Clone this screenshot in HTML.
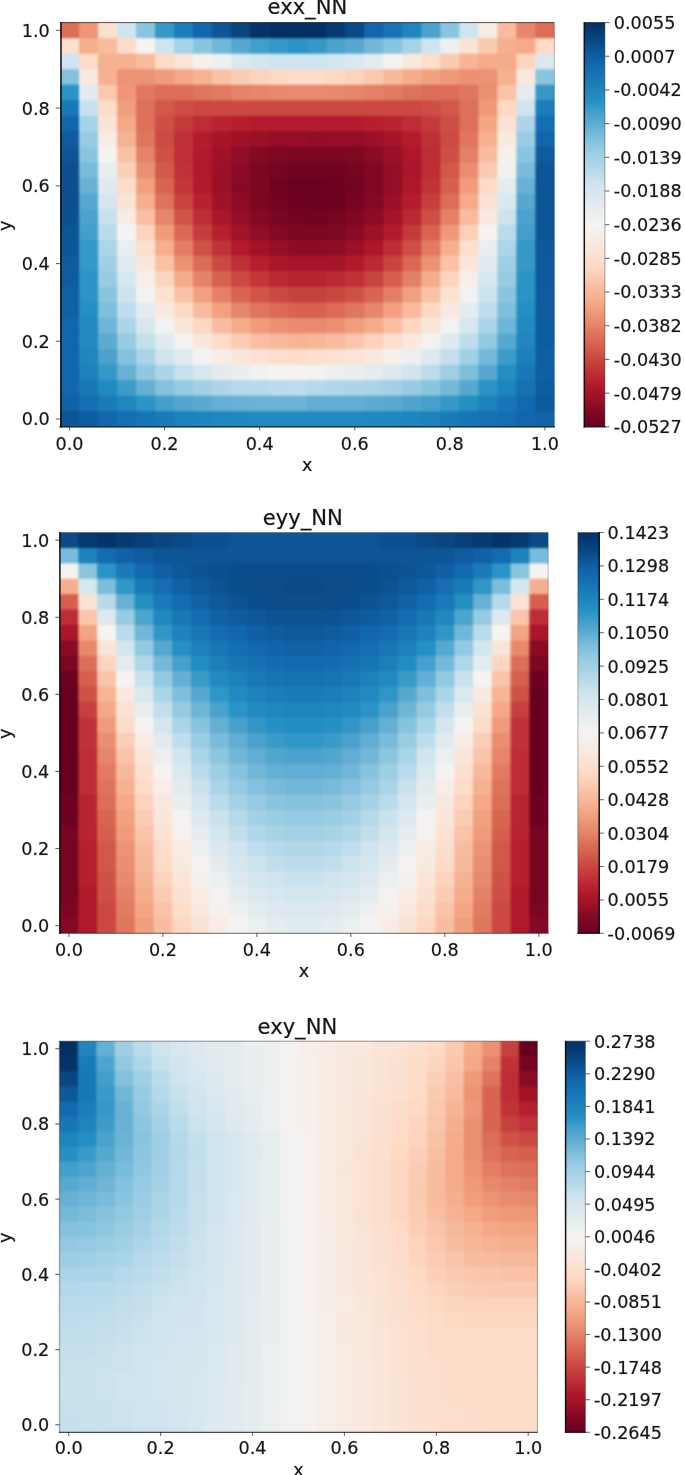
<!DOCTYPE html>
<html><head><meta charset="utf-8"><title>strain fields</title>
<style>html,body{margin:0;padding:0;background:#fff}svg{display:block}text{font-family:"DejaVu Sans","Liberation Sans",sans-serif;fill:#151515;stroke:#151515;stroke-width:0.7;stroke-opacity:0.3}line{stroke:#111}</style></head>
<body>
<svg width="685" height="1475" viewBox="0 0 685 1475">
<defs><linearGradient id="rdbu" x1="0" y1="0" x2="0" y2="1"><stop offset="0.000" stop-color="#033063"/><stop offset="0.025" stop-color="#063d74"/><stop offset="0.050" stop-color="#0a4a86"/><stop offset="0.075" stop-color="#0e599b"/><stop offset="0.100" stop-color="#1266ad"/><stop offset="0.125" stop-color="#1671b3"/><stop offset="0.150" stop-color="#1b7dba"/><stop offset="0.175" stop-color="#2088bf"/><stop offset="0.200" stop-color="#2994c5"/><stop offset="0.225" stop-color="#47a0cb"/><stop offset="0.250" stop-color="#5dabd1"/><stop offset="0.275" stop-color="#75b9d9"/><stop offset="0.300" stop-color="#8ac5df"/><stop offset="0.325" stop-color="#9dcee4"/><stop offset="0.350" stop-color="#add5e8"/><stop offset="0.375" stop-color="#bddceb"/><stop offset="0.400" stop-color="#cfe4ee"/><stop offset="0.425" stop-color="#d8e7ef"/><stop offset="0.450" stop-color="#e3ebef"/><stop offset="0.475" stop-color="#ebefef"/><stop offset="0.500" stop-color="#f5f3f2"/><stop offset="0.525" stop-color="#f7ede7"/><stop offset="0.550" stop-color="#f9e8dd"/><stop offset="0.575" stop-color="#fbe1d1"/><stop offset="0.600" stop-color="#fddbc7"/><stop offset="0.625" stop-color="#fbceb7"/><stop offset="0.650" stop-color="#f8bfa4"/><stop offset="0.675" stop-color="#f6b394"/><stop offset="0.700" stop-color="#f3a481"/><stop offset="0.725" stop-color="#ec9374"/><stop offset="0.750" stop-color="#e58368"/><stop offset="0.775" stop-color="#dd7059"/><stop offset="0.800" stop-color="#d6604d"/><stop offset="0.825" stop-color="#cc4c44"/><stop offset="0.850" stop-color="#c43b3c"/><stop offset="0.875" stop-color="#bb2a34"/><stop offset="0.900" stop-color="#b1182b"/><stop offset="0.925" stop-color="#9f1228"/><stop offset="0.950" stop-color="#8a0b25"/><stop offset="0.975" stop-color="#790622"/><stop offset="1.000" stop-color="#67001f"/></linearGradient><filter id="hb" color-interpolation-filters="sRGB" x="-2%" y="-2%" width="104%" height="104%"><feGaussianBlur stdDeviation="0.8"/></filter><clipPath id="cp0"><rect x="60.00" y="22.60" width="494.40" height="404.20"/></clipPath><clipPath id="cp1"><rect x="59.50" y="532.50" width="488.70" height="400.80"/></clipPath><clipPath id="cp2"><rect x="59.50" y="1041.20" width="477.90" height="391.10"/></clipPath></defs>
<rect width="685" height="1475" fill="#fff"/>
<g clip-path="url(#cp0)"><g filter="url(#hb)">
<rect x="57.00" y="19.60" width="23.02" height="19.55" fill="#dc6e57"/><rect x="79.02" y="19.60" width="20.02" height="19.55" fill="#ee9677"/><rect x="98.03" y="19.60" width="20.02" height="19.55" fill="#fbe0cf"/><rect x="117.05" y="19.60" width="20.02" height="19.55" fill="#cfe4ee"/><rect x="136.06" y="19.60" width="20.02" height="19.55" fill="#8ac5df"/><rect x="155.08" y="19.60" width="20.02" height="19.55" fill="#3598c7"/><rect x="174.09" y="19.60" width="20.02" height="19.55" fill="#1b7dba"/><rect x="193.11" y="19.60" width="20.02" height="19.55" fill="#1266ad"/><rect x="212.12" y="19.60" width="20.02" height="19.55" fill="#0d5595"/><rect x="231.14" y="19.60" width="20.02" height="19.55" fill="#094680"/><rect x="250.15" y="19.60" width="20.02" height="19.55" fill="#043569"/><rect x="269.17" y="19.60" width="20.02" height="19.55" fill="#033063"/><rect x="288.18" y="19.60" width="20.02" height="19.55" fill="#033063"/><rect x="307.20" y="19.60" width="20.02" height="19.55" fill="#033063"/><rect x="326.22" y="19.60" width="20.02" height="19.55" fill="#063b71"/><rect x="345.23" y="19.60" width="20.02" height="19.55" fill="#0a4a86"/><rect x="364.25" y="19.60" width="20.02" height="19.55" fill="#1266ad"/><rect x="383.26" y="19.60" width="20.02" height="19.55" fill="#1874b5"/><rect x="402.28" y="19.60" width="20.02" height="19.55" fill="#1f86be"/><rect x="421.29" y="19.60" width="20.02" height="19.55" fill="#4ba2cc"/><rect x="440.31" y="19.60" width="20.02" height="19.55" fill="#8ac5df"/><rect x="459.32" y="19.60" width="20.02" height="19.55" fill="#cfe4ee"/><rect x="478.34" y="19.60" width="20.02" height="19.55" fill="#f8ece5"/><rect x="497.35" y="19.60" width="20.02" height="19.55" fill="#f8bb9e"/><rect x="516.37" y="19.60" width="20.02" height="19.55" fill="#e6866a"/><rect x="535.38" y="19.60" width="23.02" height="19.55" fill="#dc6e57"/>
<rect x="57.00" y="38.15" width="23.02" height="16.55" fill="#fbe0cf"/><rect x="79.02" y="38.15" width="20.02" height="16.55" fill="#f6af8e"/><rect x="98.03" y="38.15" width="20.02" height="16.55" fill="#f8bb9e"/><rect x="117.05" y="38.15" width="20.02" height="16.55" fill="#fcddca"/><rect x="136.06" y="38.15" width="20.02" height="16.55" fill="#f5f3f2"/><rect x="155.08" y="38.15" width="20.02" height="16.55" fill="#cfe4ee"/><rect x="174.09" y="38.15" width="20.02" height="16.55" fill="#a7d3e6"/><rect x="193.11" y="38.15" width="20.02" height="16.55" fill="#8ac5df"/><rect x="212.12" y="38.15" width="20.02" height="16.55" fill="#72b7d8"/><rect x="231.14" y="38.15" width="20.02" height="16.55" fill="#56a8cf"/><rect x="250.15" y="38.15" width="20.02" height="16.55" fill="#439eca"/><rect x="269.17" y="38.15" width="20.02" height="16.55" fill="#3598c7"/><rect x="288.18" y="38.15" width="20.02" height="16.55" fill="#2994c5"/><rect x="307.20" y="38.15" width="20.02" height="16.55" fill="#3598c7"/><rect x="326.22" y="38.15" width="20.02" height="16.55" fill="#4ba2cc"/><rect x="345.23" y="38.15" width="20.02" height="16.55" fill="#56a8cf"/><rect x="364.25" y="38.15" width="20.02" height="16.55" fill="#72b7d8"/><rect x="383.26" y="38.15" width="20.02" height="16.55" fill="#8ac5df"/><rect x="402.28" y="38.15" width="20.02" height="16.55" fill="#a7d3e6"/><rect x="421.29" y="38.15" width="20.02" height="16.55" fill="#cfe4ee"/><rect x="440.31" y="38.15" width="20.02" height="16.55" fill="#edeff0"/><rect x="459.32" y="38.15" width="20.02" height="16.55" fill="#fbe3d5"/><rect x="478.34" y="38.15" width="20.02" height="16.55" fill="#facab1"/><rect x="497.35" y="38.15" width="20.02" height="16.55" fill="#f6af8e"/><rect x="516.37" y="38.15" width="20.02" height="16.55" fill="#f5aa89"/><rect x="535.38" y="38.15" width="23.02" height="16.55" fill="#fddbc7"/>
<rect x="57.00" y="53.69" width="23.02" height="16.55" fill="#cfe4ee"/><rect x="79.02" y="53.69" width="20.02" height="16.55" fill="#fddbc7"/><rect x="98.03" y="53.69" width="20.02" height="16.55" fill="#f6b191"/><rect x="117.05" y="53.69" width="20.02" height="16.55" fill="#f6b191"/><rect x="136.06" y="53.69" width="20.02" height="16.55" fill="#f8bb9e"/><rect x="155.08" y="53.69" width="20.02" height="16.55" fill="#fddbc7"/><rect x="174.09" y="53.69" width="20.02" height="16.55" fill="#fae5d8"/><rect x="193.11" y="53.69" width="20.02" height="16.55" fill="#f7efea"/><rect x="212.12" y="53.69" width="20.02" height="16.55" fill="#edeff0"/><rect x="231.14" y="53.69" width="20.02" height="16.55" fill="#dbe8ef"/><rect x="250.15" y="53.69" width="20.02" height="16.55" fill="#d3e6ef"/><rect x="269.17" y="53.69" width="20.02" height="16.55" fill="#cfe4ee"/><rect x="288.18" y="53.69" width="20.02" height="16.55" fill="#cfe4ee"/><rect x="307.20" y="53.69" width="20.02" height="16.55" fill="#cfe4ee"/><rect x="326.22" y="53.69" width="20.02" height="16.55" fill="#d3e6ef"/><rect x="345.23" y="53.69" width="20.02" height="16.55" fill="#dbe8ef"/><rect x="364.25" y="53.69" width="20.02" height="16.55" fill="#e5ecef"/><rect x="383.26" y="53.69" width="20.02" height="16.55" fill="#f5f3f2"/><rect x="402.28" y="53.69" width="20.02" height="16.55" fill="#f9e8dd"/><rect x="421.29" y="53.69" width="20.02" height="16.55" fill="#fcdecc"/><rect x="440.31" y="53.69" width="20.02" height="16.55" fill="#facab1"/><rect x="459.32" y="53.69" width="20.02" height="16.55" fill="#f7b596"/><rect x="478.34" y="53.69" width="20.02" height="16.55" fill="#f5aa89"/><rect x="497.35" y="53.69" width="20.02" height="16.55" fill="#f5aa89"/><rect x="516.37" y="53.69" width="20.02" height="16.55" fill="#fcd5bf"/><rect x="535.38" y="53.69" width="23.02" height="16.55" fill="#dbe8ef"/>
<rect x="57.00" y="69.24" width="23.02" height="16.55" fill="#83c1dd"/><rect x="79.02" y="69.24" width="20.02" height="16.55" fill="#f8e9e0"/><rect x="98.03" y="69.24" width="20.02" height="16.55" fill="#f6b191"/><rect x="117.05" y="69.24" width="20.02" height="16.55" fill="#ec9374"/><rect x="136.06" y="69.24" width="20.02" height="16.55" fill="#ec9374"/><rect x="155.08" y="69.24" width="20.02" height="16.55" fill="#f09c7b"/><rect x="174.09" y="69.24" width="20.02" height="16.55" fill="#f5a886"/><rect x="193.11" y="69.24" width="20.02" height="16.55" fill="#f6b394"/><rect x="212.12" y="69.24" width="20.02" height="16.55" fill="#f9c2a7"/><rect x="231.14" y="69.24" width="20.02" height="16.55" fill="#fbccb4"/><rect x="250.15" y="69.24" width="20.02" height="16.55" fill="#fcd3bc"/><rect x="269.17" y="69.24" width="20.02" height="16.55" fill="#fdd9c4"/><rect x="288.18" y="69.24" width="20.02" height="16.55" fill="#fddcc9"/><rect x="307.20" y="69.24" width="20.02" height="16.55" fill="#fddcc9"/><rect x="326.22" y="69.24" width="20.02" height="16.55" fill="#fdd9c4"/><rect x="345.23" y="69.24" width="20.02" height="16.55" fill="#fcd3bc"/><rect x="364.25" y="69.24" width="20.02" height="16.55" fill="#fac8af"/><rect x="383.26" y="69.24" width="20.02" height="16.55" fill="#f7b99c"/><rect x="402.28" y="69.24" width="20.02" height="16.55" fill="#f5ac8b"/><rect x="421.29" y="69.24" width="20.02" height="16.55" fill="#f2a17f"/><rect x="440.31" y="69.24" width="20.02" height="16.55" fill="#ef9979"/><rect x="459.32" y="69.24" width="20.02" height="16.55" fill="#eb9172"/><rect x="478.34" y="69.24" width="20.02" height="16.55" fill="#ec9374"/><rect x="497.35" y="69.24" width="20.02" height="16.55" fill="#f6b191"/><rect x="516.37" y="69.24" width="20.02" height="16.55" fill="#f8e9e0"/><rect x="535.38" y="69.24" width="23.02" height="16.55" fill="#8ac5df"/>
<rect x="57.00" y="84.78" width="23.02" height="16.55" fill="#2994c5"/><rect x="79.02" y="84.78" width="20.02" height="16.55" fill="#e3ebef"/><rect x="98.03" y="84.78" width="20.02" height="16.55" fill="#fac8af"/><rect x="117.05" y="84.78" width="20.02" height="16.55" fill="#ee9677"/><rect x="136.06" y="84.78" width="20.02" height="16.55" fill="#e17860"/><rect x="155.08" y="84.78" width="20.02" height="16.55" fill="#dc6e57"/><rect x="174.09" y="84.78" width="20.02" height="16.55" fill="#dc6e57"/><rect x="193.11" y="84.78" width="20.02" height="16.55" fill="#df765e"/><rect x="212.12" y="84.78" width="20.02" height="16.55" fill="#e27b62"/><rect x="231.14" y="84.78" width="20.02" height="16.55" fill="#e58368"/><rect x="250.15" y="84.78" width="20.02" height="16.55" fill="#e6866a"/><rect x="269.17" y="84.78" width="20.02" height="16.55" fill="#e8896c"/><rect x="288.18" y="84.78" width="20.02" height="16.55" fill="#e98b6e"/><rect x="307.20" y="84.78" width="20.02" height="16.55" fill="#e98b6e"/><rect x="326.22" y="84.78" width="20.02" height="16.55" fill="#e8896c"/><rect x="345.23" y="84.78" width="20.02" height="16.55" fill="#e6866a"/><rect x="364.25" y="84.78" width="20.02" height="16.55" fill="#e48066"/><rect x="383.26" y="84.78" width="20.02" height="16.55" fill="#e27b62"/><rect x="402.28" y="84.78" width="20.02" height="16.55" fill="#de735c"/><rect x="421.29" y="84.78" width="20.02" height="16.55" fill="#dc6e57"/><rect x="440.31" y="84.78" width="20.02" height="16.55" fill="#dc6e57"/><rect x="459.32" y="84.78" width="20.02" height="16.55" fill="#df765e"/><rect x="478.34" y="84.78" width="20.02" height="16.55" fill="#eb9172"/><rect x="497.35" y="84.78" width="20.02" height="16.55" fill="#f9c4a9"/><rect x="516.37" y="84.78" width="20.02" height="16.55" fill="#e5ecef"/><rect x="535.38" y="84.78" width="23.02" height="16.55" fill="#3598c7"/>
<rect x="57.00" y="100.33" width="23.02" height="16.55" fill="#1978b7"/><rect x="79.02" y="100.33" width="20.02" height="16.55" fill="#c7e1ed"/><rect x="98.03" y="100.33" width="20.02" height="16.55" fill="#fcddca"/><rect x="117.05" y="100.33" width="20.02" height="16.55" fill="#f19e7d"/><rect x="136.06" y="100.33" width="20.02" height="16.55" fill="#dd7059"/><rect x="155.08" y="100.33" width="20.02" height="16.55" fill="#d25849"/><rect x="174.09" y="100.33" width="20.02" height="16.55" fill="#ce4f45"/><rect x="193.11" y="100.33" width="20.02" height="16.55" fill="#cb4942"/><rect x="212.12" y="100.33" width="20.02" height="16.55" fill="#cb4942"/><rect x="231.14" y="100.33" width="20.02" height="16.55" fill="#cb4942"/><rect x="250.15" y="100.33" width="20.02" height="16.55" fill="#cb4942"/><rect x="269.17" y="100.33" width="20.02" height="16.55" fill="#cb4942"/><rect x="288.18" y="100.33" width="20.02" height="16.55" fill="#cb4942"/><rect x="307.20" y="100.33" width="20.02" height="16.55" fill="#cb4942"/><rect x="326.22" y="100.33" width="20.02" height="16.55" fill="#cb4942"/><rect x="345.23" y="100.33" width="20.02" height="16.55" fill="#cb4942"/><rect x="364.25" y="100.33" width="20.02" height="16.55" fill="#cb4942"/><rect x="383.26" y="100.33" width="20.02" height="16.55" fill="#cb4942"/><rect x="402.28" y="100.33" width="20.02" height="16.55" fill="#cb4942"/><rect x="421.29" y="100.33" width="20.02" height="16.55" fill="#ce4f45"/><rect x="440.31" y="100.33" width="20.02" height="16.55" fill="#d25849"/><rect x="459.32" y="100.33" width="20.02" height="16.55" fill="#dd7059"/><rect x="478.34" y="100.33" width="20.02" height="16.55" fill="#ef9979"/><rect x="497.35" y="100.33" width="20.02" height="16.55" fill="#fdd9c4"/><rect x="516.37" y="100.33" width="20.02" height="16.55" fill="#cfe4ee"/><rect x="535.38" y="100.33" width="23.02" height="16.55" fill="#1b7dba"/>
<rect x="57.00" y="115.88" width="23.02" height="16.55" fill="#1266ad"/><rect x="79.02" y="115.88" width="20.02" height="16.55" fill="#a7d3e6"/><rect x="98.03" y="115.88" width="20.02" height="16.55" fill="#fae4d6"/><rect x="117.05" y="115.88" width="20.02" height="16.55" fill="#f5a886"/><rect x="136.06" y="115.88" width="20.02" height="16.55" fill="#dd7059"/><rect x="155.08" y="115.88" width="20.02" height="16.55" fill="#ce4f45"/><rect x="174.09" y="115.88" width="20.02" height="16.55" fill="#c43b3c"/><rect x="193.11" y="115.88" width="20.02" height="16.55" fill="#bd2d35"/><rect x="212.12" y="115.88" width="20.02" height="16.55" fill="#b82531"/><rect x="231.14" y="115.88" width="20.02" height="16.55" fill="#b61f2e"/><rect x="250.15" y="115.88" width="20.02" height="16.55" fill="#b41c2d"/><rect x="269.17" y="115.88" width="20.02" height="16.55" fill="#b41c2d"/><rect x="288.18" y="115.88" width="20.02" height="16.55" fill="#b41c2d"/><rect x="307.20" y="115.88" width="20.02" height="16.55" fill="#b41c2d"/><rect x="326.22" y="115.88" width="20.02" height="16.55" fill="#b41c2d"/><rect x="345.23" y="115.88" width="20.02" height="16.55" fill="#b41c2d"/><rect x="364.25" y="115.88" width="20.02" height="16.55" fill="#b61f2e"/><rect x="383.26" y="115.88" width="20.02" height="16.55" fill="#b82531"/><rect x="402.28" y="115.88" width="20.02" height="16.55" fill="#bd2d35"/><rect x="421.29" y="115.88" width="20.02" height="16.55" fill="#c43b3c"/><rect x="440.31" y="115.88" width="20.02" height="16.55" fill="#ce4f45"/><rect x="459.32" y="115.88" width="20.02" height="16.55" fill="#dd7059"/><rect x="478.34" y="115.88" width="20.02" height="16.55" fill="#f4a683"/><rect x="497.35" y="115.88" width="20.02" height="16.55" fill="#fbe2d3"/><rect x="516.37" y="115.88" width="20.02" height="16.55" fill="#add5e8"/><rect x="535.38" y="115.88" width="23.02" height="16.55" fill="#156fb2"/>
<rect x="57.00" y="131.42" width="23.02" height="16.55" fill="#0f5b9e"/><rect x="79.02" y="131.42" width="20.02" height="16.55" fill="#97cbe2"/><rect x="98.03" y="131.42" width="20.02" height="16.55" fill="#f8ebe4"/><rect x="117.05" y="131.42" width="20.02" height="16.55" fill="#f6b394"/><rect x="136.06" y="131.42" width="20.02" height="16.55" fill="#df765e"/><rect x="155.08" y="131.42" width="20.02" height="16.55" fill="#cc4c44"/><rect x="174.09" y="131.42" width="20.02" height="16.55" fill="#be3036"/><rect x="193.11" y="131.42" width="20.02" height="16.55" fill="#b41c2d"/><rect x="212.12" y="131.42" width="20.02" height="16.55" fill="#a81529"/><rect x="231.14" y="131.42" width="20.02" height="16.55" fill="#9f1228"/><rect x="250.15" y="131.42" width="20.02" height="16.55" fill="#991027"/><rect x="269.17" y="131.42" width="20.02" height="16.55" fill="#930e26"/><rect x="288.18" y="131.42" width="20.02" height="16.55" fill="#930e26"/><rect x="307.20" y="131.42" width="20.02" height="16.55" fill="#900d26"/><rect x="326.22" y="131.42" width="20.02" height="16.55" fill="#930e26"/><rect x="345.23" y="131.42" width="20.02" height="16.55" fill="#930e26"/><rect x="364.25" y="131.42" width="20.02" height="16.55" fill="#9c1127"/><rect x="383.26" y="131.42" width="20.02" height="16.55" fill="#a51429"/><rect x="402.28" y="131.42" width="20.02" height="16.55" fill="#b41c2d"/><rect x="421.29" y="131.42" width="20.02" height="16.55" fill="#be3036"/><rect x="440.31" y="131.42" width="20.02" height="16.55" fill="#cc4c44"/><rect x="459.32" y="131.42" width="20.02" height="16.55" fill="#df765e"/><rect x="478.34" y="131.42" width="20.02" height="16.55" fill="#f6b191"/><rect x="497.35" y="131.42" width="20.02" height="16.55" fill="#f9eae0"/><rect x="516.37" y="131.42" width="20.02" height="16.55" fill="#9acde3"/><rect x="535.38" y="131.42" width="23.02" height="16.55" fill="#1266ad"/>
<rect x="57.00" y="146.97" width="23.02" height="16.55" fill="#0d5595"/><rect x="79.02" y="146.97" width="20.02" height="16.55" fill="#8ac5df"/><rect x="98.03" y="146.97" width="20.02" height="16.55" fill="#f6f2ef"/><rect x="117.05" y="146.97" width="20.02" height="16.55" fill="#f9c2a7"/><rect x="136.06" y="146.97" width="20.02" height="16.55" fill="#e58368"/><rect x="155.08" y="146.97" width="20.02" height="16.55" fill="#cf5246"/><rect x="174.09" y="146.97" width="20.02" height="16.55" fill="#be3036"/><rect x="193.11" y="146.97" width="20.02" height="16.55" fill="#b3192c"/><rect x="212.12" y="146.97" width="20.02" height="16.55" fill="#9f1228"/><rect x="231.14" y="146.97" width="20.02" height="16.55" fill="#900d26"/><rect x="250.15" y="146.97" width="20.02" height="16.55" fill="#840924"/><rect x="269.17" y="146.97" width="20.02" height="16.55" fill="#7f0823"/><rect x="288.18" y="146.97" width="20.02" height="16.55" fill="#7c0722"/><rect x="307.20" y="146.97" width="20.02" height="16.55" fill="#7c0722"/><rect x="326.22" y="146.97" width="20.02" height="16.55" fill="#7c0722"/><rect x="345.23" y="146.97" width="20.02" height="16.55" fill="#7f0823"/><rect x="364.25" y="146.97" width="20.02" height="16.55" fill="#8a0b25"/><rect x="383.26" y="146.97" width="20.02" height="16.55" fill="#991027"/><rect x="402.28" y="146.97" width="20.02" height="16.55" fill="#ae172a"/><rect x="421.29" y="146.97" width="20.02" height="16.55" fill="#bd2d35"/><rect x="440.31" y="146.97" width="20.02" height="16.55" fill="#ce4f45"/><rect x="459.32" y="146.97" width="20.02" height="16.55" fill="#e48066"/><rect x="478.34" y="146.97" width="20.02" height="16.55" fill="#f8bda1"/><rect x="497.35" y="146.97" width="20.02" height="16.55" fill="#f6f0ec"/><rect x="516.37" y="146.97" width="20.02" height="16.55" fill="#8ac5df"/><rect x="535.38" y="146.97" width="23.02" height="16.55" fill="#0f5b9e"/>
<rect x="57.00" y="162.52" width="23.02" height="16.55" fill="#0c508f"/><rect x="79.02" y="162.52" width="20.02" height="16.55" fill="#79bbda"/><rect x="98.03" y="162.52" width="20.02" height="16.55" fill="#e8edef"/><rect x="117.05" y="162.52" width="20.02" height="16.55" fill="#fbd0b9"/><rect x="136.06" y="162.52" width="20.02" height="16.55" fill="#eb9172"/><rect x="155.08" y="162.52" width="20.02" height="16.55" fill="#d35a4a"/><rect x="174.09" y="162.52" width="20.02" height="16.55" fill="#bf3338"/><rect x="193.11" y="162.52" width="20.02" height="16.55" fill="#b1182b"/><rect x="212.12" y="162.52" width="20.02" height="16.55" fill="#9c1127"/><rect x="231.14" y="162.52" width="20.02" height="16.55" fill="#8a0b25"/><rect x="250.15" y="162.52" width="20.02" height="16.55" fill="#7c0722"/><rect x="269.17" y="162.52" width="20.02" height="16.55" fill="#760521"/><rect x="288.18" y="162.52" width="20.02" height="16.55" fill="#700320"/><rect x="307.20" y="162.52" width="20.02" height="16.55" fill="#700320"/><rect x="326.22" y="162.52" width="20.02" height="16.55" fill="#700320"/><rect x="345.23" y="162.52" width="20.02" height="16.55" fill="#760521"/><rect x="364.25" y="162.52" width="20.02" height="16.55" fill="#810823"/><rect x="383.26" y="162.52" width="20.02" height="16.55" fill="#930e26"/><rect x="402.28" y="162.52" width="20.02" height="16.55" fill="#ab162a"/><rect x="421.29" y="162.52" width="20.02" height="16.55" fill="#bd2d35"/><rect x="440.31" y="162.52" width="20.02" height="16.55" fill="#d25849"/><rect x="459.32" y="162.52" width="20.02" height="16.55" fill="#ea8e70"/><rect x="478.34" y="162.52" width="20.02" height="16.55" fill="#facab1"/><rect x="497.35" y="162.52" width="20.02" height="16.55" fill="#f0f1f0"/><rect x="516.37" y="162.52" width="20.02" height="16.55" fill="#79bbda"/><rect x="535.38" y="162.52" width="23.02" height="16.55" fill="#0d5595"/>
<rect x="57.00" y="178.06" width="23.02" height="16.55" fill="#0c508f"/><rect x="79.02" y="178.06" width="20.02" height="16.55" fill="#68b1d5"/><rect x="98.03" y="178.06" width="20.02" height="16.55" fill="#deeaef"/><rect x="117.05" y="178.06" width="20.02" height="16.55" fill="#fcddca"/><rect x="136.06" y="178.06" width="20.02" height="16.55" fill="#f2a17f"/><rect x="155.08" y="178.06" width="20.02" height="16.55" fill="#d86551"/><rect x="174.09" y="178.06" width="20.02" height="16.55" fill="#c2383a"/><rect x="193.11" y="178.06" width="20.02" height="16.55" fill="#b3192c"/><rect x="212.12" y="178.06" width="20.02" height="16.55" fill="#9c1127"/><rect x="231.14" y="178.06" width="20.02" height="16.55" fill="#870a24"/><rect x="250.15" y="178.06" width="20.02" height="16.55" fill="#7c0722"/><rect x="269.17" y="178.06" width="20.02" height="16.55" fill="#700320"/><rect x="288.18" y="178.06" width="20.02" height="16.55" fill="#6a011f"/><rect x="307.20" y="178.06" width="20.02" height="16.55" fill="#6a011f"/><rect x="326.22" y="178.06" width="20.02" height="16.55" fill="#6d0220"/><rect x="345.23" y="178.06" width="20.02" height="16.55" fill="#730421"/><rect x="364.25" y="178.06" width="20.02" height="16.55" fill="#7f0823"/><rect x="383.26" y="178.06" width="20.02" height="16.55" fill="#930e26"/><rect x="402.28" y="178.06" width="20.02" height="16.55" fill="#ae172a"/><rect x="421.29" y="178.06" width="20.02" height="16.55" fill="#bf3338"/><rect x="440.31" y="178.06" width="20.02" height="16.55" fill="#d6604d"/><rect x="459.32" y="178.06" width="20.02" height="16.55" fill="#f09c7b"/><rect x="478.34" y="178.06" width="20.02" height="16.55" fill="#fddbc7"/><rect x="497.35" y="178.06" width="20.02" height="16.55" fill="#e4ecef"/><rect x="516.37" y="178.06" width="20.02" height="16.55" fill="#68b1d5"/><rect x="535.38" y="178.06" width="23.02" height="16.55" fill="#0d5595"/>
<rect x="57.00" y="193.61" width="23.02" height="16.55" fill="#0c508f"/><rect x="79.02" y="193.61" width="20.02" height="16.55" fill="#56a8cf"/><rect x="98.03" y="193.61" width="20.02" height="16.55" fill="#d5e6ef"/><rect x="117.05" y="193.61" width="20.02" height="16.55" fill="#fae4d6"/><rect x="136.06" y="193.61" width="20.02" height="16.55" fill="#f6af8e"/><rect x="155.08" y="193.61" width="20.02" height="16.55" fill="#de735c"/><rect x="174.09" y="193.61" width="20.02" height="16.55" fill="#c84440"/><rect x="193.11" y="193.61" width="20.02" height="16.55" fill="#b72230"/><rect x="212.12" y="193.61" width="20.02" height="16.55" fill="#9f1228"/><rect x="231.14" y="193.61" width="20.02" height="16.55" fill="#8d0c25"/><rect x="250.15" y="193.61" width="20.02" height="16.55" fill="#7c0722"/><rect x="269.17" y="193.61" width="20.02" height="16.55" fill="#730421"/><rect x="288.18" y="193.61" width="20.02" height="16.55" fill="#6d0220"/><rect x="307.20" y="193.61" width="20.02" height="16.55" fill="#6a011f"/><rect x="326.22" y="193.61" width="20.02" height="16.55" fill="#6d0220"/><rect x="345.23" y="193.61" width="20.02" height="16.55" fill="#760521"/><rect x="364.25" y="193.61" width="20.02" height="16.55" fill="#840924"/><rect x="383.26" y="193.61" width="20.02" height="16.55" fill="#991027"/><rect x="402.28" y="193.61" width="20.02" height="16.55" fill="#b41c2d"/><rect x="421.29" y="193.61" width="20.02" height="16.55" fill="#c53e3d"/><rect x="440.31" y="193.61" width="20.02" height="16.55" fill="#dc6e57"/><rect x="459.32" y="193.61" width="20.02" height="16.55" fill="#f5aa89"/><rect x="478.34" y="193.61" width="20.02" height="16.55" fill="#fbe2d3"/><rect x="497.35" y="193.61" width="20.02" height="16.55" fill="#dae8ef"/><rect x="516.37" y="193.61" width="20.02" height="16.55" fill="#56a8cf"/><rect x="535.38" y="193.61" width="23.02" height="16.55" fill="#0d5595"/>
<rect x="57.00" y="209.15" width="23.02" height="16.55" fill="#0c508f"/><rect x="79.02" y="209.15" width="20.02" height="16.55" fill="#4ba2cc"/><rect x="98.03" y="209.15" width="20.02" height="16.55" fill="#c7e1ed"/><rect x="117.05" y="209.15" width="20.02" height="16.55" fill="#f8ebe4"/><rect x="136.06" y="209.15" width="20.02" height="16.55" fill="#f8bfa4"/><rect x="155.08" y="209.15" width="20.02" height="16.55" fill="#e6866a"/><rect x="174.09" y="209.15" width="20.02" height="16.55" fill="#d05548"/><rect x="193.11" y="209.15" width="20.02" height="16.55" fill="#bd2d35"/><rect x="212.12" y="209.15" width="20.02" height="16.55" fill="#ab162a"/><rect x="231.14" y="209.15" width="20.02" height="16.55" fill="#930e26"/><rect x="250.15" y="209.15" width="20.02" height="16.55" fill="#840924"/><rect x="269.17" y="209.15" width="20.02" height="16.55" fill="#790622"/><rect x="288.18" y="209.15" width="20.02" height="16.55" fill="#730421"/><rect x="307.20" y="209.15" width="20.02" height="16.55" fill="#700320"/><rect x="326.22" y="209.15" width="20.02" height="16.55" fill="#760521"/><rect x="345.23" y="209.15" width="20.02" height="16.55" fill="#7f0823"/><rect x="364.25" y="209.15" width="20.02" height="16.55" fill="#8d0c25"/><rect x="383.26" y="209.15" width="20.02" height="16.55" fill="#a51429"/><rect x="402.28" y="209.15" width="20.02" height="16.55" fill="#ba2832"/><rect x="421.29" y="209.15" width="20.02" height="16.55" fill="#ce4f45"/><rect x="440.31" y="209.15" width="20.02" height="16.55" fill="#e48066"/><rect x="459.32" y="209.15" width="20.02" height="16.55" fill="#f8bb9e"/><rect x="478.34" y="209.15" width="20.02" height="16.55" fill="#f8e9e0"/><rect x="497.35" y="209.15" width="20.02" height="16.55" fill="#cce3ee"/><rect x="516.37" y="209.15" width="20.02" height="16.55" fill="#4ba2cc"/><rect x="535.38" y="209.15" width="23.02" height="16.55" fill="#0d5595"/>
<rect x="57.00" y="224.70" width="23.02" height="16.55" fill="#0d5595"/><rect x="79.02" y="224.70" width="20.02" height="16.55" fill="#439eca"/><rect x="98.03" y="224.70" width="20.02" height="16.55" fill="#badbeb"/><rect x="117.05" y="224.70" width="20.02" height="16.55" fill="#f5f3f2"/><rect x="136.06" y="224.70" width="20.02" height="16.55" fill="#fcd3bc"/><rect x="155.08" y="224.70" width="20.02" height="16.55" fill="#f09c7b"/><rect x="174.09" y="224.70" width="20.02" height="16.55" fill="#da6853"/><rect x="193.11" y="224.70" width="20.02" height="16.55" fill="#c53e3d"/><rect x="212.12" y="224.70" width="20.02" height="16.55" fill="#b61f2e"/><rect x="231.14" y="224.70" width="20.02" height="16.55" fill="#a21328"/><rect x="250.15" y="224.70" width="20.02" height="16.55" fill="#900d26"/><rect x="269.17" y="224.70" width="20.02" height="16.55" fill="#840924"/><rect x="288.18" y="224.70" width="20.02" height="16.55" fill="#7c0722"/><rect x="307.20" y="224.70" width="20.02" height="16.55" fill="#7c0722"/><rect x="326.22" y="224.70" width="20.02" height="16.55" fill="#810823"/><rect x="345.23" y="224.70" width="20.02" height="16.55" fill="#8a0b25"/><rect x="364.25" y="224.70" width="20.02" height="16.55" fill="#9c1127"/><rect x="383.26" y="224.70" width="20.02" height="16.55" fill="#b3192c"/><rect x="402.28" y="224.70" width="20.02" height="16.55" fill="#c43b3c"/><rect x="421.29" y="224.70" width="20.02" height="16.55" fill="#d86551"/><rect x="440.31" y="224.70" width="20.02" height="16.55" fill="#ef9979"/><rect x="459.32" y="224.70" width="20.02" height="16.55" fill="#fbd0b9"/><rect x="478.34" y="224.70" width="20.02" height="16.55" fill="#f5f3f1"/><rect x="497.35" y="224.70" width="20.02" height="16.55" fill="#badbeb"/><rect x="516.37" y="224.70" width="20.02" height="16.55" fill="#439eca"/><rect x="535.38" y="224.70" width="23.02" height="16.55" fill="#0d5595"/>
<rect x="57.00" y="240.25" width="23.02" height="16.55" fill="#0d5595"/><rect x="79.02" y="240.25" width="20.02" height="16.55" fill="#3598c7"/><rect x="98.03" y="240.25" width="20.02" height="16.55" fill="#add5e8"/><rect x="117.05" y="240.25" width="20.02" height="16.55" fill="#eaeeef"/><rect x="136.06" y="240.25" width="20.02" height="16.55" fill="#fcdfce"/><rect x="155.08" y="240.25" width="20.02" height="16.55" fill="#f6af8e"/><rect x="174.09" y="240.25" width="20.02" height="16.55" fill="#e37e64"/><rect x="193.11" y="240.25" width="20.02" height="16.55" fill="#cf5246"/><rect x="212.12" y="240.25" width="20.02" height="16.55" fill="#bf3338"/><rect x="231.14" y="240.25" width="20.02" height="16.55" fill="#b3192c"/><rect x="250.15" y="240.25" width="20.02" height="16.55" fill="#a21328"/><rect x="269.17" y="240.25" width="20.02" height="16.55" fill="#960f27"/><rect x="288.18" y="240.25" width="20.02" height="16.55" fill="#8d0c25"/><rect x="307.20" y="240.25" width="20.02" height="16.55" fill="#8d0c25"/><rect x="326.22" y="240.25" width="20.02" height="16.55" fill="#900d26"/><rect x="345.23" y="240.25" width="20.02" height="16.55" fill="#9c1127"/><rect x="364.25" y="240.25" width="20.02" height="16.55" fill="#ae172a"/><rect x="383.26" y="240.25" width="20.02" height="16.55" fill="#bd2d35"/><rect x="402.28" y="240.25" width="20.02" height="16.55" fill="#ce4f45"/><rect x="421.29" y="240.25" width="20.02" height="16.55" fill="#e27b62"/><rect x="440.31" y="240.25" width="20.02" height="16.55" fill="#f6af8e"/><rect x="459.32" y="240.25" width="20.02" height="16.55" fill="#fcdfce"/><rect x="478.34" y="240.25" width="20.02" height="16.55" fill="#eaeeef"/><rect x="497.35" y="240.25" width="20.02" height="16.55" fill="#add5e8"/><rect x="516.37" y="240.25" width="20.02" height="16.55" fill="#3598c7"/><rect x="535.38" y="240.25" width="23.02" height="16.55" fill="#0e5798"/>
<rect x="57.00" y="255.79" width="23.02" height="16.55" fill="#0f5b9e"/><rect x="79.02" y="255.79" width="20.02" height="16.55" fill="#3598c7"/><rect x="98.03" y="255.79" width="20.02" height="16.55" fill="#9fcfe4"/><rect x="117.05" y="255.79" width="20.02" height="16.55" fill="#e1ebef"/><rect x="136.06" y="255.79" width="20.02" height="16.55" fill="#f9e7db"/><rect x="155.08" y="255.79" width="20.02" height="16.55" fill="#f9c2a7"/><rect x="174.09" y="255.79" width="20.02" height="16.55" fill="#ec9374"/><rect x="193.11" y="255.79" width="20.02" height="16.55" fill="#db6b55"/><rect x="212.12" y="255.79" width="20.02" height="16.55" fill="#cb4942"/><rect x="231.14" y="255.79" width="20.02" height="16.55" fill="#be3036"/><rect x="250.15" y="255.79" width="20.02" height="16.55" fill="#b61f2e"/><rect x="269.17" y="255.79" width="20.02" height="16.55" fill="#ab162a"/><rect x="288.18" y="255.79" width="20.02" height="16.55" fill="#a51429"/><rect x="307.20" y="255.79" width="20.02" height="16.55" fill="#a51429"/><rect x="326.22" y="255.79" width="20.02" height="16.55" fill="#a81529"/><rect x="345.23" y="255.79" width="20.02" height="16.55" fill="#b3192c"/><rect x="364.25" y="255.79" width="20.02" height="16.55" fill="#bb2a34"/><rect x="383.26" y="255.79" width="20.02" height="16.55" fill="#c84440"/><rect x="402.28" y="255.79" width="20.02" height="16.55" fill="#da6853"/><rect x="421.29" y="255.79" width="20.02" height="16.55" fill="#ec9374"/><rect x="440.31" y="255.79" width="20.02" height="16.55" fill="#f9c2a7"/><rect x="459.32" y="255.79" width="20.02" height="16.55" fill="#f9e7db"/><rect x="478.34" y="255.79" width="20.02" height="16.55" fill="#e1ebef"/><rect x="497.35" y="255.79" width="20.02" height="16.55" fill="#9fcfe4"/><rect x="516.37" y="255.79" width="20.02" height="16.55" fill="#3598c7"/><rect x="535.38" y="255.79" width="23.02" height="16.55" fill="#0e599b"/>
<rect x="57.00" y="271.34" width="23.02" height="16.55" fill="#0f5b9e"/><rect x="79.02" y="271.34" width="20.02" height="16.55" fill="#2994c5"/><rect x="98.03" y="271.34" width="20.02" height="16.55" fill="#97cbe2"/><rect x="117.05" y="271.34" width="20.02" height="16.55" fill="#d7e7ef"/><rect x="136.06" y="271.34" width="20.02" height="16.55" fill="#f7eee9"/><rect x="155.08" y="271.34" width="20.02" height="16.55" fill="#fcd5bf"/><rect x="174.09" y="271.34" width="20.02" height="16.55" fill="#f5ac8b"/><rect x="193.11" y="271.34" width="20.02" height="16.55" fill="#e58368"/><rect x="212.12" y="271.34" width="20.02" height="16.55" fill="#d7634f"/><rect x="231.14" y="271.34" width="20.02" height="16.55" fill="#cb4942"/><rect x="250.15" y="271.34" width="20.02" height="16.55" fill="#c2383a"/><rect x="269.17" y="271.34" width="20.02" height="16.55" fill="#bb2a34"/><rect x="288.18" y="271.34" width="20.02" height="16.55" fill="#b82531"/><rect x="307.20" y="271.34" width="20.02" height="16.55" fill="#b82531"/><rect x="326.22" y="271.34" width="20.02" height="16.55" fill="#bb2a34"/><rect x="345.23" y="271.34" width="20.02" height="16.55" fill="#bf3338"/><rect x="364.25" y="271.34" width="20.02" height="16.55" fill="#c84440"/><rect x="383.26" y="271.34" width="20.02" height="16.55" fill="#d6604d"/><rect x="402.28" y="271.34" width="20.02" height="16.55" fill="#e48066"/><rect x="421.29" y="271.34" width="20.02" height="16.55" fill="#f5ac8b"/><rect x="440.31" y="271.34" width="20.02" height="16.55" fill="#fcd5bf"/><rect x="459.32" y="271.34" width="20.02" height="16.55" fill="#f7eee9"/><rect x="478.34" y="271.34" width="20.02" height="16.55" fill="#d7e7ef"/><rect x="497.35" y="271.34" width="20.02" height="16.55" fill="#97cbe2"/><rect x="516.37" y="271.34" width="20.02" height="16.55" fill="#2994c5"/><rect x="535.38" y="271.34" width="23.02" height="16.55" fill="#0e599b"/>
<rect x="57.00" y="286.88" width="23.02" height="16.55" fill="#1161a7"/><rect x="79.02" y="286.88" width="20.02" height="16.55" fill="#2994c5"/><rect x="98.03" y="286.88" width="20.02" height="16.55" fill="#8ac5df"/><rect x="117.05" y="286.88" width="20.02" height="16.55" fill="#cce3ee"/><rect x="136.06" y="286.88" width="20.02" height="16.55" fill="#f1f2f1"/><rect x="155.08" y="286.88" width="20.02" height="16.55" fill="#fbe2d3"/><rect x="174.09" y="286.88" width="20.02" height="16.55" fill="#f9c2a7"/><rect x="193.11" y="286.88" width="20.02" height="16.55" fill="#f2a17f"/><rect x="212.12" y="286.88" width="20.02" height="16.55" fill="#e48066"/><rect x="231.14" y="286.88" width="20.02" height="16.55" fill="#d86551"/><rect x="250.15" y="286.88" width="20.02" height="16.55" fill="#d05548"/><rect x="269.17" y="286.88" width="20.02" height="16.55" fill="#cb4942"/><rect x="288.18" y="286.88" width="20.02" height="16.55" fill="#c6413e"/><rect x="307.20" y="286.88" width="20.02" height="16.55" fill="#c6413e"/><rect x="326.22" y="286.88" width="20.02" height="16.55" fill="#c94741"/><rect x="345.23" y="286.88" width="20.02" height="16.55" fill="#cf5246"/><rect x="364.25" y="286.88" width="20.02" height="16.55" fill="#d86551"/><rect x="383.26" y="286.88" width="20.02" height="16.55" fill="#e37e64"/><rect x="402.28" y="286.88" width="20.02" height="16.55" fill="#f2a17f"/><rect x="421.29" y="286.88" width="20.02" height="16.55" fill="#f9c2a7"/><rect x="440.31" y="286.88" width="20.02" height="16.55" fill="#fbe2d3"/><rect x="459.32" y="286.88" width="20.02" height="16.55" fill="#f1f2f1"/><rect x="478.34" y="286.88" width="20.02" height="16.55" fill="#cce3ee"/><rect x="497.35" y="286.88" width="20.02" height="16.55" fill="#8ac5df"/><rect x="516.37" y="286.88" width="20.02" height="16.55" fill="#2994c5"/><rect x="535.38" y="286.88" width="23.02" height="16.55" fill="#0f5b9e"/>
<rect x="57.00" y="302.43" width="23.02" height="16.55" fill="#1161a7"/><rect x="79.02" y="302.43" width="20.02" height="16.55" fill="#238fc2"/><rect x="98.03" y="302.43" width="20.02" height="16.55" fill="#7fbfdc"/><rect x="117.05" y="302.43" width="20.02" height="16.55" fill="#bfddec"/><rect x="136.06" y="302.43" width="20.02" height="16.55" fill="#e5ecef"/><rect x="155.08" y="302.43" width="20.02" height="16.55" fill="#f8eae2"/><rect x="174.09" y="302.43" width="20.02" height="16.55" fill="#fdd9c4"/><rect x="193.11" y="302.43" width="20.02" height="16.55" fill="#f8bb9e"/><rect x="212.12" y="302.43" width="20.02" height="16.55" fill="#f2a17f"/><rect x="231.14" y="302.43" width="20.02" height="16.55" fill="#e6866a"/><rect x="250.15" y="302.43" width="20.02" height="16.55" fill="#df765e"/><rect x="269.17" y="302.43" width="20.02" height="16.55" fill="#db6b55"/><rect x="288.18" y="302.43" width="20.02" height="16.55" fill="#d7634f"/><rect x="307.20" y="302.43" width="20.02" height="16.55" fill="#d7634f"/><rect x="326.22" y="302.43" width="20.02" height="16.55" fill="#db6b55"/><rect x="345.23" y="302.43" width="20.02" height="16.55" fill="#df765e"/><rect x="364.25" y="302.43" width="20.02" height="16.55" fill="#e6866a"/><rect x="383.26" y="302.43" width="20.02" height="16.55" fill="#f2a17f"/><rect x="402.28" y="302.43" width="20.02" height="16.55" fill="#f8bb9e"/><rect x="421.29" y="302.43" width="20.02" height="16.55" fill="#fdd9c4"/><rect x="440.31" y="302.43" width="20.02" height="16.55" fill="#f8eae2"/><rect x="459.32" y="302.43" width="20.02" height="16.55" fill="#e5ecef"/><rect x="478.34" y="302.43" width="20.02" height="16.55" fill="#bfddec"/><rect x="497.35" y="302.43" width="20.02" height="16.55" fill="#7fbfdc"/><rect x="516.37" y="302.43" width="20.02" height="16.55" fill="#238fc2"/><rect x="535.38" y="302.43" width="23.02" height="16.55" fill="#0f5b9e"/>
<rect x="57.00" y="317.98" width="23.02" height="16.55" fill="#1266ad"/><rect x="79.02" y="317.98" width="20.02" height="16.55" fill="#218bc1"/><rect x="98.03" y="317.98" width="20.02" height="16.55" fill="#6fb5d7"/><rect x="117.05" y="317.98" width="20.02" height="16.55" fill="#add5e8"/><rect x="136.06" y="317.98" width="20.02" height="16.55" fill="#d8e7ef"/><rect x="155.08" y="317.98" width="20.02" height="16.55" fill="#f3f2f1"/><rect x="174.09" y="317.98" width="20.02" height="16.55" fill="#fae6da"/><rect x="193.11" y="317.98" width="20.02" height="16.55" fill="#fcd7c2"/><rect x="212.12" y="317.98" width="20.02" height="16.55" fill="#f8bda1"/><rect x="231.14" y="317.98" width="20.02" height="16.55" fill="#f5ac8b"/><rect x="250.15" y="317.98" width="20.02" height="16.55" fill="#f09c7b"/><rect x="269.17" y="317.98" width="20.02" height="16.55" fill="#eb9172"/><rect x="288.18" y="317.98" width="20.02" height="16.55" fill="#e98b6e"/><rect x="307.20" y="317.98" width="20.02" height="16.55" fill="#e98b6e"/><rect x="326.22" y="317.98" width="20.02" height="16.55" fill="#eb9172"/><rect x="345.23" y="317.98" width="20.02" height="16.55" fill="#f19e7d"/><rect x="364.25" y="317.98" width="20.02" height="16.55" fill="#f5ac8b"/><rect x="383.26" y="317.98" width="20.02" height="16.55" fill="#f8bfa4"/><rect x="402.28" y="317.98" width="20.02" height="16.55" fill="#fcd7c2"/><rect x="421.29" y="317.98" width="20.02" height="16.55" fill="#f9e7db"/><rect x="440.31" y="317.98" width="20.02" height="16.55" fill="#f1f2f1"/><rect x="459.32" y="317.98" width="20.02" height="16.55" fill="#d7e7ef"/><rect x="478.34" y="317.98" width="20.02" height="16.55" fill="#aad4e7"/><rect x="497.35" y="317.98" width="20.02" height="16.55" fill="#6fb5d7"/><rect x="516.37" y="317.98" width="20.02" height="16.55" fill="#218bc1"/><rect x="535.38" y="317.98" width="23.02" height="16.55" fill="#0f5da1"/>
<rect x="57.00" y="333.52" width="23.02" height="16.55" fill="#1266ad"/><rect x="79.02" y="333.52" width="20.02" height="16.55" fill="#218bc1"/><rect x="98.03" y="333.52" width="20.02" height="16.55" fill="#5dabd1"/><rect x="117.05" y="333.52" width="20.02" height="16.55" fill="#97cbe2"/><rect x="136.06" y="333.52" width="20.02" height="16.55" fill="#c5dfec"/><rect x="155.08" y="333.52" width="20.02" height="16.55" fill="#e1ebef"/><rect x="174.09" y="333.52" width="20.02" height="16.55" fill="#f6f2ef"/><rect x="193.11" y="333.52" width="20.02" height="16.55" fill="#f9e7db"/><rect x="212.12" y="333.52" width="20.02" height="16.55" fill="#fddcc9"/><rect x="231.14" y="333.52" width="20.02" height="16.55" fill="#fbccb4"/><rect x="250.15" y="333.52" width="20.02" height="16.55" fill="#f8bfa4"/><rect x="269.17" y="333.52" width="20.02" height="16.55" fill="#f7b99c"/><rect x="288.18" y="333.52" width="20.02" height="16.55" fill="#f7b596"/><rect x="307.20" y="333.52" width="20.02" height="16.55" fill="#f7b799"/><rect x="326.22" y="333.52" width="20.02" height="16.55" fill="#f8bda1"/><rect x="345.23" y="333.52" width="20.02" height="16.55" fill="#f9c6ac"/><rect x="364.25" y="333.52" width="20.02" height="16.55" fill="#fcd3bc"/><rect x="383.26" y="333.52" width="20.02" height="16.55" fill="#fcdfce"/><rect x="402.28" y="333.52" width="20.02" height="16.55" fill="#f9e9df"/><rect x="421.29" y="333.52" width="20.02" height="16.55" fill="#f3f2f1"/><rect x="440.31" y="333.52" width="20.02" height="16.55" fill="#deeaef"/><rect x="459.32" y="333.52" width="20.02" height="16.55" fill="#bfddec"/><rect x="478.34" y="333.52" width="20.02" height="16.55" fill="#92c9e1"/><rect x="497.35" y="333.52" width="20.02" height="16.55" fill="#56a8cf"/><rect x="516.37" y="333.52" width="20.02" height="16.55" fill="#1f86be"/><rect x="535.38" y="333.52" width="23.02" height="16.55" fill="#0f5da1"/>
<rect x="57.00" y="349.07" width="23.02" height="16.55" fill="#1266ad"/><rect x="79.02" y="349.07" width="20.02" height="16.55" fill="#1f86be"/><rect x="98.03" y="349.07" width="20.02" height="16.55" fill="#4ba2cc"/><rect x="117.05" y="349.07" width="20.02" height="16.55" fill="#83c1dd"/><rect x="136.06" y="349.07" width="20.02" height="16.55" fill="#aad4e7"/><rect x="155.08" y="349.07" width="20.02" height="16.55" fill="#cfe4ee"/><rect x="174.09" y="349.07" width="20.02" height="16.55" fill="#e1ebef"/><rect x="193.11" y="349.07" width="20.02" height="16.55" fill="#f3f2f1"/><rect x="212.12" y="349.07" width="20.02" height="16.55" fill="#f7ede7"/><rect x="231.14" y="349.07" width="20.02" height="16.55" fill="#f9e7db"/><rect x="250.15" y="349.07" width="20.02" height="16.55" fill="#fbe2d3"/><rect x="269.17" y="349.07" width="20.02" height="16.55" fill="#fcdecc"/><rect x="288.18" y="349.07" width="20.02" height="16.55" fill="#fcddca"/><rect x="307.20" y="349.07" width="20.02" height="16.55" fill="#fcdfce"/><rect x="326.22" y="349.07" width="20.02" height="16.55" fill="#fbe2d3"/><rect x="345.23" y="349.07" width="20.02" height="16.55" fill="#fae5d8"/><rect x="364.25" y="349.07" width="20.02" height="16.55" fill="#f8e9e0"/><rect x="383.26" y="349.07" width="20.02" height="16.55" fill="#f6f0ec"/><rect x="402.28" y="349.07" width="20.02" height="16.55" fill="#edeff0"/><rect x="421.29" y="349.07" width="20.02" height="16.55" fill="#dde9ef"/><rect x="440.31" y="349.07" width="20.02" height="16.55" fill="#c5dfed"/><rect x="459.32" y="349.07" width="20.02" height="16.55" fill="#a2d0e5"/><rect x="478.34" y="349.07" width="20.02" height="16.55" fill="#75b9d9"/><rect x="497.35" y="349.07" width="20.02" height="16.55" fill="#3f9cc9"/><rect x="516.37" y="349.07" width="20.02" height="16.55" fill="#1c7fba"/><rect x="535.38" y="349.07" width="23.02" height="16.55" fill="#105fa4"/>
<rect x="57.00" y="364.62" width="23.02" height="16.55" fill="#1266ad"/><rect x="79.02" y="364.62" width="20.02" height="16.55" fill="#1d81bb"/><rect x="98.03" y="364.62" width="20.02" height="16.55" fill="#3598c7"/><rect x="117.05" y="364.62" width="20.02" height="16.55" fill="#68b1d5"/><rect x="136.06" y="364.62" width="20.02" height="16.55" fill="#8fc8e0"/><rect x="155.08" y="364.62" width="20.02" height="16.55" fill="#add5e8"/><rect x="174.09" y="364.62" width="20.02" height="16.55" fill="#c7e1ed"/><rect x="193.11" y="364.62" width="20.02" height="16.55" fill="#d8e7ef"/><rect x="212.12" y="364.62" width="20.02" height="16.55" fill="#e3ebef"/><rect x="231.14" y="364.62" width="20.02" height="16.55" fill="#eaeeef"/><rect x="250.15" y="364.62" width="20.02" height="16.55" fill="#f0f1f0"/><rect x="269.17" y="364.62" width="20.02" height="16.55" fill="#f5f3f2"/><rect x="288.18" y="364.62" width="20.02" height="16.55" fill="#f5f3f2"/><rect x="307.20" y="364.62" width="20.02" height="16.55" fill="#f1f2f1"/><rect x="326.22" y="364.62" width="20.02" height="16.55" fill="#edeff0"/><rect x="345.23" y="364.62" width="20.02" height="16.55" fill="#eaeeef"/><rect x="364.25" y="364.62" width="20.02" height="16.55" fill="#e4ecef"/><rect x="383.26" y="364.62" width="20.02" height="16.55" fill="#dbe8ef"/><rect x="402.28" y="364.62" width="20.02" height="16.55" fill="#d2e5ef"/><rect x="421.29" y="364.62" width="20.02" height="16.55" fill="#bddceb"/><rect x="440.31" y="364.62" width="20.02" height="16.55" fill="#9fcfe4"/><rect x="459.32" y="364.62" width="20.02" height="16.55" fill="#7fbfdc"/><rect x="478.34" y="364.62" width="20.02" height="16.55" fill="#56a8cf"/><rect x="497.35" y="364.62" width="20.02" height="16.55" fill="#238fc2"/><rect x="516.37" y="364.62" width="20.02" height="16.55" fill="#1978b7"/><rect x="535.38" y="364.62" width="23.02" height="16.55" fill="#105fa4"/>
<rect x="57.00" y="380.16" width="23.02" height="16.55" fill="#1266ad"/><rect x="79.02" y="380.16" width="20.02" height="16.55" fill="#1978b7"/><rect x="98.03" y="380.16" width="20.02" height="16.55" fill="#218bc1"/><rect x="117.05" y="380.16" width="20.02" height="16.55" fill="#3f9cc9"/><rect x="136.06" y="380.16" width="20.02" height="16.55" fill="#64afd4"/><rect x="155.08" y="380.16" width="20.02" height="16.55" fill="#83c1dd"/><rect x="174.09" y="380.16" width="20.02" height="16.55" fill="#95cae2"/><rect x="193.11" y="380.16" width="20.02" height="16.55" fill="#a2d0e5"/><rect x="212.12" y="380.16" width="20.02" height="16.55" fill="#add5e8"/><rect x="231.14" y="380.16" width="20.02" height="16.55" fill="#b5d9ea"/><rect x="250.15" y="380.16" width="20.02" height="16.55" fill="#b7daea"/><rect x="269.17" y="380.16" width="20.02" height="16.55" fill="#badbeb"/><rect x="288.18" y="380.16" width="20.02" height="16.55" fill="#bddceb"/><rect x="307.20" y="380.16" width="20.02" height="16.55" fill="#b5d9ea"/><rect x="326.22" y="380.16" width="20.02" height="16.55" fill="#afd7e8"/><rect x="345.23" y="380.16" width="20.02" height="16.55" fill="#add5e8"/><rect x="364.25" y="380.16" width="20.02" height="16.55" fill="#aad4e7"/><rect x="383.26" y="380.16" width="20.02" height="16.55" fill="#a2d0e5"/><rect x="402.28" y="380.16" width="20.02" height="16.55" fill="#97cbe2"/><rect x="421.29" y="380.16" width="20.02" height="16.55" fill="#8ac5df"/><rect x="440.31" y="380.16" width="20.02" height="16.55" fill="#75b9d9"/><rect x="459.32" y="380.16" width="20.02" height="16.55" fill="#56a8cf"/><rect x="478.34" y="380.16" width="20.02" height="16.55" fill="#2994c5"/><rect x="497.35" y="380.16" width="20.02" height="16.55" fill="#1e84bd"/><rect x="516.37" y="380.16" width="20.02" height="16.55" fill="#1671b3"/><rect x="535.38" y="380.16" width="23.02" height="16.55" fill="#0f5da1"/>
<rect x="57.00" y="395.71" width="23.02" height="16.55" fill="#1161a7"/><rect x="79.02" y="395.71" width="20.02" height="16.55" fill="#156fb2"/><rect x="98.03" y="395.71" width="20.02" height="16.55" fill="#1b7bb9"/><rect x="117.05" y="395.71" width="20.02" height="16.55" fill="#1f86be"/><rect x="136.06" y="395.71" width="20.02" height="16.55" fill="#2994c5"/><rect x="155.08" y="395.71" width="20.02" height="16.55" fill="#439eca"/><rect x="174.09" y="395.71" width="20.02" height="16.55" fill="#52a6ce"/><rect x="193.11" y="395.71" width="20.02" height="16.55" fill="#59aad0"/><rect x="212.12" y="395.71" width="20.02" height="16.55" fill="#64afd4"/><rect x="231.14" y="395.71" width="20.02" height="16.55" fill="#68b1d5"/><rect x="250.15" y="395.71" width="20.02" height="16.55" fill="#6bb3d6"/><rect x="269.17" y="395.71" width="20.02" height="16.55" fill="#6bb3d6"/><rect x="288.18" y="395.71" width="20.02" height="16.55" fill="#6bb3d6"/><rect x="307.20" y="395.71" width="20.02" height="16.55" fill="#61add3"/><rect x="326.22" y="395.71" width="20.02" height="16.55" fill="#61add3"/><rect x="345.23" y="395.71" width="20.02" height="16.55" fill="#61add3"/><rect x="364.25" y="395.71" width="20.02" height="16.55" fill="#5dabd1"/><rect x="383.26" y="395.71" width="20.02" height="16.55" fill="#59aad0"/><rect x="402.28" y="395.71" width="20.02" height="16.55" fill="#4ea4cd"/><rect x="421.29" y="395.71" width="20.02" height="16.55" fill="#47a0cb"/><rect x="440.31" y="395.71" width="20.02" height="16.55" fill="#3598c7"/><rect x="459.32" y="395.71" width="20.02" height="16.55" fill="#238fc2"/><rect x="478.34" y="395.71" width="20.02" height="16.55" fill="#1d81bb"/><rect x="497.35" y="395.71" width="20.02" height="16.55" fill="#1876b6"/><rect x="516.37" y="395.71" width="20.02" height="16.55" fill="#1369b0"/><rect x="535.38" y="395.71" width="23.02" height="16.55" fill="#0e599b"/>
<rect x="57.00" y="411.25" width="23.02" height="19.55" fill="#0d5595"/><rect x="79.02" y="411.25" width="20.02" height="19.55" fill="#0f5da1"/><rect x="98.03" y="411.25" width="20.02" height="19.55" fill="#1266ad"/><rect x="117.05" y="411.25" width="20.02" height="19.55" fill="#156db2"/><rect x="136.06" y="411.25" width="20.02" height="19.55" fill="#1874b5"/><rect x="155.08" y="411.25" width="20.02" height="19.55" fill="#1b7bb9"/><rect x="174.09" y="411.25" width="20.02" height="19.55" fill="#1d81bb"/><rect x="193.11" y="411.25" width="20.02" height="19.55" fill="#1e84bd"/><rect x="212.12" y="411.25" width="20.02" height="19.55" fill="#1f86be"/><rect x="231.14" y="411.25" width="20.02" height="19.55" fill="#2089c0"/><rect x="250.15" y="411.25" width="20.02" height="19.55" fill="#218bc1"/><rect x="269.17" y="411.25" width="20.02" height="19.55" fill="#218bc1"/><rect x="288.18" y="411.25" width="20.02" height="19.55" fill="#218bc1"/><rect x="307.20" y="411.25" width="20.02" height="19.55" fill="#218bc1"/><rect x="326.22" y="411.25" width="20.02" height="19.55" fill="#218bc1"/><rect x="345.23" y="411.25" width="20.02" height="19.55" fill="#218bc1"/><rect x="364.25" y="411.25" width="20.02" height="19.55" fill="#2089c0"/><rect x="383.26" y="411.25" width="20.02" height="19.55" fill="#1f86be"/><rect x="402.28" y="411.25" width="20.02" height="19.55" fill="#1e84bd"/><rect x="421.29" y="411.25" width="20.02" height="19.55" fill="#1d81bb"/><rect x="440.31" y="411.25" width="20.02" height="19.55" fill="#1b7bb9"/><rect x="459.32" y="411.25" width="20.02" height="19.55" fill="#1876b6"/><rect x="478.34" y="411.25" width="20.02" height="19.55" fill="#1772b4"/><rect x="497.35" y="411.25" width="20.02" height="19.55" fill="#156db2"/><rect x="516.37" y="411.25" width="20.02" height="19.55" fill="#1266ad"/><rect x="535.38" y="411.25" width="23.02" height="19.55" fill="#1164aa"/>
</g></g>
<line x1="60.00" y1="22.60" x2="554.40" y2="22.60" stroke-width="1.00" stroke-opacity="0.70"/><line x1="554.40" y1="22.60" x2="554.40" y2="426.80" stroke-width="1.00" stroke-opacity="0.25"/><line x1="61.00" y1="22.10" x2="61.00" y2="427.40" stroke-width="1.50" stroke-opacity="1.00"/><line x1="59.40" y1="426.80" x2="554.90" y2="426.80" stroke-width="1.30" stroke-opacity="1.00"/>
<line x1="69.51" y1="426.80" x2="69.51" y2="430.40" stroke-width="1.10" stroke-opacity="0.60"/><text x="69.51" y="449.50" font-size="17.60" text-anchor="middle">0.0</text>
<line x1="55.80" y1="419.03" x2="60.00" y2="419.03" stroke-width="1.10" stroke-opacity="0.65"/><text x="49.70" y="425.45" font-size="17.60" text-anchor="end">0.0</text>
<line x1="164.58" y1="426.80" x2="164.58" y2="430.40" stroke-width="1.10" stroke-opacity="0.60"/><text x="164.58" y="449.50" font-size="17.60" text-anchor="middle">0.2</text>
<line x1="55.80" y1="341.30" x2="60.00" y2="341.30" stroke-width="1.10" stroke-opacity="0.65"/><text x="49.70" y="347.72" font-size="17.60" text-anchor="end">0.2</text>
<line x1="259.66" y1="426.80" x2="259.66" y2="430.40" stroke-width="1.10" stroke-opacity="0.60"/><text x="259.66" y="449.50" font-size="17.60" text-anchor="middle">0.4</text>
<line x1="55.80" y1="263.57" x2="60.00" y2="263.57" stroke-width="1.10" stroke-opacity="0.65"/><text x="49.70" y="269.99" font-size="17.60" text-anchor="end">0.4</text>
<line x1="354.74" y1="426.80" x2="354.74" y2="430.40" stroke-width="1.10" stroke-opacity="0.60"/><text x="354.74" y="449.50" font-size="17.60" text-anchor="middle">0.6</text>
<line x1="55.80" y1="185.83" x2="60.00" y2="185.83" stroke-width="1.10" stroke-opacity="0.65"/><text x="49.70" y="192.26" font-size="17.60" text-anchor="end">0.6</text>
<line x1="449.82" y1="426.80" x2="449.82" y2="430.40" stroke-width="1.10" stroke-opacity="0.60"/><text x="449.82" y="449.50" font-size="17.60" text-anchor="middle">0.8</text>
<line x1="55.80" y1="108.10" x2="60.00" y2="108.10" stroke-width="1.10" stroke-opacity="0.65"/><text x="49.70" y="114.53" font-size="17.60" text-anchor="end">0.8</text>
<line x1="544.89" y1="426.80" x2="544.89" y2="430.40" stroke-width="1.10" stroke-opacity="0.60"/><text x="544.89" y="449.50" font-size="17.60" text-anchor="middle">1.0</text>
<line x1="55.80" y1="30.37" x2="60.00" y2="30.37" stroke-width="1.10" stroke-opacity="0.65"/><text x="49.70" y="36.80" font-size="17.60" text-anchor="end">1.0</text>
<text x="307.20" y="471.00" font-size="17.60" text-anchor="middle">x</text>
<text transform="translate(11.30,225.70) rotate(-90)" font-size="17.60" text-anchor="middle">y</text>
<text x="307.40" y="14.00" font-size="21.10" text-anchor="middle">exx_NN</text>
<rect x="584.30" y="22.60" width="20.60" height="404.20" fill="url(#rdbu)"/><line x1="584.30" y1="22.60" x2="604.90" y2="22.60" stroke-width="1.00" stroke-opacity="0.70"/><line x1="604.90" y1="22.60" x2="604.90" y2="426.80" stroke-width="1.20" stroke-opacity="0.30"/><line x1="584.30" y1="22.10" x2="584.30" y2="427.40" stroke-width="1.50" stroke-opacity="1.00"/><line x1="583.70" y1="426.80" x2="605.50" y2="426.80" stroke-width="1.30" stroke-opacity="1.00"/>
<line x1="604.90" y1="22.60" x2="609.50" y2="22.60" stroke-width="1.10" stroke-opacity="0.60"/><text x="613.80" y="29.02" font-size="17.60">0.0055</text>
<line x1="604.90" y1="56.28" x2="609.50" y2="56.28" stroke-width="1.10" stroke-opacity="0.60"/><text x="613.80" y="62.71" font-size="17.60">0.0007</text>
<line x1="604.90" y1="89.97" x2="609.50" y2="89.97" stroke-width="1.10" stroke-opacity="0.60"/><text x="613.80" y="96.39" font-size="17.60">-0.0042</text>
<line x1="604.90" y1="123.65" x2="609.50" y2="123.65" stroke-width="1.10" stroke-opacity="0.60"/><text x="613.80" y="130.07" font-size="17.60">-0.0090</text>
<line x1="604.90" y1="157.33" x2="609.50" y2="157.33" stroke-width="1.10" stroke-opacity="0.60"/><text x="613.80" y="163.76" font-size="17.60">-0.0139</text>
<line x1="604.90" y1="191.02" x2="609.50" y2="191.02" stroke-width="1.10" stroke-opacity="0.60"/><text x="613.80" y="197.44" font-size="17.60">-0.0188</text>
<line x1="604.90" y1="224.70" x2="609.50" y2="224.70" stroke-width="1.10" stroke-opacity="0.60"/><text x="613.80" y="231.12" font-size="17.60">-0.0236</text>
<line x1="604.90" y1="258.38" x2="609.50" y2="258.38" stroke-width="1.10" stroke-opacity="0.60"/><text x="613.80" y="264.81" font-size="17.60">-0.0285</text>
<line x1="604.90" y1="292.07" x2="609.50" y2="292.07" stroke-width="1.10" stroke-opacity="0.60"/><text x="613.80" y="298.49" font-size="17.60">-0.0333</text>
<line x1="604.90" y1="325.75" x2="609.50" y2="325.75" stroke-width="1.10" stroke-opacity="0.60"/><text x="613.80" y="332.17" font-size="17.60">-0.0382</text>
<line x1="604.90" y1="359.43" x2="609.50" y2="359.43" stroke-width="1.10" stroke-opacity="0.60"/><text x="613.80" y="365.86" font-size="17.60">-0.0430</text>
<line x1="604.90" y1="393.12" x2="609.50" y2="393.12" stroke-width="1.10" stroke-opacity="0.60"/><text x="613.80" y="399.54" font-size="17.60">-0.0479</text>
<line x1="604.90" y1="426.80" x2="609.50" y2="426.80" stroke-width="1.10" stroke-opacity="0.60"/><text x="613.80" y="433.22" font-size="17.60">-0.0527</text>
<g clip-path="url(#cp1)"><g filter="url(#hb)">
<rect x="56.50" y="529.50" width="22.80" height="19.42" fill="#0a4a86"/><rect x="78.30" y="529.50" width="19.80" height="19.42" fill="#063b71"/><rect x="97.09" y="529.50" width="19.80" height="19.42" fill="#043569"/><rect x="115.89" y="529.50" width="19.80" height="19.42" fill="#063b71"/><rect x="134.68" y="529.50" width="19.80" height="19.42" fill="#073f77"/><rect x="153.48" y="529.50" width="19.80" height="19.42" fill="#094680"/><rect x="172.28" y="529.50" width="19.80" height="19.42" fill="#0a4a86"/><rect x="191.07" y="529.50" width="19.80" height="19.42" fill="#0c508f"/><rect x="209.87" y="529.50" width="19.80" height="19.42" fill="#0c508f"/><rect x="228.67" y="529.50" width="19.80" height="19.42" fill="#0d5595"/><rect x="247.46" y="529.50" width="19.80" height="19.42" fill="#0d5595"/><rect x="266.26" y="529.50" width="19.80" height="19.42" fill="#0d5595"/><rect x="285.05" y="529.50" width="19.80" height="19.42" fill="#0d5595"/><rect x="303.85" y="529.50" width="19.80" height="19.42" fill="#0d5595"/><rect x="322.65" y="529.50" width="19.80" height="19.42" fill="#0d5595"/><rect x="341.44" y="529.50" width="19.80" height="19.42" fill="#0d5595"/><rect x="360.24" y="529.50" width="19.80" height="19.42" fill="#0d5595"/><rect x="379.03" y="529.50" width="19.80" height="19.42" fill="#0c508f"/><rect x="397.83" y="529.50" width="19.80" height="19.42" fill="#0c508f"/><rect x="416.63" y="529.50" width="19.80" height="19.42" fill="#0a4a86"/><rect x="435.42" y="529.50" width="19.80" height="19.42" fill="#094680"/><rect x="454.22" y="529.50" width="19.80" height="19.42" fill="#073f77"/><rect x="473.02" y="529.50" width="19.80" height="19.42" fill="#063b71"/><rect x="491.81" y="529.50" width="19.80" height="19.42" fill="#043569"/><rect x="510.61" y="529.50" width="19.80" height="19.42" fill="#063b71"/><rect x="529.40" y="529.50" width="22.80" height="19.42" fill="#0a4a86"/>
<rect x="56.50" y="547.92" width="22.80" height="16.42" fill="#79bbda"/><rect x="78.30" y="547.92" width="19.80" height="16.42" fill="#1d81bb"/><rect x="97.09" y="547.92" width="19.80" height="16.42" fill="#146bb1"/><rect x="115.89" y="547.92" width="19.80" height="16.42" fill="#1161a7"/><rect x="134.68" y="547.92" width="19.80" height="16.42" fill="#0f5b9e"/><rect x="153.48" y="547.92" width="19.80" height="16.42" fill="#0d5595"/><rect x="172.28" y="547.92" width="19.80" height="16.42" fill="#0d5595"/><rect x="191.07" y="547.92" width="19.80" height="16.42" fill="#0d5595"/><rect x="209.87" y="547.92" width="19.80" height="16.42" fill="#0d5595"/><rect x="228.67" y="547.92" width="19.80" height="16.42" fill="#0d5595"/><rect x="247.46" y="547.92" width="19.80" height="16.42" fill="#0d5595"/><rect x="266.26" y="547.92" width="19.80" height="16.42" fill="#0d5595"/><rect x="285.05" y="547.92" width="19.80" height="16.42" fill="#0d5595"/><rect x="303.85" y="547.92" width="19.80" height="16.42" fill="#0d5595"/><rect x="322.65" y="547.92" width="19.80" height="16.42" fill="#0d5595"/><rect x="341.44" y="547.92" width="19.80" height="16.42" fill="#0d5595"/><rect x="360.24" y="547.92" width="19.80" height="16.42" fill="#0d5595"/><rect x="379.03" y="547.92" width="19.80" height="16.42" fill="#0d5595"/><rect x="397.83" y="547.92" width="19.80" height="16.42" fill="#0d5595"/><rect x="416.63" y="547.92" width="19.80" height="16.42" fill="#0d5595"/><rect x="435.42" y="547.92" width="19.80" height="16.42" fill="#0d5595"/><rect x="454.22" y="547.92" width="19.80" height="16.42" fill="#0f5b9e"/><rect x="473.02" y="547.92" width="19.80" height="16.42" fill="#1161a7"/><rect x="491.81" y="547.92" width="19.80" height="16.42" fill="#146bb1"/><rect x="510.61" y="547.92" width="19.80" height="16.42" fill="#1d81bb"/><rect x="529.40" y="547.92" width="22.80" height="16.42" fill="#79bbda"/>
<rect x="56.50" y="563.33" width="22.80" height="16.42" fill="#f5f3f2"/><rect x="78.30" y="563.33" width="19.80" height="16.42" fill="#8ac5df"/><rect x="97.09" y="563.33" width="19.80" height="16.42" fill="#2994c5"/><rect x="115.89" y="563.33" width="19.80" height="16.42" fill="#1b7bb9"/><rect x="134.68" y="563.33" width="19.80" height="16.42" fill="#1369b0"/><rect x="153.48" y="563.33" width="19.80" height="16.42" fill="#105fa4"/><rect x="172.28" y="563.33" width="19.80" height="16.42" fill="#0e5798"/><rect x="191.07" y="563.33" width="19.80" height="16.42" fill="#0c5392"/><rect x="209.87" y="563.33" width="19.80" height="16.42" fill="#0c508f"/><rect x="228.67" y="563.33" width="19.80" height="16.42" fill="#0b4e8c"/><rect x="247.46" y="563.33" width="19.80" height="16.42" fill="#0b4c89"/><rect x="266.26" y="563.33" width="19.80" height="16.42" fill="#0b4c89"/><rect x="285.05" y="563.33" width="19.80" height="16.42" fill="#0b4c89"/><rect x="303.85" y="563.33" width="19.80" height="16.42" fill="#0b4c89"/><rect x="322.65" y="563.33" width="19.80" height="16.42" fill="#0b4c89"/><rect x="341.44" y="563.33" width="19.80" height="16.42" fill="#0b4c89"/><rect x="360.24" y="563.33" width="19.80" height="16.42" fill="#0b4e8c"/><rect x="379.03" y="563.33" width="19.80" height="16.42" fill="#0c508f"/><rect x="397.83" y="563.33" width="19.80" height="16.42" fill="#0c5392"/><rect x="416.63" y="563.33" width="19.80" height="16.42" fill="#0e5798"/><rect x="435.42" y="563.33" width="19.80" height="16.42" fill="#105fa4"/><rect x="454.22" y="563.33" width="19.80" height="16.42" fill="#1369b0"/><rect x="473.02" y="563.33" width="19.80" height="16.42" fill="#1b7bb9"/><rect x="491.81" y="563.33" width="19.80" height="16.42" fill="#2994c5"/><rect x="510.61" y="563.33" width="19.80" height="16.42" fill="#8ac5df"/><rect x="529.40" y="563.33" width="22.80" height="16.42" fill="#f5f3f2"/>
<rect x="56.50" y="578.75" width="22.80" height="16.42" fill="#f6af8e"/><rect x="78.30" y="578.75" width="19.80" height="16.42" fill="#d7e7ef"/><rect x="97.09" y="578.75" width="19.80" height="16.42" fill="#7cbddb"/><rect x="115.89" y="578.75" width="19.80" height="16.42" fill="#3096c6"/><rect x="134.68" y="578.75" width="19.80" height="16.42" fill="#1b7bb9"/><rect x="153.48" y="578.75" width="19.80" height="16.42" fill="#156db2"/><rect x="172.28" y="578.75" width="19.80" height="16.42" fill="#1161a7"/><rect x="191.07" y="578.75" width="19.80" height="16.42" fill="#0e599b"/><rect x="209.87" y="578.75" width="19.80" height="16.42" fill="#0c5392"/><rect x="228.67" y="578.75" width="19.80" height="16.42" fill="#0b4e8c"/><rect x="247.46" y="578.75" width="19.80" height="16.42" fill="#0b4c89"/><rect x="266.26" y="578.75" width="19.80" height="16.42" fill="#0b4c89"/><rect x="285.05" y="578.75" width="19.80" height="16.42" fill="#0a4a86"/><rect x="303.85" y="578.75" width="19.80" height="16.42" fill="#0a4a86"/><rect x="322.65" y="578.75" width="19.80" height="16.42" fill="#0b4c89"/><rect x="341.44" y="578.75" width="19.80" height="16.42" fill="#0b4c89"/><rect x="360.24" y="578.75" width="19.80" height="16.42" fill="#0b4e8c"/><rect x="379.03" y="578.75" width="19.80" height="16.42" fill="#0c5392"/><rect x="397.83" y="578.75" width="19.80" height="16.42" fill="#0e599b"/><rect x="416.63" y="578.75" width="19.80" height="16.42" fill="#1161a7"/><rect x="435.42" y="578.75" width="19.80" height="16.42" fill="#156db2"/><rect x="454.22" y="578.75" width="19.80" height="16.42" fill="#1b7bb9"/><rect x="473.02" y="578.75" width="19.80" height="16.42" fill="#3096c6"/><rect x="491.81" y="578.75" width="19.80" height="16.42" fill="#7cbddb"/><rect x="510.61" y="578.75" width="19.80" height="16.42" fill="#d7e7ef"/><rect x="529.40" y="578.75" width="22.80" height="16.42" fill="#f6af8e"/>
<rect x="56.50" y="594.16" width="22.80" height="16.42" fill="#d6604d"/><rect x="78.30" y="594.16" width="19.80" height="16.42" fill="#fbe3d5"/><rect x="97.09" y="594.16" width="19.80" height="16.42" fill="#b7daea"/><rect x="115.89" y="594.16" width="19.80" height="16.42" fill="#68b1d5"/><rect x="134.68" y="594.16" width="19.80" height="16.42" fill="#238fc2"/><rect x="153.48" y="594.16" width="19.80" height="16.42" fill="#1a79b8"/><rect x="172.28" y="594.16" width="19.80" height="16.42" fill="#146bb1"/><rect x="191.07" y="594.16" width="19.80" height="16.42" fill="#1161a7"/><rect x="209.87" y="594.16" width="19.80" height="16.42" fill="#0e599b"/><rect x="228.67" y="594.16" width="19.80" height="16.42" fill="#0c5392"/><rect x="247.46" y="594.16" width="19.80" height="16.42" fill="#0b4e8c"/><rect x="266.26" y="594.16" width="19.80" height="16.42" fill="#0b4c89"/><rect x="285.05" y="594.16" width="19.80" height="16.42" fill="#0b4c89"/><rect x="303.85" y="594.16" width="19.80" height="16.42" fill="#0b4c89"/><rect x="322.65" y="594.16" width="19.80" height="16.42" fill="#0b4c89"/><rect x="341.44" y="594.16" width="19.80" height="16.42" fill="#0b4e8c"/><rect x="360.24" y="594.16" width="19.80" height="16.42" fill="#0c5392"/><rect x="379.03" y="594.16" width="19.80" height="16.42" fill="#0e599b"/><rect x="397.83" y="594.16" width="19.80" height="16.42" fill="#1161a7"/><rect x="416.63" y="594.16" width="19.80" height="16.42" fill="#146bb1"/><rect x="435.42" y="594.16" width="19.80" height="16.42" fill="#1a79b8"/><rect x="454.22" y="594.16" width="19.80" height="16.42" fill="#238fc2"/><rect x="473.02" y="594.16" width="19.80" height="16.42" fill="#68b1d5"/><rect x="491.81" y="594.16" width="19.80" height="16.42" fill="#b7daea"/><rect x="510.61" y="594.16" width="19.80" height="16.42" fill="#fbe3d5"/><rect x="529.40" y="594.16" width="22.80" height="16.42" fill="#d6604d"/>
<rect x="56.50" y="609.58" width="22.80" height="16.42" fill="#bd2d35"/><rect x="78.30" y="609.58" width="19.80" height="16.42" fill="#f9c6ac"/><rect x="97.09" y="609.58" width="19.80" height="16.42" fill="#dde9ef"/><rect x="115.89" y="609.58" width="19.80" height="16.42" fill="#97cbe2"/><rect x="134.68" y="609.58" width="19.80" height="16.42" fill="#4ea4cd"/><rect x="153.48" y="609.58" width="19.80" height="16.42" fill="#2088bf"/><rect x="172.28" y="609.58" width="19.80" height="16.42" fill="#1978b7"/><rect x="191.07" y="609.58" width="19.80" height="16.42" fill="#146bb1"/><rect x="209.87" y="609.58" width="19.80" height="16.42" fill="#1161a7"/><rect x="228.67" y="609.58" width="19.80" height="16.42" fill="#0f5b9e"/><rect x="247.46" y="609.58" width="19.80" height="16.42" fill="#0e5798"/><rect x="266.26" y="609.58" width="19.80" height="16.42" fill="#0c5392"/><rect x="285.05" y="609.58" width="19.80" height="16.42" fill="#0c5392"/><rect x="303.85" y="609.58" width="19.80" height="16.42" fill="#0c5392"/><rect x="322.65" y="609.58" width="19.80" height="16.42" fill="#0c5392"/><rect x="341.44" y="609.58" width="19.80" height="16.42" fill="#0e5798"/><rect x="360.24" y="609.58" width="19.80" height="16.42" fill="#0f5b9e"/><rect x="379.03" y="609.58" width="19.80" height="16.42" fill="#1161a7"/><rect x="397.83" y="609.58" width="19.80" height="16.42" fill="#146bb1"/><rect x="416.63" y="609.58" width="19.80" height="16.42" fill="#1978b7"/><rect x="435.42" y="609.58" width="19.80" height="16.42" fill="#2088bf"/><rect x="454.22" y="609.58" width="19.80" height="16.42" fill="#4ea4cd"/><rect x="473.02" y="609.58" width="19.80" height="16.42" fill="#97cbe2"/><rect x="491.81" y="609.58" width="19.80" height="16.42" fill="#dde9ef"/><rect x="510.61" y="609.58" width="19.80" height="16.42" fill="#f9c6ac"/><rect x="529.40" y="609.58" width="22.80" height="16.42" fill="#bd2d35"/>
<rect x="56.50" y="624.99" width="22.80" height="16.42" fill="#ab162a"/><rect x="78.30" y="624.99" width="19.80" height="16.42" fill="#f3a481"/><rect x="97.09" y="624.99" width="19.80" height="16.42" fill="#f6f3f1"/><rect x="115.89" y="624.99" width="19.80" height="16.42" fill="#badbeb"/><rect x="134.68" y="624.99" width="19.80" height="16.42" fill="#72b7d8"/><rect x="153.48" y="624.99" width="19.80" height="16.42" fill="#3096c6"/><rect x="172.28" y="624.99" width="19.80" height="16.42" fill="#1e82bc"/><rect x="191.07" y="624.99" width="19.80" height="16.42" fill="#1876b6"/><rect x="209.87" y="624.99" width="19.80" height="16.42" fill="#146bb1"/><rect x="228.67" y="624.99" width="19.80" height="16.42" fill="#1266ad"/><rect x="247.46" y="624.99" width="19.80" height="16.42" fill="#105fa4"/><rect x="266.26" y="624.99" width="19.80" height="16.42" fill="#0f5b9e"/><rect x="285.05" y="624.99" width="19.80" height="16.42" fill="#0e599b"/><rect x="303.85" y="624.99" width="19.80" height="16.42" fill="#0e599b"/><rect x="322.65" y="624.99" width="19.80" height="16.42" fill="#0f5b9e"/><rect x="341.44" y="624.99" width="19.80" height="16.42" fill="#105fa4"/><rect x="360.24" y="624.99" width="19.80" height="16.42" fill="#1266ad"/><rect x="379.03" y="624.99" width="19.80" height="16.42" fill="#146bb1"/><rect x="397.83" y="624.99" width="19.80" height="16.42" fill="#1876b6"/><rect x="416.63" y="624.99" width="19.80" height="16.42" fill="#1e82bc"/><rect x="435.42" y="624.99" width="19.80" height="16.42" fill="#3096c6"/><rect x="454.22" y="624.99" width="19.80" height="16.42" fill="#72b7d8"/><rect x="473.02" y="624.99" width="19.80" height="16.42" fill="#badbeb"/><rect x="491.81" y="624.99" width="19.80" height="16.42" fill="#f6f3f1"/><rect x="510.61" y="624.99" width="19.80" height="16.42" fill="#f3a481"/><rect x="529.40" y="624.99" width="22.80" height="16.42" fill="#ab162a"/>
<rect x="56.50" y="640.41" width="22.80" height="16.42" fill="#8a0b25"/><rect x="78.30" y="640.41" width="19.80" height="16.42" fill="#e8896c"/><rect x="97.09" y="640.41" width="19.80" height="16.42" fill="#fae5d8"/><rect x="115.89" y="640.41" width="19.80" height="16.42" fill="#d3e6ee"/><rect x="134.68" y="640.41" width="19.80" height="16.42" fill="#92c9e1"/><rect x="153.48" y="640.41" width="19.80" height="16.42" fill="#56a8cf"/><rect x="172.28" y="640.41" width="19.80" height="16.42" fill="#2590c3"/><rect x="191.07" y="640.41" width="19.80" height="16.42" fill="#1d81bb"/><rect x="209.87" y="640.41" width="19.80" height="16.42" fill="#1876b6"/><rect x="228.67" y="640.41" width="19.80" height="16.42" fill="#156db2"/><rect x="247.46" y="640.41" width="19.80" height="16.42" fill="#1368af"/><rect x="266.26" y="640.41" width="19.80" height="16.42" fill="#1164aa"/><rect x="285.05" y="640.41" width="19.80" height="16.42" fill="#1161a7"/><rect x="303.85" y="640.41" width="19.80" height="16.42" fill="#1161a7"/><rect x="322.65" y="640.41" width="19.80" height="16.42" fill="#1164aa"/><rect x="341.44" y="640.41" width="19.80" height="16.42" fill="#1368af"/><rect x="360.24" y="640.41" width="19.80" height="16.42" fill="#156db2"/><rect x="379.03" y="640.41" width="19.80" height="16.42" fill="#1876b6"/><rect x="397.83" y="640.41" width="19.80" height="16.42" fill="#1d81bb"/><rect x="416.63" y="640.41" width="19.80" height="16.42" fill="#2590c3"/><rect x="435.42" y="640.41" width="19.80" height="16.42" fill="#56a8cf"/><rect x="454.22" y="640.41" width="19.80" height="16.42" fill="#92c9e1"/><rect x="473.02" y="640.41" width="19.80" height="16.42" fill="#d3e6ee"/><rect x="491.81" y="640.41" width="19.80" height="16.42" fill="#fae5d8"/><rect x="510.61" y="640.41" width="19.80" height="16.42" fill="#e8896c"/><rect x="529.40" y="640.41" width="22.80" height="16.42" fill="#8a0b25"/>
<rect x="56.50" y="655.82" width="22.80" height="16.42" fill="#7c0722"/><rect x="78.30" y="655.82" width="19.80" height="16.42" fill="#dc6e57"/><rect x="97.09" y="655.82" width="19.80" height="16.42" fill="#fcd5bf"/><rect x="115.89" y="655.82" width="19.80" height="16.42" fill="#e5ecef"/><rect x="134.68" y="655.82" width="19.80" height="16.42" fill="#afd7e8"/><rect x="153.48" y="655.82" width="19.80" height="16.42" fill="#75b9d9"/><rect x="172.28" y="655.82" width="19.80" height="16.42" fill="#47a0cb"/><rect x="191.07" y="655.82" width="19.80" height="16.42" fill="#228dc2"/><rect x="209.87" y="655.82" width="19.80" height="16.42" fill="#1c7fba"/><rect x="228.67" y="655.82" width="19.80" height="16.42" fill="#1876b6"/><rect x="247.46" y="655.82" width="19.80" height="16.42" fill="#1671b3"/><rect x="266.26" y="655.82" width="19.80" height="16.42" fill="#146bb1"/><rect x="285.05" y="655.82" width="19.80" height="16.42" fill="#1369b0"/><rect x="303.85" y="655.82" width="19.80" height="16.42" fill="#1369b0"/><rect x="322.65" y="655.82" width="19.80" height="16.42" fill="#146bb1"/><rect x="341.44" y="655.82" width="19.80" height="16.42" fill="#1671b3"/><rect x="360.24" y="655.82" width="19.80" height="16.42" fill="#1876b6"/><rect x="379.03" y="655.82" width="19.80" height="16.42" fill="#1c7fba"/><rect x="397.83" y="655.82" width="19.80" height="16.42" fill="#228dc2"/><rect x="416.63" y="655.82" width="19.80" height="16.42" fill="#47a0cb"/><rect x="435.42" y="655.82" width="19.80" height="16.42" fill="#75b9d9"/><rect x="454.22" y="655.82" width="19.80" height="16.42" fill="#afd7e8"/><rect x="473.02" y="655.82" width="19.80" height="16.42" fill="#e5ecef"/><rect x="491.81" y="655.82" width="19.80" height="16.42" fill="#fcd5bf"/><rect x="510.61" y="655.82" width="19.80" height="16.42" fill="#dc6e57"/><rect x="529.40" y="655.82" width="22.80" height="16.42" fill="#7c0722"/>
<rect x="56.50" y="671.24" width="22.80" height="16.42" fill="#6d0220"/><rect x="78.30" y="671.24" width="19.80" height="16.42" fill="#d6604d"/><rect x="97.09" y="671.24" width="19.80" height="16.42" fill="#f9c4a9"/><rect x="115.89" y="671.24" width="19.80" height="16.42" fill="#f6f2ef"/><rect x="134.68" y="671.24" width="19.80" height="16.42" fill="#cae2ed"/><rect x="153.48" y="671.24" width="19.80" height="16.42" fill="#92c9e1"/><rect x="172.28" y="671.24" width="19.80" height="16.42" fill="#64afd4"/><rect x="191.07" y="671.24" width="19.80" height="16.42" fill="#3a9ac8"/><rect x="209.87" y="671.24" width="19.80" height="16.42" fill="#218bc1"/><rect x="228.67" y="671.24" width="19.80" height="16.42" fill="#1d81bb"/><rect x="247.46" y="671.24" width="19.80" height="16.42" fill="#1a79b8"/><rect x="266.26" y="671.24" width="19.80" height="16.42" fill="#1874b5"/><rect x="285.05" y="671.24" width="19.80" height="16.42" fill="#1772b4"/><rect x="303.85" y="671.24" width="19.80" height="16.42" fill="#1772b4"/><rect x="322.65" y="671.24" width="19.80" height="16.42" fill="#1874b5"/><rect x="341.44" y="671.24" width="19.80" height="16.42" fill="#1a79b8"/><rect x="360.24" y="671.24" width="19.80" height="16.42" fill="#1d81bb"/><rect x="379.03" y="671.24" width="19.80" height="16.42" fill="#218bc1"/><rect x="397.83" y="671.24" width="19.80" height="16.42" fill="#3a9ac8"/><rect x="416.63" y="671.24" width="19.80" height="16.42" fill="#64afd4"/><rect x="435.42" y="671.24" width="19.80" height="16.42" fill="#92c9e1"/><rect x="454.22" y="671.24" width="19.80" height="16.42" fill="#cae2ed"/><rect x="473.02" y="671.24" width="19.80" height="16.42" fill="#f6f2ef"/><rect x="491.81" y="671.24" width="19.80" height="16.42" fill="#f9c4a9"/><rect x="510.61" y="671.24" width="19.80" height="16.42" fill="#d6604d"/><rect x="529.40" y="671.24" width="22.80" height="16.42" fill="#6d0220"/>
<rect x="56.50" y="686.65" width="22.80" height="16.42" fill="#67001f"/><rect x="78.30" y="686.65" width="19.80" height="16.42" fill="#cf5246"/><rect x="97.09" y="686.65" width="19.80" height="16.42" fill="#f7b596"/><rect x="115.89" y="686.65" width="19.80" height="16.42" fill="#f8eae0"/><rect x="134.68" y="686.65" width="19.80" height="16.42" fill="#dbe8ef"/><rect x="153.48" y="686.65" width="19.80" height="16.42" fill="#aad4e7"/><rect x="172.28" y="686.65" width="19.80" height="16.42" fill="#7fbfdc"/><rect x="191.07" y="686.65" width="19.80" height="16.42" fill="#56a8cf"/><rect x="209.87" y="686.65" width="19.80" height="16.42" fill="#3096c6"/><rect x="228.67" y="686.65" width="19.80" height="16.42" fill="#218bc1"/><rect x="247.46" y="686.65" width="19.80" height="16.42" fill="#1e82bc"/><rect x="266.26" y="686.65" width="19.80" height="16.42" fill="#1b7dba"/><rect x="285.05" y="686.65" width="19.80" height="16.42" fill="#1b7bb9"/><rect x="303.85" y="686.65" width="19.80" height="16.42" fill="#1b7bb9"/><rect x="322.65" y="686.65" width="19.80" height="16.42" fill="#1b7dba"/><rect x="341.44" y="686.65" width="19.80" height="16.42" fill="#1e82bc"/><rect x="360.24" y="686.65" width="19.80" height="16.42" fill="#218bc1"/><rect x="379.03" y="686.65" width="19.80" height="16.42" fill="#3096c6"/><rect x="397.83" y="686.65" width="19.80" height="16.42" fill="#56a8cf"/><rect x="416.63" y="686.65" width="19.80" height="16.42" fill="#7fbfdc"/><rect x="435.42" y="686.65" width="19.80" height="16.42" fill="#aad4e7"/><rect x="454.22" y="686.65" width="19.80" height="16.42" fill="#dbe8ef"/><rect x="473.02" y="686.65" width="19.80" height="16.42" fill="#f8eae0"/><rect x="491.81" y="686.65" width="19.80" height="16.42" fill="#f7b596"/><rect x="510.61" y="686.65" width="19.80" height="16.42" fill="#cf5246"/><rect x="529.40" y="686.65" width="22.80" height="16.42" fill="#67001f"/>
<rect x="56.50" y="702.07" width="22.80" height="16.42" fill="#67001f"/><rect x="78.30" y="702.07" width="19.80" height="16.42" fill="#c6413e"/><rect x="97.09" y="702.07" width="19.80" height="16.42" fill="#f5a886"/><rect x="115.89" y="702.07" width="19.80" height="16.42" fill="#fbe2d3"/><rect x="134.68" y="702.07" width="19.80" height="16.42" fill="#e8edef"/><rect x="153.48" y="702.07" width="19.80" height="16.42" fill="#c2deec"/><rect x="172.28" y="702.07" width="19.80" height="16.42" fill="#95cae2"/><rect x="191.07" y="702.07" width="19.80" height="16.42" fill="#6fb5d7"/><rect x="209.87" y="702.07" width="19.80" height="16.42" fill="#4ba2cc"/><rect x="228.67" y="702.07" width="19.80" height="16.42" fill="#2994c5"/><rect x="247.46" y="702.07" width="19.80" height="16.42" fill="#218bc1"/><rect x="266.26" y="702.07" width="19.80" height="16.42" fill="#1f86be"/><rect x="285.05" y="702.07" width="19.80" height="16.42" fill="#1e84bd"/><rect x="303.85" y="702.07" width="19.80" height="16.42" fill="#1e84bd"/><rect x="322.65" y="702.07" width="19.80" height="16.42" fill="#1f86be"/><rect x="341.44" y="702.07" width="19.80" height="16.42" fill="#218bc1"/><rect x="360.24" y="702.07" width="19.80" height="16.42" fill="#2994c5"/><rect x="379.03" y="702.07" width="19.80" height="16.42" fill="#4ba2cc"/><rect x="397.83" y="702.07" width="19.80" height="16.42" fill="#6fb5d7"/><rect x="416.63" y="702.07" width="19.80" height="16.42" fill="#95cae2"/><rect x="435.42" y="702.07" width="19.80" height="16.42" fill="#c2deec"/><rect x="454.22" y="702.07" width="19.80" height="16.42" fill="#e8edef"/><rect x="473.02" y="702.07" width="19.80" height="16.42" fill="#fbe2d3"/><rect x="491.81" y="702.07" width="19.80" height="16.42" fill="#f5a886"/><rect x="510.61" y="702.07" width="19.80" height="16.42" fill="#c6413e"/><rect x="529.40" y="702.07" width="22.80" height="16.42" fill="#67001f"/>
<rect x="56.50" y="717.48" width="22.80" height="16.42" fill="#67001f"/><rect x="78.30" y="717.48" width="19.80" height="16.42" fill="#bf3338"/><rect x="97.09" y="717.48" width="19.80" height="16.42" fill="#f09c7b"/><rect x="115.89" y="717.48" width="19.80" height="16.42" fill="#fddcc9"/><rect x="134.68" y="717.48" width="19.80" height="16.42" fill="#f5f3f1"/><rect x="153.48" y="717.48" width="19.80" height="16.42" fill="#d5e6ef"/><rect x="172.28" y="717.48" width="19.80" height="16.42" fill="#aad4e7"/><rect x="191.07" y="717.48" width="19.80" height="16.42" fill="#86c3de"/><rect x="209.87" y="717.48" width="19.80" height="16.42" fill="#64afd4"/><rect x="228.67" y="717.48" width="19.80" height="16.42" fill="#47a0cb"/><rect x="247.46" y="717.48" width="19.80" height="16.42" fill="#3096c6"/><rect x="266.26" y="717.48" width="19.80" height="16.42" fill="#2590c3"/><rect x="285.05" y="717.48" width="19.80" height="16.42" fill="#228dc2"/><rect x="303.85" y="717.48" width="19.80" height="16.42" fill="#228dc2"/><rect x="322.65" y="717.48" width="19.80" height="16.42" fill="#2590c3"/><rect x="341.44" y="717.48" width="19.80" height="16.42" fill="#3096c6"/><rect x="360.24" y="717.48" width="19.80" height="16.42" fill="#47a0cb"/><rect x="379.03" y="717.48" width="19.80" height="16.42" fill="#64afd4"/><rect x="397.83" y="717.48" width="19.80" height="16.42" fill="#86c3de"/><rect x="416.63" y="717.48" width="19.80" height="16.42" fill="#aad4e7"/><rect x="435.42" y="717.48" width="19.80" height="16.42" fill="#d5e6ef"/><rect x="454.22" y="717.48" width="19.80" height="16.42" fill="#f5f3f1"/><rect x="473.02" y="717.48" width="19.80" height="16.42" fill="#fddcc9"/><rect x="491.81" y="717.48" width="19.80" height="16.42" fill="#f09c7b"/><rect x="510.61" y="717.48" width="19.80" height="16.42" fill="#bf3338"/><rect x="529.40" y="717.48" width="22.80" height="16.42" fill="#67001f"/>
<rect x="56.50" y="732.90" width="22.80" height="16.42" fill="#67001f"/><rect x="78.30" y="732.90" width="19.80" height="16.42" fill="#bf3338"/><rect x="97.09" y="732.90" width="19.80" height="16.42" fill="#ea8e70"/><rect x="115.89" y="732.90" width="19.80" height="16.42" fill="#fbceb7"/><rect x="134.68" y="732.90" width="19.80" height="16.42" fill="#f8ece5"/><rect x="153.48" y="732.90" width="19.80" height="16.42" fill="#e1ebef"/><rect x="172.28" y="732.90" width="19.80" height="16.42" fill="#bfddec"/><rect x="191.07" y="732.90" width="19.80" height="16.42" fill="#9acde3"/><rect x="209.87" y="732.90" width="19.80" height="16.42" fill="#79bbda"/><rect x="228.67" y="732.90" width="19.80" height="16.42" fill="#61add3"/><rect x="247.46" y="732.90" width="19.80" height="16.42" fill="#4ba2cc"/><rect x="266.26" y="732.90" width="19.80" height="16.42" fill="#3a9ac8"/><rect x="285.05" y="732.90" width="19.80" height="16.42" fill="#3096c6"/><rect x="303.85" y="732.90" width="19.80" height="16.42" fill="#3096c6"/><rect x="322.65" y="732.90" width="19.80" height="16.42" fill="#3a9ac8"/><rect x="341.44" y="732.90" width="19.80" height="16.42" fill="#4ba2cc"/><rect x="360.24" y="732.90" width="19.80" height="16.42" fill="#61add3"/><rect x="379.03" y="732.90" width="19.80" height="16.42" fill="#79bbda"/><rect x="397.83" y="732.90" width="19.80" height="16.42" fill="#9acde3"/><rect x="416.63" y="732.90" width="19.80" height="16.42" fill="#bfddec"/><rect x="435.42" y="732.90" width="19.80" height="16.42" fill="#e1ebef"/><rect x="454.22" y="732.90" width="19.80" height="16.42" fill="#f8ece5"/><rect x="473.02" y="732.90" width="19.80" height="16.42" fill="#fbceb7"/><rect x="491.81" y="732.90" width="19.80" height="16.42" fill="#ea8e70"/><rect x="510.61" y="732.90" width="19.80" height="16.42" fill="#bf3338"/><rect x="529.40" y="732.90" width="22.80" height="16.42" fill="#67001f"/>
<rect x="56.50" y="748.32" width="22.80" height="16.42" fill="#67001f"/><rect x="78.30" y="748.32" width="19.80" height="16.42" fill="#bd2d35"/><rect x="97.09" y="748.32" width="19.80" height="16.42" fill="#e6866a"/><rect x="115.89" y="748.32" width="19.80" height="16.42" fill="#f9c4a9"/><rect x="134.68" y="748.32" width="19.80" height="16.42" fill="#fae6da"/><rect x="153.48" y="748.32" width="19.80" height="16.42" fill="#ebeff0"/><rect x="172.28" y="748.32" width="19.80" height="16.42" fill="#d0e5ef"/><rect x="191.07" y="748.32" width="19.80" height="16.42" fill="#aad4e7"/><rect x="209.87" y="748.32" width="19.80" height="16.42" fill="#8dc6e0"/><rect x="228.67" y="748.32" width="19.80" height="16.42" fill="#72b7d8"/><rect x="247.46" y="748.32" width="19.80" height="16.42" fill="#61add3"/><rect x="266.26" y="748.32" width="19.80" height="16.42" fill="#52a6ce"/><rect x="285.05" y="748.32" width="19.80" height="16.42" fill="#4ba2cc"/><rect x="303.85" y="748.32" width="19.80" height="16.42" fill="#4ba2cc"/><rect x="322.65" y="748.32" width="19.80" height="16.42" fill="#52a6ce"/><rect x="341.44" y="748.32" width="19.80" height="16.42" fill="#61add3"/><rect x="360.24" y="748.32" width="19.80" height="16.42" fill="#72b7d8"/><rect x="379.03" y="748.32" width="19.80" height="16.42" fill="#8dc6e0"/><rect x="397.83" y="748.32" width="19.80" height="16.42" fill="#aad4e7"/><rect x="416.63" y="748.32" width="19.80" height="16.42" fill="#d0e5ef"/><rect x="435.42" y="748.32" width="19.80" height="16.42" fill="#ebeff0"/><rect x="454.22" y="748.32" width="19.80" height="16.42" fill="#fae6da"/><rect x="473.02" y="748.32" width="19.80" height="16.42" fill="#f9c4a9"/><rect x="491.81" y="748.32" width="19.80" height="16.42" fill="#e6866a"/><rect x="510.61" y="748.32" width="19.80" height="16.42" fill="#bd2d35"/><rect x="529.40" y="748.32" width="22.80" height="16.42" fill="#67001f"/>
<rect x="56.50" y="763.73" width="22.80" height="16.42" fill="#67001f"/><rect x="78.30" y="763.73" width="19.80" height="16.42" fill="#bd2d35"/><rect x="97.09" y="763.73" width="19.80" height="16.42" fill="#e27b62"/><rect x="115.89" y="763.73" width="19.80" height="16.42" fill="#f7b99c"/><rect x="134.68" y="763.73" width="19.80" height="16.42" fill="#fbe0cf"/><rect x="153.48" y="763.73" width="19.80" height="16.42" fill="#f5f3f2"/><rect x="172.28" y="763.73" width="19.80" height="16.42" fill="#dae8ef"/><rect x="191.07" y="763.73" width="19.80" height="16.42" fill="#badbeb"/><rect x="209.87" y="763.73" width="19.80" height="16.42" fill="#9dcee4"/><rect x="228.67" y="763.73" width="19.80" height="16.42" fill="#86c3de"/><rect x="247.46" y="763.73" width="19.80" height="16.42" fill="#72b7d8"/><rect x="266.26" y="763.73" width="19.80" height="16.42" fill="#64afd4"/><rect x="285.05" y="763.73" width="19.80" height="16.42" fill="#61add3"/><rect x="303.85" y="763.73" width="19.80" height="16.42" fill="#61add3"/><rect x="322.65" y="763.73" width="19.80" height="16.42" fill="#64afd4"/><rect x="341.44" y="763.73" width="19.80" height="16.42" fill="#72b7d8"/><rect x="360.24" y="763.73" width="19.80" height="16.42" fill="#86c3de"/><rect x="379.03" y="763.73" width="19.80" height="16.42" fill="#9dcee4"/><rect x="397.83" y="763.73" width="19.80" height="16.42" fill="#badbeb"/><rect x="416.63" y="763.73" width="19.80" height="16.42" fill="#dae8ef"/><rect x="435.42" y="763.73" width="19.80" height="16.42" fill="#f5f3f2"/><rect x="454.22" y="763.73" width="19.80" height="16.42" fill="#fbe0cf"/><rect x="473.02" y="763.73" width="19.80" height="16.42" fill="#f7b99c"/><rect x="491.81" y="763.73" width="19.80" height="16.42" fill="#e27b62"/><rect x="510.61" y="763.73" width="19.80" height="16.42" fill="#bd2d35"/><rect x="529.40" y="763.73" width="22.80" height="16.42" fill="#67001f"/>
<rect x="56.50" y="779.15" width="22.80" height="16.42" fill="#67001f"/><rect x="78.30" y="779.15" width="19.80" height="16.42" fill="#bd2d35"/><rect x="97.09" y="779.15" width="19.80" height="16.42" fill="#de735c"/><rect x="115.89" y="779.15" width="19.80" height="16.42" fill="#f6b191"/><rect x="134.68" y="779.15" width="19.80" height="16.42" fill="#fddcc9"/><rect x="153.48" y="779.15" width="19.80" height="16.42" fill="#f7eee9"/><rect x="172.28" y="779.15" width="19.80" height="16.42" fill="#e3ebef"/><rect x="191.07" y="779.15" width="19.80" height="16.42" fill="#cae2ed"/><rect x="209.87" y="779.15" width="19.80" height="16.42" fill="#aad4e7"/><rect x="228.67" y="779.15" width="19.80" height="16.42" fill="#95cae2"/><rect x="247.46" y="779.15" width="19.80" height="16.42" fill="#83c1dd"/><rect x="266.26" y="779.15" width="19.80" height="16.42" fill="#79bbda"/><rect x="285.05" y="779.15" width="19.80" height="16.42" fill="#72b7d8"/><rect x="303.85" y="779.15" width="19.80" height="16.42" fill="#72b7d8"/><rect x="322.65" y="779.15" width="19.80" height="16.42" fill="#79bbda"/><rect x="341.44" y="779.15" width="19.80" height="16.42" fill="#83c1dd"/><rect x="360.24" y="779.15" width="19.80" height="16.42" fill="#95cae2"/><rect x="379.03" y="779.15" width="19.80" height="16.42" fill="#aad4e7"/><rect x="397.83" y="779.15" width="19.80" height="16.42" fill="#cae2ed"/><rect x="416.63" y="779.15" width="19.80" height="16.42" fill="#e3ebef"/><rect x="435.42" y="779.15" width="19.80" height="16.42" fill="#f7eee9"/><rect x="454.22" y="779.15" width="19.80" height="16.42" fill="#fddcc9"/><rect x="473.02" y="779.15" width="19.80" height="16.42" fill="#f6b191"/><rect x="491.81" y="779.15" width="19.80" height="16.42" fill="#de735c"/><rect x="510.61" y="779.15" width="19.80" height="16.42" fill="#bd2d35"/><rect x="529.40" y="779.15" width="22.80" height="16.42" fill="#67001f"/>
<rect x="56.50" y="794.56" width="22.80" height="16.42" fill="#6d0220"/><rect x="78.30" y="794.56" width="19.80" height="16.42" fill="#b82531"/><rect x="97.09" y="794.56" width="19.80" height="16.42" fill="#dc6e57"/><rect x="115.89" y="794.56" width="19.80" height="16.42" fill="#f5a886"/><rect x="134.68" y="794.56" width="19.80" height="16.42" fill="#fcd3bc"/><rect x="153.48" y="794.56" width="19.80" height="16.42" fill="#f8e9e0"/><rect x="172.28" y="794.56" width="19.80" height="16.42" fill="#eaeeef"/><rect x="191.07" y="794.56" width="19.80" height="16.42" fill="#d5e6ef"/><rect x="209.87" y="794.56" width="19.80" height="16.42" fill="#badbeb"/><rect x="228.67" y="794.56" width="19.80" height="16.42" fill="#a5d2e6"/><rect x="247.46" y="794.56" width="19.80" height="16.42" fill="#95cae2"/><rect x="266.26" y="794.56" width="19.80" height="16.42" fill="#8ac5df"/><rect x="285.05" y="794.56" width="19.80" height="16.42" fill="#83c1dd"/><rect x="303.85" y="794.56" width="19.80" height="16.42" fill="#83c1dd"/><rect x="322.65" y="794.56" width="19.80" height="16.42" fill="#8ac5df"/><rect x="341.44" y="794.56" width="19.80" height="16.42" fill="#95cae2"/><rect x="360.24" y="794.56" width="19.80" height="16.42" fill="#a5d2e6"/><rect x="379.03" y="794.56" width="19.80" height="16.42" fill="#badbeb"/><rect x="397.83" y="794.56" width="19.80" height="16.42" fill="#d5e6ef"/><rect x="416.63" y="794.56" width="19.80" height="16.42" fill="#eaeeef"/><rect x="435.42" y="794.56" width="19.80" height="16.42" fill="#f8e9e0"/><rect x="454.22" y="794.56" width="19.80" height="16.42" fill="#fcd3bc"/><rect x="473.02" y="794.56" width="19.80" height="16.42" fill="#f5a886"/><rect x="491.81" y="794.56" width="19.80" height="16.42" fill="#dc6e57"/><rect x="510.61" y="794.56" width="19.80" height="16.42" fill="#b82531"/><rect x="529.40" y="794.56" width="22.80" height="16.42" fill="#6d0220"/>
<rect x="56.50" y="809.98" width="22.80" height="16.42" fill="#6d0220"/><rect x="78.30" y="809.98" width="19.80" height="16.42" fill="#b82531"/><rect x="97.09" y="809.98" width="19.80" height="16.42" fill="#d86551"/><rect x="115.89" y="809.98" width="19.80" height="16.42" fill="#f2a17f"/><rect x="134.68" y="809.98" width="19.80" height="16.42" fill="#fbccb4"/><rect x="153.48" y="809.98" width="19.80" height="16.42" fill="#fae6da"/><rect x="172.28" y="809.98" width="19.80" height="16.42" fill="#f3f2f1"/><rect x="191.07" y="809.98" width="19.80" height="16.42" fill="#dde9ef"/><rect x="209.87" y="809.98" width="19.80" height="16.42" fill="#cae2ed"/><rect x="228.67" y="809.98" width="19.80" height="16.42" fill="#b5d9ea"/><rect x="247.46" y="809.98" width="19.80" height="16.42" fill="#a2d0e5"/><rect x="266.26" y="809.98" width="19.80" height="16.42" fill="#9acde3"/><rect x="285.05" y="809.98" width="19.80" height="16.42" fill="#95cae2"/><rect x="303.85" y="809.98" width="19.80" height="16.42" fill="#95cae2"/><rect x="322.65" y="809.98" width="19.80" height="16.42" fill="#9acde3"/><rect x="341.44" y="809.98" width="19.80" height="16.42" fill="#a2d0e5"/><rect x="360.24" y="809.98" width="19.80" height="16.42" fill="#b5d9ea"/><rect x="379.03" y="809.98" width="19.80" height="16.42" fill="#cae2ed"/><rect x="397.83" y="809.98" width="19.80" height="16.42" fill="#dde9ef"/><rect x="416.63" y="809.98" width="19.80" height="16.42" fill="#f3f2f1"/><rect x="435.42" y="809.98" width="19.80" height="16.42" fill="#fae6da"/><rect x="454.22" y="809.98" width="19.80" height="16.42" fill="#fbccb4"/><rect x="473.02" y="809.98" width="19.80" height="16.42" fill="#f2a17f"/><rect x="491.81" y="809.98" width="19.80" height="16.42" fill="#d86551"/><rect x="510.61" y="809.98" width="19.80" height="16.42" fill="#b82531"/><rect x="529.40" y="809.98" width="22.80" height="16.42" fill="#6d0220"/>
<rect x="56.50" y="825.39" width="22.80" height="16.42" fill="#760521"/><rect x="78.30" y="825.39" width="19.80" height="16.42" fill="#b82531"/><rect x="97.09" y="825.39" width="19.80" height="16.42" fill="#d6604d"/><rect x="115.89" y="825.39" width="19.80" height="16.42" fill="#f09c7b"/><rect x="134.68" y="825.39" width="19.80" height="16.42" fill="#f9c4a9"/><rect x="153.48" y="825.39" width="19.80" height="16.42" fill="#fbe2d3"/><rect x="172.28" y="825.39" width="19.80" height="16.42" fill="#f6f1ee"/><rect x="191.07" y="825.39" width="19.80" height="16.42" fill="#e4ecef"/><rect x="209.87" y="825.39" width="19.80" height="16.42" fill="#d3e6ee"/><rect x="228.67" y="825.39" width="19.80" height="16.42" fill="#c2deec"/><rect x="247.46" y="825.39" width="19.80" height="16.42" fill="#afd7e8"/><rect x="266.26" y="825.39" width="19.80" height="16.42" fill="#a7d3e6"/><rect x="285.05" y="825.39" width="19.80" height="16.42" fill="#a2d0e5"/><rect x="303.85" y="825.39" width="19.80" height="16.42" fill="#a2d0e5"/><rect x="322.65" y="825.39" width="19.80" height="16.42" fill="#a7d3e6"/><rect x="341.44" y="825.39" width="19.80" height="16.42" fill="#afd7e8"/><rect x="360.24" y="825.39" width="19.80" height="16.42" fill="#c2deec"/><rect x="379.03" y="825.39" width="19.80" height="16.42" fill="#d3e6ee"/><rect x="397.83" y="825.39" width="19.80" height="16.42" fill="#e4ecef"/><rect x="416.63" y="825.39" width="19.80" height="16.42" fill="#f6f1ee"/><rect x="435.42" y="825.39" width="19.80" height="16.42" fill="#fbe2d3"/><rect x="454.22" y="825.39" width="19.80" height="16.42" fill="#f9c4a9"/><rect x="473.02" y="825.39" width="19.80" height="16.42" fill="#f09c7b"/><rect x="491.81" y="825.39" width="19.80" height="16.42" fill="#d6604d"/><rect x="510.61" y="825.39" width="19.80" height="16.42" fill="#b82531"/><rect x="529.40" y="825.39" width="22.80" height="16.42" fill="#760521"/>
<rect x="56.50" y="840.81" width="22.80" height="16.42" fill="#760521"/><rect x="78.30" y="840.81" width="19.80" height="16.42" fill="#b61f2e"/><rect x="97.09" y="840.81" width="19.80" height="16.42" fill="#d25849"/><rect x="115.89" y="840.81" width="19.80" height="16.42" fill="#ec9374"/><rect x="134.68" y="840.81" width="19.80" height="16.42" fill="#f8bda1"/><rect x="153.48" y="840.81" width="19.80" height="16.42" fill="#fcdecc"/><rect x="172.28" y="840.81" width="19.80" height="16.42" fill="#f8ece5"/><rect x="191.07" y="840.81" width="19.80" height="16.42" fill="#ebefef"/><rect x="209.87" y="840.81" width="19.80" height="16.42" fill="#dbe8ef"/><rect x="228.67" y="840.81" width="19.80" height="16.42" fill="#cfe4ee"/><rect x="247.46" y="840.81" width="19.80" height="16.42" fill="#bfddec"/><rect x="266.26" y="840.81" width="19.80" height="16.42" fill="#b5d9ea"/><rect x="285.05" y="840.81" width="19.80" height="16.42" fill="#afd7e8"/><rect x="303.85" y="840.81" width="19.80" height="16.42" fill="#afd7e8"/><rect x="322.65" y="840.81" width="19.80" height="16.42" fill="#b5d9ea"/><rect x="341.44" y="840.81" width="19.80" height="16.42" fill="#bfddec"/><rect x="360.24" y="840.81" width="19.80" height="16.42" fill="#cfe4ee"/><rect x="379.03" y="840.81" width="19.80" height="16.42" fill="#dbe8ef"/><rect x="397.83" y="840.81" width="19.80" height="16.42" fill="#ebefef"/><rect x="416.63" y="840.81" width="19.80" height="16.42" fill="#f8ece5"/><rect x="435.42" y="840.81" width="19.80" height="16.42" fill="#fcdecc"/><rect x="454.22" y="840.81" width="19.80" height="16.42" fill="#f8bda1"/><rect x="473.02" y="840.81" width="19.80" height="16.42" fill="#ec9374"/><rect x="491.81" y="840.81" width="19.80" height="16.42" fill="#d25849"/><rect x="510.61" y="840.81" width="19.80" height="16.42" fill="#b61f2e"/><rect x="529.40" y="840.81" width="22.80" height="16.42" fill="#760521"/>
<rect x="56.50" y="856.22" width="22.80" height="16.42" fill="#760521"/><rect x="78.30" y="856.22" width="19.80" height="16.42" fill="#b61f2e"/><rect x="97.09" y="856.22" width="19.80" height="16.42" fill="#d25849"/><rect x="115.89" y="856.22" width="19.80" height="16.42" fill="#ea8e70"/><rect x="134.68" y="856.22" width="19.80" height="16.42" fill="#f7b99c"/><rect x="153.48" y="856.22" width="19.80" height="16.42" fill="#fddbc7"/><rect x="172.28" y="856.22" width="19.80" height="16.42" fill="#f9e9df"/><rect x="191.07" y="856.22" width="19.80" height="16.42" fill="#f3f2f1"/><rect x="209.87" y="856.22" width="19.80" height="16.42" fill="#e3ebef"/><rect x="228.67" y="856.22" width="19.80" height="16.42" fill="#d7e7ef"/><rect x="247.46" y="856.22" width="19.80" height="16.42" fill="#cce3ee"/><rect x="266.26" y="856.22" width="19.80" height="16.42" fill="#c2deec"/><rect x="285.05" y="856.22" width="19.80" height="16.42" fill="#bddceb"/><rect x="303.85" y="856.22" width="19.80" height="16.42" fill="#bddceb"/><rect x="322.65" y="856.22" width="19.80" height="16.42" fill="#c2deec"/><rect x="341.44" y="856.22" width="19.80" height="16.42" fill="#cce3ee"/><rect x="360.24" y="856.22" width="19.80" height="16.42" fill="#d7e7ef"/><rect x="379.03" y="856.22" width="19.80" height="16.42" fill="#e3ebef"/><rect x="397.83" y="856.22" width="19.80" height="16.42" fill="#f3f2f1"/><rect x="416.63" y="856.22" width="19.80" height="16.42" fill="#f9e9df"/><rect x="435.42" y="856.22" width="19.80" height="16.42" fill="#fddbc7"/><rect x="454.22" y="856.22" width="19.80" height="16.42" fill="#f7b99c"/><rect x="473.02" y="856.22" width="19.80" height="16.42" fill="#ea8e70"/><rect x="491.81" y="856.22" width="19.80" height="16.42" fill="#d25849"/><rect x="510.61" y="856.22" width="19.80" height="16.42" fill="#b61f2e"/><rect x="529.40" y="856.22" width="22.80" height="16.42" fill="#760521"/>
<rect x="56.50" y="871.64" width="22.80" height="16.42" fill="#760521"/><rect x="78.30" y="871.64" width="19.80" height="16.42" fill="#b61f2e"/><rect x="97.09" y="871.64" width="19.80" height="16.42" fill="#cf5246"/><rect x="115.89" y="871.64" width="19.80" height="16.42" fill="#e8896c"/><rect x="134.68" y="871.64" width="19.80" height="16.42" fill="#f6b394"/><rect x="153.48" y="871.64" width="19.80" height="16.42" fill="#fcd3bc"/><rect x="172.28" y="871.64" width="19.80" height="16.42" fill="#fae5d8"/><rect x="191.07" y="871.64" width="19.80" height="16.42" fill="#f6f0ec"/><rect x="209.87" y="871.64" width="19.80" height="16.42" fill="#ebeff0"/><rect x="228.67" y="871.64" width="19.80" height="16.42" fill="#dee9ef"/><rect x="247.46" y="871.64" width="19.80" height="16.42" fill="#d5e6ef"/><rect x="266.26" y="871.64" width="19.80" height="16.42" fill="#cfe4ee"/><rect x="285.05" y="871.64" width="19.80" height="16.42" fill="#cae2ed"/><rect x="303.85" y="871.64" width="19.80" height="16.42" fill="#cae2ed"/><rect x="322.65" y="871.64" width="19.80" height="16.42" fill="#cfe4ee"/><rect x="341.44" y="871.64" width="19.80" height="16.42" fill="#d5e6ef"/><rect x="360.24" y="871.64" width="19.80" height="16.42" fill="#dee9ef"/><rect x="379.03" y="871.64" width="19.80" height="16.42" fill="#ebeff0"/><rect x="397.83" y="871.64" width="19.80" height="16.42" fill="#f6f0ec"/><rect x="416.63" y="871.64" width="19.80" height="16.42" fill="#fae5d8"/><rect x="435.42" y="871.64" width="19.80" height="16.42" fill="#fcd3bc"/><rect x="454.22" y="871.64" width="19.80" height="16.42" fill="#f6b394"/><rect x="473.02" y="871.64" width="19.80" height="16.42" fill="#e8896c"/><rect x="491.81" y="871.64" width="19.80" height="16.42" fill="#cf5246"/><rect x="510.61" y="871.64" width="19.80" height="16.42" fill="#b61f2e"/><rect x="529.40" y="871.64" width="22.80" height="16.42" fill="#760521"/>
<rect x="56.50" y="887.05" width="22.80" height="16.42" fill="#760521"/><rect x="78.30" y="887.05" width="19.80" height="16.42" fill="#b1182b"/><rect x="97.09" y="887.05" width="19.80" height="16.42" fill="#ce4f45"/><rect x="115.89" y="887.05" width="19.80" height="16.42" fill="#e48066"/><rect x="134.68" y="887.05" width="19.80" height="16.42" fill="#f5ac8b"/><rect x="153.48" y="887.05" width="19.80" height="16.42" fill="#fbccb4"/><rect x="172.28" y="887.05" width="19.80" height="16.42" fill="#fbe1d1"/><rect x="191.07" y="887.05" width="19.80" height="16.42" fill="#f8ece5"/><rect x="209.87" y="887.05" width="19.80" height="16.42" fill="#f3f2f1"/><rect x="228.67" y="887.05" width="19.80" height="16.42" fill="#e5ecef"/><rect x="247.46" y="887.05" width="19.80" height="16.42" fill="#dde9ef"/><rect x="266.26" y="887.05" width="19.80" height="16.42" fill="#d7e7ef"/><rect x="285.05" y="887.05" width="19.80" height="16.42" fill="#d3e6ee"/><rect x="303.85" y="887.05" width="19.80" height="16.42" fill="#d3e6ee"/><rect x="322.65" y="887.05" width="19.80" height="16.42" fill="#d7e7ef"/><rect x="341.44" y="887.05" width="19.80" height="16.42" fill="#dde9ef"/><rect x="360.24" y="887.05" width="19.80" height="16.42" fill="#e5ecef"/><rect x="379.03" y="887.05" width="19.80" height="16.42" fill="#f3f2f1"/><rect x="397.83" y="887.05" width="19.80" height="16.42" fill="#f8ece5"/><rect x="416.63" y="887.05" width="19.80" height="16.42" fill="#fbe1d1"/><rect x="435.42" y="887.05" width="19.80" height="16.42" fill="#fbccb4"/><rect x="454.22" y="887.05" width="19.80" height="16.42" fill="#f5ac8b"/><rect x="473.02" y="887.05" width="19.80" height="16.42" fill="#e48066"/><rect x="491.81" y="887.05" width="19.80" height="16.42" fill="#ce4f45"/><rect x="510.61" y="887.05" width="19.80" height="16.42" fill="#b1182b"/><rect x="529.40" y="887.05" width="22.80" height="16.42" fill="#760521"/>
<rect x="56.50" y="902.47" width="22.80" height="16.42" fill="#7c0722"/><rect x="78.30" y="902.47" width="19.80" height="16.42" fill="#b1182b"/><rect x="97.09" y="902.47" width="19.80" height="16.42" fill="#cb4942"/><rect x="115.89" y="902.47" width="19.80" height="16.42" fill="#e27b62"/><rect x="134.68" y="902.47" width="19.80" height="16.42" fill="#f4a683"/><rect x="153.48" y="902.47" width="19.80" height="16.42" fill="#f9c4a9"/><rect x="172.28" y="902.47" width="19.80" height="16.42" fill="#fcddca"/><rect x="191.07" y="902.47" width="19.80" height="16.42" fill="#f9e8dd"/><rect x="209.87" y="902.47" width="19.80" height="16.42" fill="#f6f0ec"/><rect x="228.67" y="902.47" width="19.80" height="16.42" fill="#eef0f0"/><rect x="247.46" y="902.47" width="19.80" height="16.42" fill="#e4ecef"/><rect x="266.26" y="902.47" width="19.80" height="16.42" fill="#dee9ef"/><rect x="285.05" y="902.47" width="19.80" height="16.42" fill="#dbe8ef"/><rect x="303.85" y="902.47" width="19.80" height="16.42" fill="#dbe8ef"/><rect x="322.65" y="902.47" width="19.80" height="16.42" fill="#dee9ef"/><rect x="341.44" y="902.47" width="19.80" height="16.42" fill="#e4ecef"/><rect x="360.24" y="902.47" width="19.80" height="16.42" fill="#eef0f0"/><rect x="379.03" y="902.47" width="19.80" height="16.42" fill="#f6f0ec"/><rect x="397.83" y="902.47" width="19.80" height="16.42" fill="#f9e8dd"/><rect x="416.63" y="902.47" width="19.80" height="16.42" fill="#fcddca"/><rect x="435.42" y="902.47" width="19.80" height="16.42" fill="#f9c4a9"/><rect x="454.22" y="902.47" width="19.80" height="16.42" fill="#f4a683"/><rect x="473.02" y="902.47" width="19.80" height="16.42" fill="#e27b62"/><rect x="491.81" y="902.47" width="19.80" height="16.42" fill="#cb4942"/><rect x="510.61" y="902.47" width="19.80" height="16.42" fill="#b1182b"/><rect x="529.40" y="902.47" width="22.80" height="16.42" fill="#7c0722"/>
<rect x="56.50" y="917.88" width="22.80" height="19.42" fill="#840924"/><rect x="78.30" y="917.88" width="19.80" height="19.42" fill="#b1182b"/><rect x="97.09" y="917.88" width="19.80" height="19.42" fill="#cb4942"/><rect x="115.89" y="917.88" width="19.80" height="19.42" fill="#df765e"/><rect x="134.68" y="917.88" width="19.80" height="19.42" fill="#f19e7d"/><rect x="153.48" y="917.88" width="19.80" height="19.42" fill="#f8bda1"/><rect x="172.28" y="917.88" width="19.80" height="19.42" fill="#fcd7c2"/><rect x="191.07" y="917.88" width="19.80" height="19.42" fill="#fae4d6"/><rect x="209.87" y="917.88" width="19.80" height="19.42" fill="#f8ece5"/><rect x="228.67" y="917.88" width="19.80" height="19.42" fill="#f5f3f2"/><rect x="247.46" y="917.88" width="19.80" height="19.42" fill="#ebeff0"/><rect x="266.26" y="917.88" width="19.80" height="19.42" fill="#e4ecef"/><rect x="285.05" y="917.88" width="19.80" height="19.42" fill="#e1ebef"/><rect x="303.85" y="917.88" width="19.80" height="19.42" fill="#e1ebef"/><rect x="322.65" y="917.88" width="19.80" height="19.42" fill="#e4ecef"/><rect x="341.44" y="917.88" width="19.80" height="19.42" fill="#ebeff0"/><rect x="360.24" y="917.88" width="19.80" height="19.42" fill="#f5f3f2"/><rect x="379.03" y="917.88" width="19.80" height="19.42" fill="#f8ece5"/><rect x="397.83" y="917.88" width="19.80" height="19.42" fill="#fae4d6"/><rect x="416.63" y="917.88" width="19.80" height="19.42" fill="#fcd7c2"/><rect x="435.42" y="917.88" width="19.80" height="19.42" fill="#f8bda1"/><rect x="454.22" y="917.88" width="19.80" height="19.42" fill="#f19e7d"/><rect x="473.02" y="917.88" width="19.80" height="19.42" fill="#df765e"/><rect x="491.81" y="917.88" width="19.80" height="19.42" fill="#cb4942"/><rect x="510.61" y="917.88" width="19.80" height="19.42" fill="#b1182b"/><rect x="529.40" y="917.88" width="22.80" height="19.42" fill="#840924"/>
</g></g>
<line x1="59.50" y1="532.50" x2="548.20" y2="532.50" stroke-width="1.00" stroke-opacity="0.25"/><line x1="548.20" y1="532.50" x2="548.20" y2="933.30" stroke-width="1.00" stroke-opacity="0.25"/><line x1="59.90" y1="532.00" x2="59.90" y2="933.90" stroke-width="1.50" stroke-opacity="1.00"/><line x1="58.90" y1="933.30" x2="548.70" y2="933.30" stroke-width="1.30" stroke-opacity="0.50"/>
<line x1="68.90" y1="933.30" x2="68.90" y2="936.90" stroke-width="1.10" stroke-opacity="0.60"/><text x="68.90" y="955.80" font-size="17.60" text-anchor="middle">0.0</text>
<line x1="55.30" y1="925.59" x2="59.50" y2="925.59" stroke-width="1.10" stroke-opacity="0.65"/><text x="49.20" y="932.02" font-size="17.60" text-anchor="end">0.0</text>
<line x1="162.88" y1="933.30" x2="162.88" y2="936.90" stroke-width="1.10" stroke-opacity="0.60"/><text x="162.88" y="955.80" font-size="17.60" text-anchor="middle">0.2</text>
<line x1="55.30" y1="848.52" x2="59.50" y2="848.52" stroke-width="1.10" stroke-opacity="0.65"/><text x="49.20" y="854.94" font-size="17.60" text-anchor="end">0.2</text>
<line x1="256.86" y1="933.30" x2="256.86" y2="936.90" stroke-width="1.10" stroke-opacity="0.60"/><text x="256.86" y="955.80" font-size="17.60" text-anchor="middle">0.4</text>
<line x1="55.30" y1="771.44" x2="59.50" y2="771.44" stroke-width="1.10" stroke-opacity="0.65"/><text x="49.20" y="777.86" font-size="17.60" text-anchor="end">0.4</text>
<line x1="350.84" y1="933.30" x2="350.84" y2="936.90" stroke-width="1.10" stroke-opacity="0.60"/><text x="350.84" y="955.80" font-size="17.60" text-anchor="middle">0.6</text>
<line x1="55.30" y1="694.36" x2="59.50" y2="694.36" stroke-width="1.10" stroke-opacity="0.65"/><text x="49.20" y="700.79" font-size="17.60" text-anchor="end">0.6</text>
<line x1="444.82" y1="933.30" x2="444.82" y2="936.90" stroke-width="1.10" stroke-opacity="0.60"/><text x="444.82" y="955.80" font-size="17.60" text-anchor="middle">0.8</text>
<line x1="55.30" y1="617.28" x2="59.50" y2="617.28" stroke-width="1.10" stroke-opacity="0.65"/><text x="49.20" y="623.71" font-size="17.60" text-anchor="end">0.8</text>
<line x1="538.80" y1="933.30" x2="538.80" y2="936.90" stroke-width="1.10" stroke-opacity="0.60"/><text x="538.80" y="955.80" font-size="17.60" text-anchor="middle">1.0</text>
<line x1="55.30" y1="540.21" x2="59.50" y2="540.21" stroke-width="1.10" stroke-opacity="0.65"/><text x="49.20" y="546.63" font-size="17.60" text-anchor="end">1.0</text>
<text x="303.85" y="977.00" font-size="17.60" text-anchor="middle">x</text>
<text transform="translate(11.30,733.90) rotate(-90)" font-size="17.60" text-anchor="middle">y</text>
<text x="302.80" y="524.80" font-size="21.10" text-anchor="middle">eyy_NN</text>
<rect x="577.80" y="532.50" width="21.40" height="400.80" fill="url(#rdbu)"/><line x1="577.80" y1="532.50" x2="599.20" y2="532.50" stroke-width="1.00" stroke-opacity="0.30"/><line x1="599.20" y1="532.00" x2="599.20" y2="933.90" stroke-width="1.50" stroke-opacity="1.00"/><line x1="577.80" y1="532.50" x2="577.80" y2="933.30" stroke-width="1.20" stroke-opacity="0.25"/><line x1="577.20" y1="933.30" x2="599.80" y2="933.30" stroke-width="1.30" stroke-opacity="0.90"/>
<line x1="599.20" y1="532.50" x2="603.80" y2="532.50" stroke-width="1.10" stroke-opacity="0.60"/><text x="607.60" y="538.92" font-size="17.60">0.1423</text>
<line x1="599.20" y1="565.90" x2="603.80" y2="565.90" stroke-width="1.10" stroke-opacity="0.60"/><text x="607.60" y="572.32" font-size="17.60">0.1298</text>
<line x1="599.20" y1="599.30" x2="603.80" y2="599.30" stroke-width="1.10" stroke-opacity="0.60"/><text x="607.60" y="605.72" font-size="17.60">0.1174</text>
<line x1="599.20" y1="632.70" x2="603.80" y2="632.70" stroke-width="1.10" stroke-opacity="0.60"/><text x="607.60" y="639.12" font-size="17.60">0.1050</text>
<line x1="599.20" y1="666.10" x2="603.80" y2="666.10" stroke-width="1.10" stroke-opacity="0.60"/><text x="607.60" y="672.52" font-size="17.60">0.0925</text>
<line x1="599.20" y1="699.50" x2="603.80" y2="699.50" stroke-width="1.10" stroke-opacity="0.60"/><text x="607.60" y="705.92" font-size="17.60">0.0801</text>
<line x1="599.20" y1="732.90" x2="603.80" y2="732.90" stroke-width="1.10" stroke-opacity="0.60"/><text x="607.60" y="739.32" font-size="17.60">0.0677</text>
<line x1="599.20" y1="766.30" x2="603.80" y2="766.30" stroke-width="1.10" stroke-opacity="0.60"/><text x="607.60" y="772.72" font-size="17.60">0.0552</text>
<line x1="599.20" y1="799.70" x2="603.80" y2="799.70" stroke-width="1.10" stroke-opacity="0.60"/><text x="607.60" y="806.12" font-size="17.60">0.0428</text>
<line x1="599.20" y1="833.10" x2="603.80" y2="833.10" stroke-width="1.10" stroke-opacity="0.60"/><text x="607.60" y="839.52" font-size="17.60">0.0304</text>
<line x1="599.20" y1="866.50" x2="603.80" y2="866.50" stroke-width="1.10" stroke-opacity="0.60"/><text x="607.60" y="872.92" font-size="17.60">0.0179</text>
<line x1="599.20" y1="899.90" x2="603.80" y2="899.90" stroke-width="1.10" stroke-opacity="0.60"/><text x="607.60" y="906.32" font-size="17.60">0.0055</text>
<line x1="599.20" y1="933.30" x2="603.80" y2="933.30" stroke-width="1.10" stroke-opacity="0.60"/><text x="607.60" y="939.72" font-size="17.60">-0.0069</text>
<g clip-path="url(#cp2)"><g filter="url(#hb)">
<rect x="56.50" y="1038.20" width="22.38" height="19.04" fill="#033063"/><rect x="77.88" y="1038.20" width="19.38" height="19.04" fill="#1f86be"/><rect x="96.26" y="1038.20" width="19.38" height="19.04" fill="#64afd4"/><rect x="114.64" y="1038.20" width="19.38" height="19.04" fill="#9fcfe4"/><rect x="133.02" y="1038.20" width="19.38" height="19.04" fill="#badbeb"/><rect x="151.40" y="1038.20" width="19.38" height="19.04" fill="#cfe4ee"/><rect x="169.78" y="1038.20" width="19.38" height="19.04" fill="#d7e7ef"/><rect x="188.17" y="1038.20" width="19.38" height="19.04" fill="#dee9ef"/><rect x="206.55" y="1038.20" width="19.38" height="19.04" fill="#e3ebef"/><rect x="224.93" y="1038.20" width="19.38" height="19.04" fill="#e5ecef"/><rect x="243.31" y="1038.20" width="19.38" height="19.04" fill="#eaeeef"/><rect x="261.69" y="1038.20" width="19.38" height="19.04" fill="#edeff0"/><rect x="280.07" y="1038.20" width="19.38" height="19.04" fill="#f5f3f2"/><rect x="298.45" y="1038.20" width="19.38" height="19.04" fill="#f7eee9"/><rect x="316.83" y="1038.20" width="19.38" height="19.04" fill="#f8ece5"/><rect x="335.21" y="1038.20" width="19.38" height="19.04" fill="#f8e9e0"/><rect x="353.59" y="1038.20" width="19.38" height="19.04" fill="#f9e8dd"/><rect x="371.97" y="1038.20" width="19.38" height="19.04" fill="#fae5d8"/><rect x="390.35" y="1038.20" width="19.38" height="19.04" fill="#fbe3d5"/><rect x="408.73" y="1038.20" width="19.38" height="19.04" fill="#fbe0cf"/><rect x="427.12" y="1038.20" width="19.38" height="19.04" fill="#fddbc7"/><rect x="445.50" y="1038.20" width="19.38" height="19.04" fill="#facab1"/><rect x="463.88" y="1038.20" width="19.38" height="19.04" fill="#f5ac8b"/><rect x="482.26" y="1038.20" width="19.38" height="19.04" fill="#eb9172"/><rect x="500.64" y="1038.20" width="19.38" height="19.04" fill="#c6413e"/><rect x="519.02" y="1038.20" width="22.38" height="19.04" fill="#67001f"/>
<rect x="56.50" y="1056.24" width="22.38" height="16.04" fill="#043569"/><rect x="77.88" y="1056.24" width="19.38" height="16.04" fill="#1b7bb9"/><rect x="96.26" y="1056.24" width="19.38" height="16.04" fill="#4ea4cd"/><rect x="114.64" y="1056.24" width="19.38" height="16.04" fill="#92c9e1"/><rect x="133.02" y="1056.24" width="19.38" height="16.04" fill="#add5e8"/><rect x="151.40" y="1056.24" width="19.38" height="16.04" fill="#c7e1ed"/><rect x="169.78" y="1056.24" width="19.38" height="16.04" fill="#d2e5ee"/><rect x="188.17" y="1056.24" width="19.38" height="16.04" fill="#dbe8ef"/><rect x="206.55" y="1056.24" width="19.38" height="16.04" fill="#e0eaef"/><rect x="224.93" y="1056.24" width="19.38" height="16.04" fill="#e5ecef"/><rect x="243.31" y="1056.24" width="19.38" height="16.04" fill="#eaeeef"/><rect x="261.69" y="1056.24" width="19.38" height="16.04" fill="#edeff0"/><rect x="280.07" y="1056.24" width="19.38" height="16.04" fill="#f3f2f1"/><rect x="298.45" y="1056.24" width="19.38" height="16.04" fill="#f6f0ec"/><rect x="316.83" y="1056.24" width="19.38" height="16.04" fill="#f8ece5"/><rect x="335.21" y="1056.24" width="19.38" height="16.04" fill="#f8e9e0"/><rect x="353.59" y="1056.24" width="19.38" height="16.04" fill="#f9e7db"/><rect x="371.97" y="1056.24" width="19.38" height="16.04" fill="#fae4d6"/><rect x="390.35" y="1056.24" width="19.38" height="16.04" fill="#fbe1d1"/><rect x="408.73" y="1056.24" width="19.38" height="16.04" fill="#fcddca"/><rect x="427.12" y="1056.24" width="19.38" height="16.04" fill="#fcd5bf"/><rect x="445.50" y="1056.24" width="19.38" height="16.04" fill="#f9c6ac"/><rect x="463.88" y="1056.24" width="19.38" height="16.04" fill="#f5a886"/><rect x="482.26" y="1056.24" width="19.38" height="16.04" fill="#e58368"/><rect x="500.64" y="1056.24" width="19.38" height="16.04" fill="#bf3338"/><rect x="519.02" y="1056.24" width="22.38" height="16.04" fill="#760521"/>
<rect x="56.50" y="1071.28" width="22.38" height="16.04" fill="#094680"/><rect x="77.88" y="1071.28" width="19.38" height="16.04" fill="#1978b7"/><rect x="96.26" y="1071.28" width="19.38" height="16.04" fill="#439eca"/><rect x="114.64" y="1071.28" width="19.38" height="16.04" fill="#83c1dd"/><rect x="133.02" y="1071.28" width="19.38" height="16.04" fill="#9fcfe4"/><rect x="151.40" y="1071.28" width="19.38" height="16.04" fill="#badbeb"/><rect x="169.78" y="1071.28" width="19.38" height="16.04" fill="#cfe4ee"/><rect x="188.17" y="1071.28" width="19.38" height="16.04" fill="#d7e7ef"/><rect x="206.55" y="1071.28" width="19.38" height="16.04" fill="#dee9ef"/><rect x="224.93" y="1071.28" width="19.38" height="16.04" fill="#e4ecef"/><rect x="243.31" y="1071.28" width="19.38" height="16.04" fill="#eaeeef"/><rect x="261.69" y="1071.28" width="19.38" height="16.04" fill="#edeff0"/><rect x="280.07" y="1071.28" width="19.38" height="16.04" fill="#f3f2f1"/><rect x="298.45" y="1071.28" width="19.38" height="16.04" fill="#f6f0ec"/><rect x="316.83" y="1071.28" width="19.38" height="16.04" fill="#f8ece5"/><rect x="335.21" y="1071.28" width="19.38" height="16.04" fill="#f8e9e0"/><rect x="353.59" y="1071.28" width="19.38" height="16.04" fill="#f9e7db"/><rect x="371.97" y="1071.28" width="19.38" height="16.04" fill="#fae4d6"/><rect x="390.35" y="1071.28" width="19.38" height="16.04" fill="#fbe1d1"/><rect x="408.73" y="1071.28" width="19.38" height="16.04" fill="#fcddca"/><rect x="427.12" y="1071.28" width="19.38" height="16.04" fill="#fbd0b9"/><rect x="445.50" y="1071.28" width="19.38" height="16.04" fill="#f8bfa4"/><rect x="463.88" y="1071.28" width="19.38" height="16.04" fill="#ef9979"/><rect x="482.26" y="1071.28" width="19.38" height="16.04" fill="#de735c"/><rect x="500.64" y="1071.28" width="19.38" height="16.04" fill="#bd2d35"/><rect x="519.02" y="1071.28" width="22.38" height="16.04" fill="#8a0b25"/>
<rect x="56.50" y="1086.33" width="22.38" height="16.04" fill="#0e5798"/><rect x="77.88" y="1086.33" width="19.38" height="16.04" fill="#1978b7"/><rect x="96.26" y="1086.33" width="19.38" height="16.04" fill="#3a9ac8"/><rect x="114.64" y="1086.33" width="19.38" height="16.04" fill="#72b7d8"/><rect x="133.02" y="1086.33" width="19.38" height="16.04" fill="#97cbe2"/><rect x="151.40" y="1086.33" width="19.38" height="16.04" fill="#b5d9ea"/><rect x="169.78" y="1086.33" width="19.38" height="16.04" fill="#c7e1ed"/><rect x="188.17" y="1086.33" width="19.38" height="16.04" fill="#d2e5ee"/><rect x="206.55" y="1086.33" width="19.38" height="16.04" fill="#dbe8ef"/><rect x="224.93" y="1086.33" width="19.38" height="16.04" fill="#e3ebef"/><rect x="243.31" y="1086.33" width="19.38" height="16.04" fill="#e8eeef"/><rect x="261.69" y="1086.33" width="19.38" height="16.04" fill="#edeff0"/><rect x="280.07" y="1086.33" width="19.38" height="16.04" fill="#f3f2f1"/><rect x="298.45" y="1086.33" width="19.38" height="16.04" fill="#f6f0ec"/><rect x="316.83" y="1086.33" width="19.38" height="16.04" fill="#f8ece5"/><rect x="335.21" y="1086.33" width="19.38" height="16.04" fill="#f9e8df"/><rect x="353.59" y="1086.33" width="19.38" height="16.04" fill="#fae6da"/><rect x="371.97" y="1086.33" width="19.38" height="16.04" fill="#fbe2d3"/><rect x="390.35" y="1086.33" width="19.38" height="16.04" fill="#fcdfce"/><rect x="408.73" y="1086.33" width="19.38" height="16.04" fill="#fddbc7"/><rect x="427.12" y="1086.33" width="19.38" height="16.04" fill="#facab1"/><rect x="445.50" y="1086.33" width="19.38" height="16.04" fill="#f8bb9e"/><rect x="463.88" y="1086.33" width="19.38" height="16.04" fill="#ec9374"/><rect x="482.26" y="1086.33" width="19.38" height="16.04" fill="#d86551"/><rect x="500.64" y="1086.33" width="19.38" height="16.04" fill="#bd2d35"/><rect x="519.02" y="1086.33" width="22.38" height="16.04" fill="#a21328"/>
<rect x="56.50" y="1101.37" width="22.38" height="16.04" fill="#1368af"/><rect x="77.88" y="1101.37" width="19.38" height="16.04" fill="#1b7dba"/><rect x="96.26" y="1101.37" width="19.38" height="16.04" fill="#3598c7"/><rect x="114.64" y="1101.37" width="19.38" height="16.04" fill="#68b1d5"/><rect x="133.02" y="1101.37" width="19.38" height="16.04" fill="#92c9e1"/><rect x="151.40" y="1101.37" width="19.38" height="16.04" fill="#add5e8"/><rect x="169.78" y="1101.37" width="19.38" height="16.04" fill="#c2deec"/><rect x="188.17" y="1101.37" width="19.38" height="16.04" fill="#d0e4ee"/><rect x="206.55" y="1101.37" width="19.38" height="16.04" fill="#d8e7ef"/><rect x="224.93" y="1101.37" width="19.38" height="16.04" fill="#e0eaef"/><rect x="243.31" y="1101.37" width="19.38" height="16.04" fill="#e5ecef"/><rect x="261.69" y="1101.37" width="19.38" height="16.04" fill="#edeff0"/><rect x="280.07" y="1101.37" width="19.38" height="16.04" fill="#f3f2f1"/><rect x="298.45" y="1101.37" width="19.38" height="16.04" fill="#f6f0ec"/><rect x="316.83" y="1101.37" width="19.38" height="16.04" fill="#f8ece5"/><rect x="335.21" y="1101.37" width="19.38" height="16.04" fill="#f9e9df"/><rect x="353.59" y="1101.37" width="19.38" height="16.04" fill="#fae5d8"/><rect x="371.97" y="1101.37" width="19.38" height="16.04" fill="#fbe1d1"/><rect x="390.35" y="1101.37" width="19.38" height="16.04" fill="#fcddca"/><rect x="408.73" y="1101.37" width="19.38" height="16.04" fill="#fdd9c4"/><rect x="427.12" y="1101.37" width="19.38" height="16.04" fill="#fac8af"/><rect x="445.50" y="1101.37" width="19.38" height="16.04" fill="#f7b596"/><rect x="463.88" y="1101.37" width="19.38" height="16.04" fill="#ee9677"/><rect x="482.26" y="1101.37" width="19.38" height="16.04" fill="#d86551"/><rect x="500.64" y="1101.37" width="19.38" height="16.04" fill="#bf3338"/><rect x="519.02" y="1101.37" width="22.38" height="16.04" fill="#b61f2e"/>
<rect x="56.50" y="1116.41" width="22.38" height="16.04" fill="#1876b6"/><rect x="77.88" y="1116.41" width="19.38" height="16.04" fill="#1e84bd"/><rect x="96.26" y="1116.41" width="19.38" height="16.04" fill="#3f9cc9"/><rect x="114.64" y="1116.41" width="19.38" height="16.04" fill="#68b1d5"/><rect x="133.02" y="1116.41" width="19.38" height="16.04" fill="#8dc6e0"/><rect x="151.40" y="1116.41" width="19.38" height="16.04" fill="#a5d2e6"/><rect x="169.78" y="1116.41" width="19.38" height="16.04" fill="#badbeb"/><rect x="188.17" y="1116.41" width="19.38" height="16.04" fill="#cce3ee"/><rect x="206.55" y="1116.41" width="19.38" height="16.04" fill="#d5e6ef"/><rect x="224.93" y="1116.41" width="19.38" height="16.04" fill="#deeaef"/><rect x="243.31" y="1116.41" width="19.38" height="16.04" fill="#e5ecef"/><rect x="261.69" y="1116.41" width="19.38" height="16.04" fill="#ebeff0"/><rect x="280.07" y="1116.41" width="19.38" height="16.04" fill="#f3f2f1"/><rect x="298.45" y="1116.41" width="19.38" height="16.04" fill="#f6f0ec"/><rect x="316.83" y="1116.41" width="19.38" height="16.04" fill="#f8ece5"/><rect x="335.21" y="1116.41" width="19.38" height="16.04" fill="#f9e9df"/><rect x="353.59" y="1116.41" width="19.38" height="16.04" fill="#fae5d8"/><rect x="371.97" y="1116.41" width="19.38" height="16.04" fill="#fbe0cf"/><rect x="390.35" y="1116.41" width="19.38" height="16.04" fill="#fddcc9"/><rect x="408.73" y="1116.41" width="19.38" height="16.04" fill="#fcd5bf"/><rect x="427.12" y="1116.41" width="19.38" height="16.04" fill="#f9c6ac"/><rect x="445.50" y="1116.41" width="19.38" height="16.04" fill="#f6af8e"/><rect x="463.88" y="1116.41" width="19.38" height="16.04" fill="#eb9172"/><rect x="482.26" y="1116.41" width="19.38" height="16.04" fill="#d86551"/><rect x="500.64" y="1116.41" width="19.38" height="16.04" fill="#c6413e"/><rect x="519.02" y="1116.41" width="22.38" height="16.04" fill="#bf3338"/>
<rect x="56.50" y="1131.45" width="22.38" height="16.04" fill="#1e84bd"/><rect x="77.88" y="1131.45" width="19.38" height="16.04" fill="#238fc2"/><rect x="96.26" y="1131.45" width="19.38" height="16.04" fill="#4ba2cc"/><rect x="114.64" y="1131.45" width="19.38" height="16.04" fill="#6bb3d6"/><rect x="133.02" y="1131.45" width="19.38" height="16.04" fill="#8ac5df"/><rect x="151.40" y="1131.45" width="19.38" height="16.04" fill="#9fcfe4"/><rect x="169.78" y="1131.45" width="19.38" height="16.04" fill="#b5d9ea"/><rect x="188.17" y="1131.45" width="19.38" height="16.04" fill="#c5e0ed"/><rect x="206.55" y="1131.45" width="19.38" height="16.04" fill="#d0e4ee"/><rect x="224.93" y="1131.45" width="19.38" height="16.04" fill="#d8e7ef"/><rect x="243.31" y="1131.45" width="19.38" height="16.04" fill="#e1ebef"/><rect x="261.69" y="1131.45" width="19.38" height="16.04" fill="#e8edef"/><rect x="280.07" y="1131.45" width="19.38" height="16.04" fill="#f1f2f1"/><rect x="298.45" y="1131.45" width="19.38" height="16.04" fill="#f6f1ee"/><rect x="316.83" y="1131.45" width="19.38" height="16.04" fill="#f8ece5"/><rect x="335.21" y="1131.45" width="19.38" height="16.04" fill="#f9e8dd"/><rect x="353.59" y="1131.45" width="19.38" height="16.04" fill="#fae4d6"/><rect x="371.97" y="1131.45" width="19.38" height="16.04" fill="#fce0cf"/><rect x="390.35" y="1131.45" width="19.38" height="16.04" fill="#fddbc7"/><rect x="408.73" y="1131.45" width="19.38" height="16.04" fill="#fcd3bc"/><rect x="427.12" y="1131.45" width="19.38" height="16.04" fill="#f9c2a7"/><rect x="445.50" y="1131.45" width="19.38" height="16.04" fill="#f5ac8b"/><rect x="463.88" y="1131.45" width="19.38" height="16.04" fill="#eb9172"/><rect x="482.26" y="1131.45" width="19.38" height="16.04" fill="#dc6e57"/><rect x="500.64" y="1131.45" width="19.38" height="16.04" fill="#cf5246"/><rect x="519.02" y="1131.45" width="22.38" height="16.04" fill="#cb4942"/>
<rect x="56.50" y="1146.50" width="22.38" height="16.04" fill="#2590c3"/><rect x="77.88" y="1146.50" width="19.38" height="16.04" fill="#3a9ac8"/><rect x="96.26" y="1146.50" width="19.38" height="16.04" fill="#56a8cf"/><rect x="114.64" y="1146.50" width="19.38" height="16.04" fill="#72b7d8"/><rect x="133.02" y="1146.50" width="19.38" height="16.04" fill="#8dc6e0"/><rect x="151.40" y="1146.50" width="19.38" height="16.04" fill="#9fcfe4"/><rect x="169.78" y="1146.50" width="19.38" height="16.04" fill="#b2d8e9"/><rect x="188.17" y="1146.50" width="19.38" height="16.04" fill="#c2deec"/><rect x="206.55" y="1146.50" width="19.38" height="16.04" fill="#cfe4ee"/><rect x="224.93" y="1146.50" width="19.38" height="16.04" fill="#d8e7ef"/><rect x="243.31" y="1146.50" width="19.38" height="16.04" fill="#e0eaef"/><rect x="261.69" y="1146.50" width="19.38" height="16.04" fill="#e8edef"/><rect x="280.07" y="1146.50" width="19.38" height="16.04" fill="#f1f2f1"/><rect x="298.45" y="1146.50" width="19.38" height="16.04" fill="#f6f1ee"/><rect x="316.83" y="1146.50" width="19.38" height="16.04" fill="#f8ebe4"/><rect x="335.21" y="1146.50" width="19.38" height="16.04" fill="#f9e8dd"/><rect x="353.59" y="1146.50" width="19.38" height="16.04" fill="#fbe3d4"/><rect x="371.97" y="1146.50" width="19.38" height="16.04" fill="#fcdfce"/><rect x="390.35" y="1146.50" width="19.38" height="16.04" fill="#fdd9c4"/><rect x="408.73" y="1146.50" width="19.38" height="16.04" fill="#fbd0b9"/><rect x="427.12" y="1146.50" width="19.38" height="16.04" fill="#f8bfa4"/><rect x="445.50" y="1146.50" width="19.38" height="16.04" fill="#f5aa89"/><rect x="463.88" y="1146.50" width="19.38" height="16.04" fill="#eb9172"/><rect x="482.26" y="1146.50" width="19.38" height="16.04" fill="#de735c"/><rect x="500.64" y="1146.50" width="19.38" height="16.04" fill="#d86551"/><rect x="519.02" y="1146.50" width="22.38" height="16.04" fill="#d6604d"/>
<rect x="56.50" y="1161.54" width="22.38" height="16.04" fill="#439eca"/><rect x="77.88" y="1161.54" width="19.38" height="16.04" fill="#4ea4cd"/><rect x="96.26" y="1161.54" width="19.38" height="16.04" fill="#64afd4"/><rect x="114.64" y="1161.54" width="19.38" height="16.04" fill="#79bbda"/><rect x="133.02" y="1161.54" width="19.38" height="16.04" fill="#8fc8e0"/><rect x="151.40" y="1161.54" width="19.38" height="16.04" fill="#a2d0e5"/><rect x="169.78" y="1161.54" width="19.38" height="16.04" fill="#b5d9ea"/><rect x="188.17" y="1161.54" width="19.38" height="16.04" fill="#c5e0ed"/><rect x="206.55" y="1161.54" width="19.38" height="16.04" fill="#d0e4ee"/><rect x="224.93" y="1161.54" width="19.38" height="16.04" fill="#d8e7ef"/><rect x="243.31" y="1161.54" width="19.38" height="16.04" fill="#e1ebef"/><rect x="261.69" y="1161.54" width="19.38" height="16.04" fill="#e8edef"/><rect x="280.07" y="1161.54" width="19.38" height="16.04" fill="#f1f2f1"/><rect x="298.45" y="1161.54" width="19.38" height="16.04" fill="#f6f1ee"/><rect x="316.83" y="1161.54" width="19.38" height="16.04" fill="#f8ebe4"/><rect x="335.21" y="1161.54" width="19.38" height="16.04" fill="#f9e7db"/><rect x="353.59" y="1161.54" width="19.38" height="16.04" fill="#fbe3d5"/><rect x="371.97" y="1161.54" width="19.38" height="16.04" fill="#fcdecc"/><rect x="390.35" y="1161.54" width="19.38" height="16.04" fill="#fcd7c2"/><rect x="408.73" y="1161.54" width="19.38" height="16.04" fill="#fbccb4"/><rect x="427.12" y="1161.54" width="19.38" height="16.04" fill="#f8bda1"/><rect x="445.50" y="1161.54" width="19.38" height="16.04" fill="#f5aa89"/><rect x="463.88" y="1161.54" width="19.38" height="16.04" fill="#ec9374"/><rect x="482.26" y="1161.54" width="19.38" height="16.04" fill="#e37e64"/><rect x="500.64" y="1161.54" width="19.38" height="16.04" fill="#de735c"/><rect x="519.02" y="1161.54" width="22.38" height="16.04" fill="#dc6e57"/>
<rect x="56.50" y="1176.58" width="22.38" height="16.04" fill="#56a8cf"/><rect x="77.88" y="1176.58" width="19.38" height="16.04" fill="#61add3"/><rect x="96.26" y="1176.58" width="19.38" height="16.04" fill="#6fb5d7"/><rect x="114.64" y="1176.58" width="19.38" height="16.04" fill="#83c1dd"/><rect x="133.02" y="1176.58" width="19.38" height="16.04" fill="#95cae2"/><rect x="151.40" y="1176.58" width="19.38" height="16.04" fill="#a5d2e6"/><rect x="169.78" y="1176.58" width="19.38" height="16.04" fill="#b5d9ea"/><rect x="188.17" y="1176.58" width="19.38" height="16.04" fill="#c5dfec"/><rect x="206.55" y="1176.58" width="19.38" height="16.04" fill="#d0e4ee"/><rect x="224.93" y="1176.58" width="19.38" height="16.04" fill="#d8e7ef"/><rect x="243.31" y="1176.58" width="19.38" height="16.04" fill="#e1ebef"/><rect x="261.69" y="1176.58" width="19.38" height="16.04" fill="#e8edef"/><rect x="280.07" y="1176.58" width="19.38" height="16.04" fill="#f1f2f1"/><rect x="298.45" y="1176.58" width="19.38" height="16.04" fill="#f6f1ee"/><rect x="316.83" y="1176.58" width="19.38" height="16.04" fill="#f8ece5"/><rect x="335.21" y="1176.58" width="19.38" height="16.04" fill="#f9e8dd"/><rect x="353.59" y="1176.58" width="19.38" height="16.04" fill="#fbe3d5"/><rect x="371.97" y="1176.58" width="19.38" height="16.04" fill="#fcdecc"/><rect x="390.35" y="1176.58" width="19.38" height="16.04" fill="#fcd7c2"/><rect x="408.73" y="1176.58" width="19.38" height="16.04" fill="#facab1"/><rect x="427.12" y="1176.58" width="19.38" height="16.04" fill="#f8bb9e"/><rect x="445.50" y="1176.58" width="19.38" height="16.04" fill="#f5aa89"/><rect x="463.88" y="1176.58" width="19.38" height="16.04" fill="#ef9979"/><rect x="482.26" y="1176.58" width="19.38" height="16.04" fill="#e8896c"/><rect x="500.64" y="1176.58" width="19.38" height="16.04" fill="#e48066"/><rect x="519.02" y="1176.58" width="22.38" height="16.04" fill="#e27b62"/>
<rect x="56.50" y="1191.62" width="22.38" height="16.04" fill="#68b1d5"/><rect x="77.88" y="1191.62" width="19.38" height="16.04" fill="#6fb5d7"/><rect x="96.26" y="1191.62" width="19.38" height="16.04" fill="#79bbda"/><rect x="114.64" y="1191.62" width="19.38" height="16.04" fill="#8ac5df"/><rect x="133.02" y="1191.62" width="19.38" height="16.04" fill="#9acde3"/><rect x="151.40" y="1191.62" width="19.38" height="16.04" fill="#aad4e7"/><rect x="169.78" y="1191.62" width="19.38" height="16.04" fill="#b7daea"/><rect x="188.17" y="1191.62" width="19.38" height="16.04" fill="#c7e1ed"/><rect x="206.55" y="1191.62" width="19.38" height="16.04" fill="#d2e5ef"/><rect x="224.93" y="1191.62" width="19.38" height="16.04" fill="#dae8ef"/><rect x="243.31" y="1191.62" width="19.38" height="16.04" fill="#e1ebef"/><rect x="261.69" y="1191.62" width="19.38" height="16.04" fill="#e8edef"/><rect x="280.07" y="1191.62" width="19.38" height="16.04" fill="#f1f2f1"/><rect x="298.45" y="1191.62" width="19.38" height="16.04" fill="#f6f1ee"/><rect x="316.83" y="1191.62" width="19.38" height="16.04" fill="#f8ece5"/><rect x="335.21" y="1191.62" width="19.38" height="16.04" fill="#f9e8dd"/><rect x="353.59" y="1191.62" width="19.38" height="16.04" fill="#fbe3d5"/><rect x="371.97" y="1191.62" width="19.38" height="16.04" fill="#fcdecc"/><rect x="390.35" y="1191.62" width="19.38" height="16.04" fill="#fcd7c2"/><rect x="408.73" y="1191.62" width="19.38" height="16.04" fill="#facab1"/><rect x="427.12" y="1191.62" width="19.38" height="16.04" fill="#f8bb9e"/><rect x="445.50" y="1191.62" width="19.38" height="16.04" fill="#f6af8e"/><rect x="463.88" y="1191.62" width="19.38" height="16.04" fill="#f19e7d"/><rect x="482.26" y="1191.62" width="19.38" height="16.04" fill="#ec9374"/><rect x="500.64" y="1191.62" width="19.38" height="16.04" fill="#e98b6e"/><rect x="519.02" y="1191.62" width="22.38" height="16.04" fill="#e8896c"/>
<rect x="56.50" y="1206.67" width="22.38" height="16.04" fill="#75b9d9"/><rect x="77.88" y="1206.67" width="19.38" height="16.04" fill="#7cbddb"/><rect x="96.26" y="1206.67" width="19.38" height="16.04" fill="#86c3de"/><rect x="114.64" y="1206.67" width="19.38" height="16.04" fill="#92c9e1"/><rect x="133.02" y="1206.67" width="19.38" height="16.04" fill="#9fcfe4"/><rect x="151.40" y="1206.67" width="19.38" height="16.04" fill="#add5e8"/><rect x="169.78" y="1206.67" width="19.38" height="16.04" fill="#badbeb"/><rect x="188.17" y="1206.67" width="19.38" height="16.04" fill="#c7e1ed"/><rect x="206.55" y="1206.67" width="19.38" height="16.04" fill="#d2e5ee"/><rect x="224.93" y="1206.67" width="19.38" height="16.04" fill="#dae8ef"/><rect x="243.31" y="1206.67" width="19.38" height="16.04" fill="#e1ebef"/><rect x="261.69" y="1206.67" width="19.38" height="16.04" fill="#e8edef"/><rect x="280.07" y="1206.67" width="19.38" height="16.04" fill="#f1f2f1"/><rect x="298.45" y="1206.67" width="19.38" height="16.04" fill="#f6f1ee"/><rect x="316.83" y="1206.67" width="19.38" height="16.04" fill="#f8ece5"/><rect x="335.21" y="1206.67" width="19.38" height="16.04" fill="#f9e8dd"/><rect x="353.59" y="1206.67" width="19.38" height="16.04" fill="#fbe3d4"/><rect x="371.97" y="1206.67" width="19.38" height="16.04" fill="#fcdecc"/><rect x="390.35" y="1206.67" width="19.38" height="16.04" fill="#fcd7c2"/><rect x="408.73" y="1206.67" width="19.38" height="16.04" fill="#fbccb4"/><rect x="427.12" y="1206.67" width="19.38" height="16.04" fill="#f8bfa4"/><rect x="445.50" y="1206.67" width="19.38" height="16.04" fill="#f6b394"/><rect x="463.88" y="1206.67" width="19.38" height="16.04" fill="#f5a886"/><rect x="482.26" y="1206.67" width="19.38" height="16.04" fill="#f19e7d"/><rect x="500.64" y="1206.67" width="19.38" height="16.04" fill="#ef9979"/><rect x="519.02" y="1206.67" width="22.38" height="16.04" fill="#ee9677"/>
<rect x="56.50" y="1221.71" width="22.38" height="16.04" fill="#83c1dd"/><rect x="77.88" y="1221.71" width="19.38" height="16.04" fill="#86c3de"/><rect x="96.26" y="1221.71" width="19.38" height="16.04" fill="#8fc8e0"/><rect x="114.64" y="1221.71" width="19.38" height="16.04" fill="#9acde3"/><rect x="133.02" y="1221.71" width="19.38" height="16.04" fill="#a5d2e6"/><rect x="151.40" y="1221.71" width="19.38" height="16.04" fill="#b2d8e9"/><rect x="169.78" y="1221.71" width="19.38" height="16.04" fill="#bddceb"/><rect x="188.17" y="1221.71" width="19.38" height="16.04" fill="#cae2ed"/><rect x="206.55" y="1221.71" width="19.38" height="16.04" fill="#d3e6ef"/><rect x="224.93" y="1221.71" width="19.38" height="16.04" fill="#dbe8ef"/><rect x="243.31" y="1221.71" width="19.38" height="16.04" fill="#e3ebef"/><rect x="261.69" y="1221.71" width="19.38" height="16.04" fill="#eaeef0"/><rect x="280.07" y="1221.71" width="19.38" height="16.04" fill="#f1f2f1"/><rect x="298.45" y="1221.71" width="19.38" height="16.04" fill="#f6f1ee"/><rect x="316.83" y="1221.71" width="19.38" height="16.04" fill="#f7ede7"/><rect x="335.21" y="1221.71" width="19.38" height="16.04" fill="#f9e9df"/><rect x="353.59" y="1221.71" width="19.38" height="16.04" fill="#fae4d6"/><rect x="371.97" y="1221.71" width="19.38" height="16.04" fill="#fcdfce"/><rect x="390.35" y="1221.71" width="19.38" height="16.04" fill="#fddbc7"/><rect x="408.73" y="1221.71" width="19.38" height="16.04" fill="#fbceb7"/><rect x="427.12" y="1221.71" width="19.38" height="16.04" fill="#f9c4a9"/><rect x="445.50" y="1221.71" width="19.38" height="16.04" fill="#f7b99c"/><rect x="463.88" y="1221.71" width="19.38" height="16.04" fill="#f6b191"/><rect x="482.26" y="1221.71" width="19.38" height="16.04" fill="#f5a886"/><rect x="500.64" y="1221.71" width="19.38" height="16.04" fill="#f4a683"/><rect x="519.02" y="1221.71" width="22.38" height="16.04" fill="#f3a481"/>
<rect x="56.50" y="1236.75" width="22.38" height="16.04" fill="#92c9e1"/><rect x="77.88" y="1236.75" width="19.38" height="16.04" fill="#95cae2"/><rect x="96.26" y="1236.75" width="19.38" height="16.04" fill="#9acde3"/><rect x="114.64" y="1236.75" width="19.38" height="16.04" fill="#a2d0e5"/><rect x="133.02" y="1236.75" width="19.38" height="16.04" fill="#add5e8"/><rect x="151.40" y="1236.75" width="19.38" height="16.04" fill="#b7daea"/><rect x="169.78" y="1236.75" width="19.38" height="16.04" fill="#c2deec"/><rect x="188.17" y="1236.75" width="19.38" height="16.04" fill="#cce3ee"/><rect x="206.55" y="1236.75" width="19.38" height="16.04" fill="#d3e6ee"/><rect x="224.93" y="1236.75" width="19.38" height="16.04" fill="#dbe8ef"/><rect x="243.31" y="1236.75" width="19.38" height="16.04" fill="#e3ebef"/><rect x="261.69" y="1236.75" width="19.38" height="16.04" fill="#eaeef0"/><rect x="280.07" y="1236.75" width="19.38" height="16.04" fill="#f1f2f1"/><rect x="298.45" y="1236.75" width="19.38" height="16.04" fill="#f6f1ee"/><rect x="316.83" y="1236.75" width="19.38" height="16.04" fill="#f7ede7"/><rect x="335.21" y="1236.75" width="19.38" height="16.04" fill="#f9e9df"/><rect x="353.59" y="1236.75" width="19.38" height="16.04" fill="#fae5d8"/><rect x="371.97" y="1236.75" width="19.38" height="16.04" fill="#fbe0cf"/><rect x="390.35" y="1236.75" width="19.38" height="16.04" fill="#fddcc9"/><rect x="408.73" y="1236.75" width="19.38" height="16.04" fill="#fcd3bc"/><rect x="427.12" y="1236.75" width="19.38" height="16.04" fill="#fac8af"/><rect x="445.50" y="1236.75" width="19.38" height="16.04" fill="#f8bda1"/><rect x="463.88" y="1236.75" width="19.38" height="16.04" fill="#f7b799"/><rect x="482.26" y="1236.75" width="19.38" height="16.04" fill="#f6b394"/><rect x="500.64" y="1236.75" width="19.38" height="16.04" fill="#f6af8e"/><rect x="519.02" y="1236.75" width="22.38" height="16.04" fill="#f6af8e"/>
<rect x="56.50" y="1251.79" width="22.38" height="16.04" fill="#9dcee4"/><rect x="77.88" y="1251.79" width="19.38" height="16.04" fill="#9fcfe4"/><rect x="96.26" y="1251.79" width="19.38" height="16.04" fill="#a5d2e6"/><rect x="114.64" y="1251.79" width="19.38" height="16.04" fill="#aad4e7"/><rect x="133.02" y="1251.79" width="19.38" height="16.04" fill="#b5d9ea"/><rect x="151.40" y="1251.79" width="19.38" height="16.04" fill="#bddceb"/><rect x="169.78" y="1251.79" width="19.38" height="16.04" fill="#c5dfed"/><rect x="188.17" y="1251.79" width="19.38" height="16.04" fill="#cce3ee"/><rect x="206.55" y="1251.79" width="19.38" height="16.04" fill="#d5e6ef"/><rect x="224.93" y="1251.79" width="19.38" height="16.04" fill="#dbe8ef"/><rect x="243.31" y="1251.79" width="19.38" height="16.04" fill="#e3ebef"/><rect x="261.69" y="1251.79" width="19.38" height="16.04" fill="#eaeeef"/><rect x="280.07" y="1251.79" width="19.38" height="16.04" fill="#f1f2f1"/><rect x="298.45" y="1251.79" width="19.38" height="16.04" fill="#f6f1ee"/><rect x="316.83" y="1251.79" width="19.38" height="16.04" fill="#f7ede7"/><rect x="335.21" y="1251.79" width="19.38" height="16.04" fill="#f9e8df"/><rect x="353.59" y="1251.79" width="19.38" height="16.04" fill="#fae5d8"/><rect x="371.97" y="1251.79" width="19.38" height="16.04" fill="#fbe1d1"/><rect x="390.35" y="1251.79" width="19.38" height="16.04" fill="#fcddca"/><rect x="408.73" y="1251.79" width="19.38" height="16.04" fill="#fcd5bf"/><rect x="427.12" y="1251.79" width="19.38" height="16.04" fill="#fbccb4"/><rect x="445.50" y="1251.79" width="19.38" height="16.04" fill="#f9c4a9"/><rect x="463.88" y="1251.79" width="19.38" height="16.04" fill="#f8bda1"/><rect x="482.26" y="1251.79" width="19.38" height="16.04" fill="#f8bb9e"/><rect x="500.64" y="1251.79" width="19.38" height="16.04" fill="#f7b99c"/><rect x="519.02" y="1251.79" width="22.38" height="16.04" fill="#f7b99c"/>
<rect x="56.50" y="1266.83" width="22.38" height="16.04" fill="#aad4e7"/><rect x="77.88" y="1266.83" width="19.38" height="16.04" fill="#aad4e7"/><rect x="96.26" y="1266.83" width="19.38" height="16.04" fill="#add5e8"/><rect x="114.64" y="1266.83" width="19.38" height="16.04" fill="#b5d9ea"/><rect x="133.02" y="1266.83" width="19.38" height="16.04" fill="#badbeb"/><rect x="151.40" y="1266.83" width="19.38" height="16.04" fill="#c2deec"/><rect x="169.78" y="1266.83" width="19.38" height="16.04" fill="#c7e1ed"/><rect x="188.17" y="1266.83" width="19.38" height="16.04" fill="#cfe4ee"/><rect x="206.55" y="1266.83" width="19.38" height="16.04" fill="#d5e6ef"/><rect x="224.93" y="1266.83" width="19.38" height="16.04" fill="#dde9ef"/><rect x="243.31" y="1266.83" width="19.38" height="16.04" fill="#e3ebef"/><rect x="261.69" y="1266.83" width="19.38" height="16.04" fill="#eaeeef"/><rect x="280.07" y="1266.83" width="19.38" height="16.04" fill="#f1f2f1"/><rect x="298.45" y="1266.83" width="19.38" height="16.04" fill="#f6f1ee"/><rect x="316.83" y="1266.83" width="19.38" height="16.04" fill="#f7ede7"/><rect x="335.21" y="1266.83" width="19.38" height="16.04" fill="#f8eae0"/><rect x="353.59" y="1266.83" width="19.38" height="16.04" fill="#fae6da"/><rect x="371.97" y="1266.83" width="19.38" height="16.04" fill="#fbe2d3"/><rect x="390.35" y="1266.83" width="19.38" height="16.04" fill="#fcdecc"/><rect x="408.73" y="1266.83" width="19.38" height="16.04" fill="#fdd9c4"/><rect x="427.12" y="1266.83" width="19.38" height="16.04" fill="#fbd0b9"/><rect x="445.50" y="1266.83" width="19.38" height="16.04" fill="#facab1"/><rect x="463.88" y="1266.83" width="19.38" height="16.04" fill="#f9c6ac"/><rect x="482.26" y="1266.83" width="19.38" height="16.04" fill="#f9c4a9"/><rect x="500.64" y="1266.83" width="19.38" height="16.04" fill="#f9c2a7"/><rect x="519.02" y="1266.83" width="22.38" height="16.04" fill="#f9c2a7"/>
<rect x="56.50" y="1281.88" width="22.38" height="16.04" fill="#b2d8e9"/><rect x="77.88" y="1281.88" width="19.38" height="16.04" fill="#b5d9ea"/><rect x="96.26" y="1281.88" width="19.38" height="16.04" fill="#b7daea"/><rect x="114.64" y="1281.88" width="19.38" height="16.04" fill="#badbeb"/><rect x="133.02" y="1281.88" width="19.38" height="16.04" fill="#c2deec"/><rect x="151.40" y="1281.88" width="19.38" height="16.04" fill="#c7e1ed"/><rect x="169.78" y="1281.88" width="19.38" height="16.04" fill="#cce3ee"/><rect x="188.17" y="1281.88" width="19.38" height="16.04" fill="#d0e4ee"/><rect x="206.55" y="1281.88" width="19.38" height="16.04" fill="#d7e7ef"/><rect x="224.93" y="1281.88" width="19.38" height="16.04" fill="#dde9ef"/><rect x="243.31" y="1281.88" width="19.38" height="16.04" fill="#e3ebef"/><rect x="261.69" y="1281.88" width="19.38" height="16.04" fill="#eaeeef"/><rect x="280.07" y="1281.88" width="19.38" height="16.04" fill="#f1f2f1"/><rect x="298.45" y="1281.88" width="19.38" height="16.04" fill="#f6f1ee"/><rect x="316.83" y="1281.88" width="19.38" height="16.04" fill="#f7ede7"/><rect x="335.21" y="1281.88" width="19.38" height="16.04" fill="#f8e9e0"/><rect x="353.59" y="1281.88" width="19.38" height="16.04" fill="#fae6d9"/><rect x="371.97" y="1281.88" width="19.38" height="16.04" fill="#fbe3d5"/><rect x="390.35" y="1281.88" width="19.38" height="16.04" fill="#fcdfce"/><rect x="408.73" y="1281.88" width="19.38" height="16.04" fill="#fddbc7"/><rect x="427.12" y="1281.88" width="19.38" height="16.04" fill="#fcd5bf"/><rect x="445.50" y="1281.88" width="19.38" height="16.04" fill="#fbd0b9"/><rect x="463.88" y="1281.88" width="19.38" height="16.04" fill="#fbccb4"/><rect x="482.26" y="1281.88" width="19.38" height="16.04" fill="#facab1"/><rect x="500.64" y="1281.88" width="19.38" height="16.04" fill="#facab1"/><rect x="519.02" y="1281.88" width="22.38" height="16.04" fill="#facab1"/>
<rect x="56.50" y="1296.92" width="22.38" height="16.04" fill="#badbeb"/><rect x="77.88" y="1296.92" width="19.38" height="16.04" fill="#badbeb"/><rect x="96.26" y="1296.92" width="19.38" height="16.04" fill="#bddceb"/><rect x="114.64" y="1296.92" width="19.38" height="16.04" fill="#c2deec"/><rect x="133.02" y="1296.92" width="19.38" height="16.04" fill="#c5dfec"/><rect x="151.40" y="1296.92" width="19.38" height="16.04" fill="#cce3ee"/><rect x="169.78" y="1296.92" width="19.38" height="16.04" fill="#d0e5ef"/><rect x="188.17" y="1296.92" width="19.38" height="16.04" fill="#d2e5ef"/><rect x="206.55" y="1296.92" width="19.38" height="16.04" fill="#d7e7ef"/><rect x="224.93" y="1296.92" width="19.38" height="16.04" fill="#dde9ef"/><rect x="243.31" y="1296.92" width="19.38" height="16.04" fill="#e4ecef"/><rect x="261.69" y="1296.92" width="19.38" height="16.04" fill="#eaeeef"/><rect x="280.07" y="1296.92" width="19.38" height="16.04" fill="#f1f2f1"/><rect x="298.45" y="1296.92" width="19.38" height="16.04" fill="#f6f1ee"/><rect x="316.83" y="1296.92" width="19.38" height="16.04" fill="#f7ede7"/><rect x="335.21" y="1296.92" width="19.38" height="16.04" fill="#f8ebe2"/><rect x="353.59" y="1296.92" width="19.38" height="16.04" fill="#f9e7db"/><rect x="371.97" y="1296.92" width="19.38" height="16.04" fill="#fbe3d4"/><rect x="390.35" y="1296.92" width="19.38" height="16.04" fill="#fce0cf"/><rect x="408.73" y="1296.92" width="19.38" height="16.04" fill="#fddcc9"/><rect x="427.12" y="1296.92" width="19.38" height="16.04" fill="#fdd9c4"/><rect x="445.50" y="1296.92" width="19.38" height="16.04" fill="#fcd5bf"/><rect x="463.88" y="1296.92" width="19.38" height="16.04" fill="#fcd3bc"/><rect x="482.26" y="1296.92" width="19.38" height="16.04" fill="#fcd3bc"/><rect x="500.64" y="1296.92" width="19.38" height="16.04" fill="#fcd3bc"/><rect x="519.02" y="1296.92" width="22.38" height="16.04" fill="#fcd3bc"/>
<rect x="56.50" y="1311.96" width="22.38" height="16.04" fill="#bddceb"/><rect x="77.88" y="1311.96" width="19.38" height="16.04" fill="#bfddec"/><rect x="96.26" y="1311.96" width="19.38" height="16.04" fill="#c2deec"/><rect x="114.64" y="1311.96" width="19.38" height="16.04" fill="#c5dfec"/><rect x="133.02" y="1311.96" width="19.38" height="16.04" fill="#cae2ee"/><rect x="151.40" y="1311.96" width="19.38" height="16.04" fill="#cfe4ee"/><rect x="169.78" y="1311.96" width="19.38" height="16.04" fill="#d2e5ef"/><rect x="188.17" y="1311.96" width="19.38" height="16.04" fill="#d2e5ee"/><rect x="206.55" y="1311.96" width="19.38" height="16.04" fill="#d8e7ef"/><rect x="224.93" y="1311.96" width="19.38" height="16.04" fill="#deeaef"/><rect x="243.31" y="1311.96" width="19.38" height="16.04" fill="#e4ecef"/><rect x="261.69" y="1311.96" width="19.38" height="16.04" fill="#eaeeef"/><rect x="280.07" y="1311.96" width="19.38" height="16.04" fill="#f1f2f1"/><rect x="298.45" y="1311.96" width="19.38" height="16.04" fill="#f6f1ee"/><rect x="316.83" y="1311.96" width="19.38" height="16.04" fill="#f7eee9"/><rect x="335.21" y="1311.96" width="19.38" height="16.04" fill="#f8eae2"/><rect x="353.59" y="1311.96" width="19.38" height="16.04" fill="#f9e8dd"/><rect x="371.97" y="1311.96" width="19.38" height="16.04" fill="#fae4d6"/><rect x="390.35" y="1311.96" width="19.38" height="16.04" fill="#fbe1d1"/><rect x="408.73" y="1311.96" width="19.38" height="16.04" fill="#fcdecc"/><rect x="427.12" y="1311.96" width="19.38" height="16.04" fill="#fddbc7"/><rect x="445.50" y="1311.96" width="19.38" height="16.04" fill="#fdd9c4"/><rect x="463.88" y="1311.96" width="19.38" height="16.04" fill="#fcd7c2"/><rect x="482.26" y="1311.96" width="19.38" height="16.04" fill="#fcd7c2"/><rect x="500.64" y="1311.96" width="19.38" height="16.04" fill="#fcd7c2"/><rect x="519.02" y="1311.96" width="22.38" height="16.04" fill="#fcd7c2"/>
<rect x="56.50" y="1327.00" width="22.38" height="16.04" fill="#c2deec"/><rect x="77.88" y="1327.00" width="19.38" height="16.04" fill="#c2deec"/><rect x="96.26" y="1327.00" width="19.38" height="16.04" fill="#c5dfec"/><rect x="114.64" y="1327.00" width="19.38" height="16.04" fill="#c7e1ed"/><rect x="133.02" y="1327.00" width="19.38" height="16.04" fill="#cce3ee"/><rect x="151.40" y="1327.00" width="19.38" height="16.04" fill="#d0e4ee"/><rect x="169.78" y="1327.00" width="19.38" height="16.04" fill="#d3e6ef"/><rect x="188.17" y="1327.00" width="19.38" height="16.04" fill="#d3e6ef"/><rect x="206.55" y="1327.00" width="19.38" height="16.04" fill="#d8e7ef"/><rect x="224.93" y="1327.00" width="19.38" height="16.04" fill="#dee9ef"/><rect x="243.31" y="1327.00" width="19.38" height="16.04" fill="#e4ecef"/><rect x="261.69" y="1327.00" width="19.38" height="16.04" fill="#eaeeef"/><rect x="280.07" y="1327.00" width="19.38" height="16.04" fill="#f1f2f1"/><rect x="298.45" y="1327.00" width="19.38" height="16.04" fill="#f6f1ee"/><rect x="316.83" y="1327.00" width="19.38" height="16.04" fill="#f7eee9"/><rect x="335.21" y="1327.00" width="19.38" height="16.04" fill="#f8eae2"/><rect x="353.59" y="1327.00" width="19.38" height="16.04" fill="#f9e8dd"/><rect x="371.97" y="1327.00" width="19.38" height="16.04" fill="#fae5d8"/><rect x="390.35" y="1327.00" width="19.38" height="16.04" fill="#fbe2d3"/><rect x="408.73" y="1327.00" width="19.38" height="16.04" fill="#fcdfce"/><rect x="427.12" y="1327.00" width="19.38" height="16.04" fill="#fcddca"/><rect x="445.50" y="1327.00" width="19.38" height="16.04" fill="#fddbc7"/><rect x="463.88" y="1327.00" width="19.38" height="16.04" fill="#fddbc7"/><rect x="482.26" y="1327.00" width="19.38" height="16.04" fill="#fddbc7"/><rect x="500.64" y="1327.00" width="19.38" height="16.04" fill="#fddbc7"/><rect x="519.02" y="1327.00" width="22.38" height="16.04" fill="#fddbc7"/>
<rect x="56.50" y="1342.05" width="22.38" height="16.04" fill="#c5dfec"/><rect x="77.88" y="1342.05" width="19.38" height="16.04" fill="#c5dfec"/><rect x="96.26" y="1342.05" width="19.38" height="16.04" fill="#c7e1ed"/><rect x="114.64" y="1342.05" width="19.38" height="16.04" fill="#cce3ee"/><rect x="133.02" y="1342.05" width="19.38" height="16.04" fill="#cfe4ee"/><rect x="151.40" y="1342.05" width="19.38" height="16.04" fill="#d2e5ee"/><rect x="169.78" y="1342.05" width="19.38" height="16.04" fill="#d3e6ee"/><rect x="188.17" y="1342.05" width="19.38" height="16.04" fill="#d5e6ef"/><rect x="206.55" y="1342.05" width="19.38" height="16.04" fill="#dae8ef"/><rect x="224.93" y="1342.05" width="19.38" height="16.04" fill="#e0eaef"/><rect x="243.31" y="1342.05" width="19.38" height="16.04" fill="#e4ecef"/><rect x="261.69" y="1342.05" width="19.38" height="16.04" fill="#ebeff0"/><rect x="280.07" y="1342.05" width="19.38" height="16.04" fill="#f1f2f1"/><rect x="298.45" y="1342.05" width="19.38" height="16.04" fill="#f6f1ee"/><rect x="316.83" y="1342.05" width="19.38" height="16.04" fill="#f7eee9"/><rect x="335.21" y="1342.05" width="19.38" height="16.04" fill="#f8ebe4"/><rect x="353.59" y="1342.05" width="19.38" height="16.04" fill="#f9e8dd"/><rect x="371.97" y="1342.05" width="19.38" height="16.04" fill="#fae5d8"/><rect x="390.35" y="1342.05" width="19.38" height="16.04" fill="#fbe2d3"/><rect x="408.73" y="1342.05" width="19.38" height="16.04" fill="#fcdfce"/><rect x="427.12" y="1342.05" width="19.38" height="16.04" fill="#fcddca"/><rect x="445.50" y="1342.05" width="19.38" height="16.04" fill="#fddcc9"/><rect x="463.88" y="1342.05" width="19.38" height="16.04" fill="#fddcc9"/><rect x="482.26" y="1342.05" width="19.38" height="16.04" fill="#fddcc9"/><rect x="500.64" y="1342.05" width="19.38" height="16.04" fill="#fddcc9"/><rect x="519.02" y="1342.05" width="22.38" height="16.04" fill="#fddcc9"/>
<rect x="56.50" y="1357.09" width="22.38" height="16.04" fill="#c7e1ed"/><rect x="77.88" y="1357.09" width="19.38" height="16.04" fill="#c7e1ed"/><rect x="96.26" y="1357.09" width="19.38" height="16.04" fill="#cae2ed"/><rect x="114.64" y="1357.09" width="19.38" height="16.04" fill="#cce3ee"/><rect x="133.02" y="1357.09" width="19.38" height="16.04" fill="#d0e4ee"/><rect x="151.40" y="1357.09" width="19.38" height="16.04" fill="#d3e6ef"/><rect x="169.78" y="1357.09" width="19.38" height="16.04" fill="#d5e6ef"/><rect x="188.17" y="1357.09" width="19.38" height="16.04" fill="#d5e6ef"/><rect x="206.55" y="1357.09" width="19.38" height="16.04" fill="#dae8ef"/><rect x="224.93" y="1357.09" width="19.38" height="16.04" fill="#e0eaef"/><rect x="243.31" y="1357.09" width="19.38" height="16.04" fill="#e5ecef"/><rect x="261.69" y="1357.09" width="19.38" height="16.04" fill="#ebeff0"/><rect x="280.07" y="1357.09" width="19.38" height="16.04" fill="#f1f2f1"/><rect x="298.45" y="1357.09" width="19.38" height="16.04" fill="#f6f1ee"/><rect x="316.83" y="1357.09" width="19.38" height="16.04" fill="#f7eee9"/><rect x="335.21" y="1357.09" width="19.38" height="16.04" fill="#f8ebe4"/><rect x="353.59" y="1357.09" width="19.38" height="16.04" fill="#f9e9df"/><rect x="371.97" y="1357.09" width="19.38" height="16.04" fill="#fae5d8"/><rect x="390.35" y="1357.09" width="19.38" height="16.04" fill="#fbe2d3"/><rect x="408.73" y="1357.09" width="19.38" height="16.04" fill="#fce0cf"/><rect x="427.12" y="1357.09" width="19.38" height="16.04" fill="#fcdecc"/><rect x="445.50" y="1357.09" width="19.38" height="16.04" fill="#fcddca"/><rect x="463.88" y="1357.09" width="19.38" height="16.04" fill="#fcddca"/><rect x="482.26" y="1357.09" width="19.38" height="16.04" fill="#fddcc9"/><rect x="500.64" y="1357.09" width="19.38" height="16.04" fill="#fddcc9"/><rect x="519.02" y="1357.09" width="22.38" height="16.04" fill="#fddcc9"/>
<rect x="56.50" y="1372.13" width="22.38" height="16.04" fill="#cae2ed"/><rect x="77.88" y="1372.13" width="19.38" height="16.04" fill="#cae2ed"/><rect x="96.26" y="1372.13" width="19.38" height="16.04" fill="#cce3ee"/><rect x="114.64" y="1372.13" width="19.38" height="16.04" fill="#cfe4ee"/><rect x="133.02" y="1372.13" width="19.38" height="16.04" fill="#d0e4ee"/><rect x="151.40" y="1372.13" width="19.38" height="16.04" fill="#d3e6ef"/><rect x="169.78" y="1372.13" width="19.38" height="16.04" fill="#d5e6ef"/><rect x="188.17" y="1372.13" width="19.38" height="16.04" fill="#d7e7ef"/><rect x="206.55" y="1372.13" width="19.38" height="16.04" fill="#dae8ef"/><rect x="224.93" y="1372.13" width="19.38" height="16.04" fill="#e0eaef"/><rect x="243.31" y="1372.13" width="19.38" height="16.04" fill="#e5ecef"/><rect x="261.69" y="1372.13" width="19.38" height="16.04" fill="#ebeff0"/><rect x="280.07" y="1372.13" width="19.38" height="16.04" fill="#f1f2f1"/><rect x="298.45" y="1372.13" width="19.38" height="16.04" fill="#f6f1ee"/><rect x="316.83" y="1372.13" width="19.38" height="16.04" fill="#f7eee9"/><rect x="335.21" y="1372.13" width="19.38" height="16.04" fill="#f8ebe4"/><rect x="353.59" y="1372.13" width="19.38" height="16.04" fill="#f9e9df"/><rect x="371.97" y="1372.13" width="19.38" height="16.04" fill="#fae6da"/><rect x="390.35" y="1372.13" width="19.38" height="16.04" fill="#fbe3d5"/><rect x="408.73" y="1372.13" width="19.38" height="16.04" fill="#fce0cf"/><rect x="427.12" y="1372.13" width="19.38" height="16.04" fill="#fcdecc"/><rect x="445.50" y="1372.13" width="19.38" height="16.04" fill="#fcddca"/><rect x="463.88" y="1372.13" width="19.38" height="16.04" fill="#fcddca"/><rect x="482.26" y="1372.13" width="19.38" height="16.04" fill="#fcddca"/><rect x="500.64" y="1372.13" width="19.38" height="16.04" fill="#fcddca"/><rect x="519.02" y="1372.13" width="22.38" height="16.04" fill="#fcddca"/>
<rect x="56.50" y="1387.17" width="22.38" height="16.04" fill="#cae2ed"/><rect x="77.88" y="1387.17" width="19.38" height="16.04" fill="#cae2ed"/><rect x="96.26" y="1387.17" width="19.38" height="16.04" fill="#cce3ee"/><rect x="114.64" y="1387.17" width="19.38" height="16.04" fill="#cfe4ee"/><rect x="133.02" y="1387.17" width="19.38" height="16.04" fill="#d0e4ee"/><rect x="151.40" y="1387.17" width="19.38" height="16.04" fill="#d3e6ef"/><rect x="169.78" y="1387.17" width="19.38" height="16.04" fill="#d5e6ef"/><rect x="188.17" y="1387.17" width="19.38" height="16.04" fill="#d7e7ef"/><rect x="206.55" y="1387.17" width="19.38" height="16.04" fill="#dbe8ef"/><rect x="224.93" y="1387.17" width="19.38" height="16.04" fill="#e1ebef"/><rect x="243.31" y="1387.17" width="19.38" height="16.04" fill="#e5ecef"/><rect x="261.69" y="1387.17" width="19.38" height="16.04" fill="#ebeff0"/><rect x="280.07" y="1387.17" width="19.38" height="16.04" fill="#f1f2f1"/><rect x="298.45" y="1387.17" width="19.38" height="16.04" fill="#f6f1ee"/><rect x="316.83" y="1387.17" width="19.38" height="16.04" fill="#f7eee9"/><rect x="335.21" y="1387.17" width="19.38" height="16.04" fill="#f8ebe4"/><rect x="353.59" y="1387.17" width="19.38" height="16.04" fill="#f9e9df"/><rect x="371.97" y="1387.17" width="19.38" height="16.04" fill="#fae6da"/><rect x="390.35" y="1387.17" width="19.38" height="16.04" fill="#fbe3d5"/><rect x="408.73" y="1387.17" width="19.38" height="16.04" fill="#fbe0cf"/><rect x="427.12" y="1387.17" width="19.38" height="16.04" fill="#fcdecc"/><rect x="445.50" y="1387.17" width="19.38" height="16.04" fill="#fcddca"/><rect x="463.88" y="1387.17" width="19.38" height="16.04" fill="#fcddca"/><rect x="482.26" y="1387.17" width="19.38" height="16.04" fill="#fcddca"/><rect x="500.64" y="1387.17" width="19.38" height="16.04" fill="#fcddca"/><rect x="519.02" y="1387.17" width="22.38" height="16.04" fill="#fcddca"/>
<rect x="56.50" y="1402.22" width="22.38" height="16.04" fill="#c7e1ed"/><rect x="77.88" y="1402.22" width="19.38" height="16.04" fill="#c7e1ed"/><rect x="96.26" y="1402.22" width="19.38" height="16.04" fill="#cae2ed"/><rect x="114.64" y="1402.22" width="19.38" height="16.04" fill="#cce3ee"/><rect x="133.02" y="1402.22" width="19.38" height="16.04" fill="#d0e4ef"/><rect x="151.40" y="1402.22" width="19.38" height="16.04" fill="#d2e5ee"/><rect x="169.78" y="1402.22" width="19.38" height="16.04" fill="#d5e6ef"/><rect x="188.17" y="1402.22" width="19.38" height="16.04" fill="#d7e7ef"/><rect x="206.55" y="1402.22" width="19.38" height="16.04" fill="#dbe8ef"/><rect x="224.93" y="1402.22" width="19.38" height="16.04" fill="#e1ebef"/><rect x="243.31" y="1402.22" width="19.38" height="16.04" fill="#e5ecef"/><rect x="261.69" y="1402.22" width="19.38" height="16.04" fill="#ebeff0"/><rect x="280.07" y="1402.22" width="19.38" height="16.04" fill="#f1f2f1"/><rect x="298.45" y="1402.22" width="19.38" height="16.04" fill="#f6f1ee"/><rect x="316.83" y="1402.22" width="19.38" height="16.04" fill="#f7eee9"/><rect x="335.21" y="1402.22" width="19.38" height="16.04" fill="#f8ebe4"/><rect x="353.59" y="1402.22" width="19.38" height="16.04" fill="#f9e9df"/><rect x="371.97" y="1402.22" width="19.38" height="16.04" fill="#fae6da"/><rect x="390.35" y="1402.22" width="19.38" height="16.04" fill="#fbe3d5"/><rect x="408.73" y="1402.22" width="19.38" height="16.04" fill="#fbe0cf"/><rect x="427.12" y="1402.22" width="19.38" height="16.04" fill="#fcdfce"/><rect x="445.50" y="1402.22" width="19.38" height="16.04" fill="#fcdecc"/><rect x="463.88" y="1402.22" width="19.38" height="16.04" fill="#fcddca"/><rect x="482.26" y="1402.22" width="19.38" height="16.04" fill="#fcddca"/><rect x="500.64" y="1402.22" width="19.38" height="16.04" fill="#fcddca"/><rect x="519.02" y="1402.22" width="22.38" height="16.04" fill="#fcddca"/>
<rect x="56.50" y="1417.26" width="22.38" height="19.04" fill="#c5dfec"/><rect x="77.88" y="1417.26" width="19.38" height="19.04" fill="#c7e1ed"/><rect x="96.26" y="1417.26" width="19.38" height="19.04" fill="#cae2ee"/><rect x="114.64" y="1417.26" width="19.38" height="19.04" fill="#cce3ee"/><rect x="133.02" y="1417.26" width="19.38" height="19.04" fill="#cfe4ee"/><rect x="151.40" y="1417.26" width="19.38" height="19.04" fill="#d0e4ee"/><rect x="169.78" y="1417.26" width="19.38" height="19.04" fill="#d3e6ef"/><rect x="188.17" y="1417.26" width="19.38" height="19.04" fill="#d7e7ef"/><rect x="206.55" y="1417.26" width="19.38" height="19.04" fill="#dde9ef"/><rect x="224.93" y="1417.26" width="19.38" height="19.04" fill="#e1ebef"/><rect x="243.31" y="1417.26" width="19.38" height="19.04" fill="#e5ecef"/><rect x="261.69" y="1417.26" width="19.38" height="19.04" fill="#ebefef"/><rect x="280.07" y="1417.26" width="19.38" height="19.04" fill="#f1f2f1"/><rect x="298.45" y="1417.26" width="19.38" height="19.04" fill="#f6f1ee"/><rect x="316.83" y="1417.26" width="19.38" height="19.04" fill="#f7eee9"/><rect x="335.21" y="1417.26" width="19.38" height="19.04" fill="#f8ebe4"/><rect x="353.59" y="1417.26" width="19.38" height="19.04" fill="#f9e9df"/><rect x="371.97" y="1417.26" width="19.38" height="19.04" fill="#fae6da"/><rect x="390.35" y="1417.26" width="19.38" height="19.04" fill="#fbe3d4"/><rect x="408.73" y="1417.26" width="19.38" height="19.04" fill="#fbe0cf"/><rect x="427.12" y="1417.26" width="19.38" height="19.04" fill="#fcdfce"/><rect x="445.50" y="1417.26" width="19.38" height="19.04" fill="#fcdecc"/><rect x="463.88" y="1417.26" width="19.38" height="19.04" fill="#fcdecc"/><rect x="482.26" y="1417.26" width="19.38" height="19.04" fill="#fcddca"/><rect x="500.64" y="1417.26" width="19.38" height="19.04" fill="#fcddca"/><rect x="519.02" y="1417.26" width="22.38" height="19.04" fill="#fcddca"/>
</g></g>
<line x1="59.50" y1="1041.20" x2="537.40" y2="1041.20" stroke-width="1.00" stroke-opacity="0.45"/><line x1="537.40" y1="1041.20" x2="537.40" y2="1432.30" stroke-width="1.00" stroke-opacity="0.35"/><line x1="59.50" y1="1040.70" x2="59.50" y2="1432.90" stroke-width="1.50" stroke-opacity="0.30"/><line x1="58.90" y1="1432.30" x2="537.90" y2="1432.30" stroke-width="1.30" stroke-opacity="0.75"/>
<line x1="68.69" y1="1432.30" x2="68.69" y2="1435.90" stroke-width="1.10" stroke-opacity="0.60"/><text x="68.69" y="1454.00" font-size="17.60" text-anchor="middle">0.0</text>
<line x1="55.30" y1="1424.78" x2="59.50" y2="1424.78" stroke-width="1.10" stroke-opacity="0.65"/><text x="49.20" y="1431.20" font-size="17.60" text-anchor="end">0.0</text>
<line x1="160.59" y1="1432.30" x2="160.59" y2="1435.90" stroke-width="1.10" stroke-opacity="0.60"/><text x="160.59" y="1454.00" font-size="17.60" text-anchor="middle">0.2</text>
<line x1="55.30" y1="1349.57" x2="59.50" y2="1349.57" stroke-width="1.10" stroke-opacity="0.65"/><text x="49.20" y="1355.99" font-size="17.60" text-anchor="end">0.2</text>
<line x1="252.50" y1="1432.30" x2="252.50" y2="1435.90" stroke-width="1.10" stroke-opacity="0.60"/><text x="252.50" y="1454.00" font-size="17.60" text-anchor="middle">0.4</text>
<line x1="55.30" y1="1274.36" x2="59.50" y2="1274.36" stroke-width="1.10" stroke-opacity="0.65"/><text x="49.20" y="1280.78" font-size="17.60" text-anchor="end">0.4</text>
<line x1="344.40" y1="1432.30" x2="344.40" y2="1435.90" stroke-width="1.10" stroke-opacity="0.60"/><text x="344.40" y="1454.00" font-size="17.60" text-anchor="middle">0.6</text>
<line x1="55.30" y1="1199.14" x2="59.50" y2="1199.14" stroke-width="1.10" stroke-opacity="0.65"/><text x="49.20" y="1205.57" font-size="17.60" text-anchor="end">0.6</text>
<line x1="436.31" y1="1432.30" x2="436.31" y2="1435.90" stroke-width="1.10" stroke-opacity="0.60"/><text x="436.31" y="1454.00" font-size="17.60" text-anchor="middle">0.8</text>
<line x1="55.30" y1="1123.93" x2="59.50" y2="1123.93" stroke-width="1.10" stroke-opacity="0.65"/><text x="49.20" y="1130.36" font-size="17.60" text-anchor="end">0.8</text>
<line x1="528.21" y1="1432.30" x2="528.21" y2="1435.90" stroke-width="1.10" stroke-opacity="0.60"/><text x="528.21" y="1454.00" font-size="17.60" text-anchor="middle">1.0</text>
<line x1="55.30" y1="1048.72" x2="59.50" y2="1048.72" stroke-width="1.10" stroke-opacity="0.65"/><text x="49.20" y="1055.15" font-size="17.60" text-anchor="end">1.0</text>
<text x="298.45" y="1475.50" font-size="17.60" text-anchor="middle">x</text>
<text transform="translate(11.30,1237.75) rotate(-90)" font-size="17.60" text-anchor="middle">y</text>
<text x="297.40" y="1033.60" font-size="21.10" text-anchor="middle">exy_NN</text>
<rect x="565.60" y="1041.20" width="19.80" height="391.10" fill="url(#rdbu)"/><line x1="565.60" y1="1041.20" x2="585.40" y2="1041.20" stroke-width="1.00" stroke-opacity="0.50"/><line x1="585.40" y1="1041.20" x2="585.40" y2="1432.30" stroke-width="1.20" stroke-opacity="0.30"/><line x1="565.60" y1="1040.70" x2="565.60" y2="1432.90" stroke-width="1.50" stroke-opacity="1.00"/><line x1="565.00" y1="1432.30" x2="586.00" y2="1432.30" stroke-width="1.30" stroke-opacity="0.90"/>
<line x1="585.40" y1="1041.20" x2="590.00" y2="1041.20" stroke-width="1.10" stroke-opacity="0.60"/><text x="594.00" y="1047.62" font-size="17.60">0.2738</text>
<line x1="585.40" y1="1073.79" x2="590.00" y2="1073.79" stroke-width="1.10" stroke-opacity="0.60"/><text x="594.00" y="1080.22" font-size="17.60">0.2290</text>
<line x1="585.40" y1="1106.38" x2="590.00" y2="1106.38" stroke-width="1.10" stroke-opacity="0.60"/><text x="594.00" y="1112.81" font-size="17.60">0.1841</text>
<line x1="585.40" y1="1138.97" x2="590.00" y2="1138.97" stroke-width="1.10" stroke-opacity="0.60"/><text x="594.00" y="1145.40" font-size="17.60">0.1392</text>
<line x1="585.40" y1="1171.57" x2="590.00" y2="1171.57" stroke-width="1.10" stroke-opacity="0.60"/><text x="594.00" y="1177.99" font-size="17.60">0.0944</text>
<line x1="585.40" y1="1204.16" x2="590.00" y2="1204.16" stroke-width="1.10" stroke-opacity="0.60"/><text x="594.00" y="1210.58" font-size="17.60">0.0495</text>
<line x1="585.40" y1="1236.75" x2="590.00" y2="1236.75" stroke-width="1.10" stroke-opacity="0.60"/><text x="594.00" y="1243.17" font-size="17.60">0.0046</text>
<line x1="585.40" y1="1269.34" x2="590.00" y2="1269.34" stroke-width="1.10" stroke-opacity="0.60"/><text x="594.00" y="1275.77" font-size="17.60">-0.0402</text>
<line x1="585.40" y1="1301.93" x2="590.00" y2="1301.93" stroke-width="1.10" stroke-opacity="0.60"/><text x="594.00" y="1308.36" font-size="17.60">-0.0851</text>
<line x1="585.40" y1="1334.53" x2="590.00" y2="1334.53" stroke-width="1.10" stroke-opacity="0.60"/><text x="594.00" y="1340.95" font-size="17.60">-0.1300</text>
<line x1="585.40" y1="1367.12" x2="590.00" y2="1367.12" stroke-width="1.10" stroke-opacity="0.60"/><text x="594.00" y="1373.54" font-size="17.60">-0.1748</text>
<line x1="585.40" y1="1399.71" x2="590.00" y2="1399.71" stroke-width="1.10" stroke-opacity="0.60"/><text x="594.00" y="1406.13" font-size="17.60">-0.2197</text>
<line x1="585.40" y1="1432.30" x2="590.00" y2="1432.30" stroke-width="1.10" stroke-opacity="0.60"/><text x="594.00" y="1438.72" font-size="17.60">-0.2645</text>
</svg>
</body></html>
